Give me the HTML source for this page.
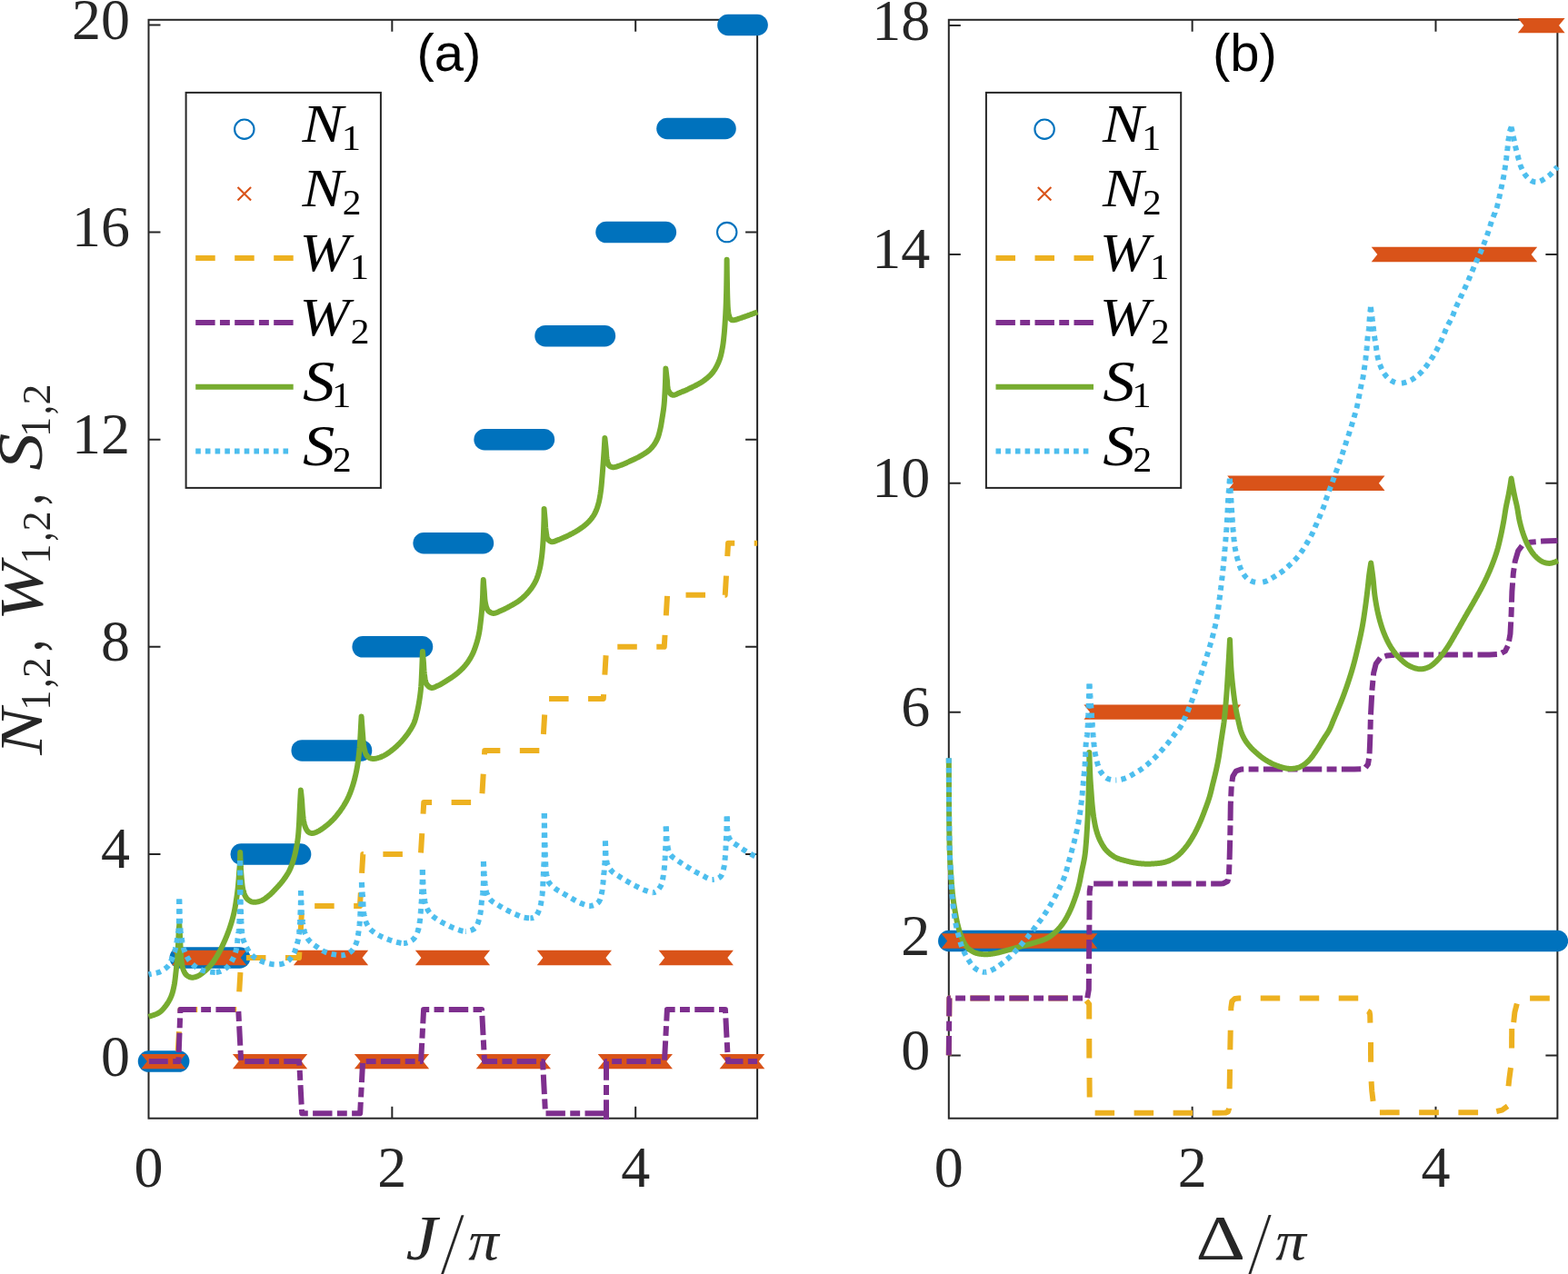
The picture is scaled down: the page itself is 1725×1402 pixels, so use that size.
<!DOCTYPE html>
<html><head><meta charset="utf-8"><title>figure</title>
<style>
html,body{margin:0;padding:0;background:#fff}
svg{display:block}
text{fill:#262626}
.rm{font-family:"Liberation Serif","DejaVu Serif",serif}
.it{font-family:"Liberation Serif","DejaVu Serif",serif;font-style:italic}
.dl{font-family:"DejaVu Sans Light","DejaVu Sans","Liberation Sans",sans-serif;font-weight:200}
.k{fill:#000}
.sf{font-family:"Liberation Sans","DejaVu Sans",sans-serif;fill:#000}
</style></head><body>
<svg width="1725" height="1402" viewBox="0 0 1725 1402">
<rect width="1725" height="1402" fill="#fff"/>
<rect x="163.5" y="21.8" width="669.6" height="1208.9" fill="none" stroke="#262626" stroke-width="2"/>
<path d="M431.34,1230.7 v-13 M431.34,21.8 v13 M699.18,1230.7 v-13 M699.18,21.8 v13 M163.5,1168.1 h13 M833.1,1168.1 h-13 M163.5,939.98 h13 M833.1,939.98 h-13 M163.5,711.86 h13 M833.1,711.86 h-13 M163.5,483.74 h13 M833.1,483.74 h-13 M163.5,255.62 h13 M833.1,255.62 h-13 M163.5,27.5 h13 M833.1,27.5 h-13" stroke="#262626" stroke-width="2" fill="none"/>
<path d="M163.5,1168.1 H196.68" stroke="#0072BD" stroke-width="23.5" stroke-linecap="round" fill="none"/>
<path d="M198.28,1054.04 H263.64" stroke="#0072BD" stroke-width="23.5" stroke-linecap="round" fill="none"/>
<path d="M265.24,939.98 H330.6" stroke="#0072BD" stroke-width="23.5" stroke-linecap="round" fill="none"/>
<path d="M332.2,825.92 H397.56" stroke="#0072BD" stroke-width="23.5" stroke-linecap="round" fill="none"/>
<path d="M399.16,711.86 H464.52" stroke="#0072BD" stroke-width="23.5" stroke-linecap="round" fill="none"/>
<path d="M466.12,597.8 H531.48" stroke="#0072BD" stroke-width="23.5" stroke-linecap="round" fill="none"/>
<path d="M533.08,483.74 H598.44" stroke="#0072BD" stroke-width="23.5" stroke-linecap="round" fill="none"/>
<path d="M600.04,369.68 H665.4" stroke="#0072BD" stroke-width="23.5" stroke-linecap="round" fill="none"/>
<path d="M667,255.62 H732.36" stroke="#0072BD" stroke-width="23.5" stroke-linecap="round" fill="none"/>
<path d="M733.96,141.56 H798.02" stroke="#0072BD" stroke-width="23.5" stroke-linecap="round" fill="none"/>
<path d="M800.92,27.5 H833.1" stroke="#0072BD" stroke-width="23.5" stroke-linecap="round" fill="none"/>
<circle cx="799.72" cy="255.62" r="10.7" fill="none" stroke="#0072BD" stroke-width="2.1"/>
<polygon points="155.3,1159.9 204.28,1159.9 197.68,1168.1 204.28,1176.3 155.3,1176.3 161.9,1168.1" fill="#D95319"/>
<polygon points="188.98,1045.84 271.24,1045.84 264.64,1054.04 271.24,1062.24 188.98,1062.24 195.58,1054.04" fill="#D95319"/>
<polygon points="255.94,1159.9 338.2,1159.9 331.6,1168.1 338.2,1176.3 255.94,1176.3 262.54,1168.1" fill="#D95319"/>
<polygon points="322.9,1045.84 405.16,1045.84 398.56,1054.04 405.16,1062.24 322.9,1062.24 329.5,1054.04" fill="#D95319"/>
<polygon points="389.86,1159.9 472.12,1159.9 465.52,1168.1 472.12,1176.3 389.86,1176.3 396.46,1168.1" fill="#D95319"/>
<polygon points="456.82,1045.84 539.08,1045.84 532.48,1054.04 539.08,1062.24 456.82,1062.24 463.42,1054.04" fill="#D95319"/>
<polygon points="523.78,1159.9 606.04,1159.9 599.44,1168.1 606.04,1176.3 523.78,1176.3 530.38,1168.1" fill="#D95319"/>
<polygon points="590.74,1045.84 673,1045.84 666.4,1054.04 673,1062.24 590.74,1062.24 597.34,1054.04" fill="#D95319"/>
<polygon points="657.7,1159.9 739.96,1159.9 733.36,1168.1 739.96,1176.3 657.7,1176.3 664.3,1168.1" fill="#D95319"/>
<polygon points="724.66,1045.84 806.92,1045.84 800.32,1054.04 806.92,1062.24 724.66,1062.24 731.26,1054.04" fill="#D95319"/>
<polygon points="791.62,1159.9 841.3,1159.9 834.7,1168.1 841.3,1176.3 791.62,1176.3 798.22,1168.1" fill="#D95319"/>
<path d="M163.5,1168.1 L195.08,1168.1 L198.43,1111.07 L262.04,1111.07 L265.39,1054.04 L329,1054.04 L332.35,997.01 L395.96,997.01 L399.31,939.98 L462.92,939.98 L466.27,882.95 L529.88,882.95 L533.23,825.92 L596.84,825.92 L600.19,768.89 L663.8,768.89 L667.15,711.86 L730.76,711.86 L734.11,654.83 L797.72,654.83 L801.07,597.8 L833.1,597.8" fill="none" stroke="#EDB120" stroke-width="6" stroke-linejoin="round" stroke-linecap="butt" stroke-dasharray="21.5 21.5" stroke-dashoffset="0"/>
<path d="M163.5,1168.1 L196.38,1168.1 L198.38,1111.07 L262.24,1111.07 L265.19,1168.1 L329.2,1168.1 L332.15,1225.13 L396.16,1225.13 L399.11,1168.1 L463.12,1168.1 L466.07,1111.07 L530.08,1111.07 L533.03,1168.1 L597.04,1168.1 L599.99,1225.13 L667,1225.13 L667,1231.7" fill="none" stroke="#7E2F8E" stroke-width="6" stroke-linejoin="round" stroke-linecap="butt" stroke-dasharray="21.4 5.35 10.9 5.35" stroke-dashoffset="0"/>
<path d="M667,1231.7 L667,1168.1 L730.96,1168.1 L733.91,1111.07 L797.92,1111.07 L800.87,1168.1 L833.1,1168.1" fill="none" stroke="#7E2F8E" stroke-width="6" stroke-linejoin="round" stroke-linecap="butt" stroke-dasharray="21.4 5.35 10.9 5.35" stroke-dashoffset="0"/>
<path d="M163.5,1118.9 L164.08,1118.68 L164.66,1118.47 L165.26,1118.27 L165.85,1118.07 L166.45,1117.87 L167.05,1117.68 L167.66,1117.49 L168.26,1117.3 L168.86,1117.11 L169.46,1116.91 L170.05,1116.71 L170.64,1116.5 L171.22,1116.29 L171.79,1116.06 L172.36,1115.82 L172.91,1115.57 L173.45,1115.3 L173.98,1115.02 L174.5,1114.72 L175,1114.4 L175.5,1114.05 L175.98,1113.69 L176.46,1113.31 L176.93,1112.92 L177.39,1112.52 L177.84,1112.1 L178.28,1111.67 L178.71,1111.23 L179.14,1110.78 L179.56,1110.32 L179.96,1109.86 L180.37,1109.39 L180.76,1108.91 L181.15,1108.43 L181.53,1107.95 L181.91,1107.46 L182.28,1106.98 L182.64,1106.49 L183,1106 L183.35,1105.51 L183.69,1105.02 L184.03,1104.52 L184.36,1104.02 L184.68,1103.51 L185,1103 L185.31,1102.48 L185.62,1101.96 L185.91,1101.43 L186.2,1100.9 L186.49,1100.37 L186.76,1099.83 L187.03,1099.29 L187.29,1098.75 L187.55,1098.2 L187.8,1097.65 L188.04,1097.1 L188.27,1096.55 L188.5,1096 L188.72,1095.45 L188.93,1094.89 L189.13,1094.34 L189.32,1093.78 L189.5,1093.22 L189.67,1092.66 L189.84,1092.1 L190,1091.54 L190.15,1090.97 L190.3,1090.39 L190.45,1089.82 L190.59,1089.23 L190.72,1088.65 L190.86,1088.05 L190.99,1087.46 L191.12,1086.85 L191.25,1086.24 L191.37,1085.62 L191.5,1085 L191.61,1084.45 L191.71,1083.88 L191.82,1083.32 L191.91,1082.74 L192.01,1082.16 L192.1,1081.57 L192.19,1080.98 L192.27,1080.39 L192.36,1079.78 L192.44,1079.18 L192.51,1078.57 L192.59,1077.96 L192.67,1077.35 L192.74,1076.74 L192.81,1076.12 L192.88,1075.51 L192.95,1074.89 L193.02,1074.27 L193.09,1073.66 L193.16,1073.04 L193.22,1072.43 L193.29,1071.82 L193.36,1071.21 L193.43,1070.6 L193.5,1070 L193.57,1069.4 L193.64,1068.8 L193.71,1068.2 L193.77,1067.6 L193.84,1067 L193.91,1066.4 L193.97,1065.8 L194.03,1065.2 L194.1,1064.6 L194.16,1064 L194.22,1063.4 L194.28,1062.8 L194.34,1062.2 L194.4,1061.6 L194.46,1061 L194.52,1060.4 L194.57,1059.8 L194.63,1059.2 L194.69,1058.6 L194.74,1058 L194.79,1057.4 L194.85,1056.8 L194.9,1056.2 L194.95,1055.6 L195,1055 L195.05,1054.4 L195.1,1053.8 L195.15,1053.2 L195.19,1052.6 L195.24,1052 L195.28,1051.4 L195.32,1050.8 L195.37,1050.2 L195.41,1049.6 L195.45,1049 L195.49,1048.4 L195.53,1047.8 L195.57,1047.2 L195.61,1046.6 L195.65,1046 L195.68,1045.4 L195.72,1044.8 L195.76,1044.2 L195.79,1043.6 L195.83,1043 L195.86,1042.4 L195.9,1041.8 L195.93,1041.2 L195.97,1040.6 L196,1040 L196.03,1039.4 L196.07,1038.79 L196.1,1038.17 L196.13,1037.55 L196.16,1036.93 L196.19,1036.3 L196.21,1035.67 L196.24,1035.04 L196.27,1034.41 L196.29,1033.78 L196.32,1033.15 L196.35,1032.52 L196.37,1031.9 L196.4,1031.28 L196.42,1030.66 L196.45,1030.05 L196.48,1029.45 L196.5,1028.86 L196.53,1028.28 L196.56,1027.7 L196.58,1027.14 L196.61,1026.58 L196.64,1026.04 L196.67,1025.51 L196.7,1025 L196.74,1024.3 L196.79,1023.63 L196.83,1022.98 L196.88,1022.35 L196.93,1021.74 L196.97,1021.14 L197.02,1020.55 L197.07,1019.96 L197.11,1019.38 L197.16,1018.79 L197.21,1018.21 L197.25,1017.61 L197.3,1017 L197.33,1017.62 L197.37,1018.23 L197.4,1018.83 L197.43,1019.44 L197.46,1020.04 L197.5,1020.63 L197.53,1021.23 L197.56,1021.83 L197.59,1022.43 L197.63,1023.03 L197.66,1023.63 L197.69,1024.24 L197.73,1024.85 L197.76,1025.46 L197.79,1026.08 L197.83,1026.71 L197.86,1027.35 L197.89,1028 L197.93,1028.65 L197.96,1029.32 L198,1030 L198.03,1030.55 L198.06,1031.1 L198.08,1031.68 L198.11,1032.26 L198.14,1032.85 L198.17,1033.45 L198.19,1034.06 L198.22,1034.68 L198.25,1035.31 L198.28,1035.94 L198.3,1036.57 L198.33,1037.21 L198.36,1037.85 L198.39,1038.5 L198.42,1039.14 L198.45,1039.79 L198.48,1040.43 L198.5,1041.08 L198.53,1041.72 L198.56,1042.35 L198.59,1042.99 L198.63,1043.61 L198.66,1044.24 L198.69,1044.85 L198.72,1045.46 L198.75,1046.05 L198.79,1046.64 L198.82,1047.21 L198.86,1047.78 L198.89,1048.33 L198.93,1048.87 L198.96,1049.39 L199,1049.9 L199.05,1050.62 L199.1,1051.32 L199.15,1052 L199.2,1052.67 L199.25,1053.32 L199.3,1053.96 L199.35,1054.58 L199.41,1055.19 L199.46,1055.79 L199.52,1056.39 L199.59,1056.98 L199.66,1057.57 L199.73,1058.15 L199.81,1058.73 L199.9,1059.31 L200,1059.9 L200.12,1060.55 L200.23,1061.21 L200.36,1061.86 L200.48,1062.51 L200.62,1063.15 L200.76,1063.79 L200.9,1064.41 L201.06,1065.03 L201.22,1065.64 L201.4,1066.23 L201.59,1066.8 L201.79,1067.36 L202,1067.9 L202.27,1068.54 L202.54,1069.16 L202.82,1069.77 L203.11,1070.36 L203.43,1070.92 L203.77,1071.46 L204.14,1071.97 L204.55,1072.45 L205,1072.9 L205.43,1073.27 L205.91,1073.63 L206.41,1073.97 L206.94,1074.3 L207.49,1074.6 L208.06,1074.87 L208.65,1075.12 L209.24,1075.33 L209.83,1075.5 L210.42,1075.62 L211,1075.7 L211.56,1075.73 L212.13,1075.71 L212.71,1075.65 L213.3,1075.56 L213.89,1075.43 L214.49,1075.27 L215.09,1075.08 L215.68,1074.88 L216.27,1074.65 L216.86,1074.41 L217.43,1074.16 L218,1073.9 L218.52,1073.64 L219.04,1073.36 L219.55,1073.06 L220.06,1072.75 L220.57,1072.41 L221.07,1072.06 L221.57,1071.69 L222.07,1071.31 L222.56,1070.92 L223.05,1070.53 L223.54,1070.13 L224.03,1069.72 L224.52,1069.31 L225,1068.9 L225.45,1068.51 L225.9,1068.12 L226.35,1067.73 L226.79,1067.33 L227.24,1066.93 L227.68,1066.52 L228.12,1066.1 L228.55,1065.67 L228.99,1065.24 L229.42,1064.79 L229.86,1064.34 L230.29,1063.88 L230.72,1063.4 L231.14,1062.91 L231.57,1062.41 L232,1061.9 L232.34,1061.47 L232.69,1061.04 L233.04,1060.59 L233.38,1060.13 L233.73,1059.66 L234.08,1059.18 L234.42,1058.7 L234.77,1058.2 L235.12,1057.7 L235.46,1057.2 L235.8,1056.69 L236.14,1056.17 L236.48,1055.65 L236.82,1055.13 L237.15,1054.6 L237.49,1054.08 L237.81,1053.55 L238.14,1053.02 L238.46,1052.5 L238.78,1051.97 L239.09,1051.45 L239.4,1050.93 L239.7,1050.41 L240,1049.9 L240.31,1049.36 L240.61,1048.83 L240.91,1048.29 L241.21,1047.75 L241.5,1047.2 L241.78,1046.66 L242.07,1046.12 L242.34,1045.58 L242.62,1045.03 L242.89,1044.48 L243.16,1043.94 L243.43,1043.39 L243.7,1042.84 L243.96,1042.3 L244.22,1041.75 L244.48,1041.2 L244.73,1040.65 L244.99,1040.1 L245.24,1039.55 L245.5,1039 L245.75,1038.45 L246,1037.9 L246.26,1037.33 L246.52,1036.77 L246.77,1036.2 L247.02,1035.63 L247.27,1035.06 L247.52,1034.49 L247.77,1033.92 L248.01,1033.35 L248.26,1032.78 L248.5,1032.21 L248.73,1031.64 L248.97,1031.06 L249.21,1030.49 L249.44,1029.92 L249.67,1029.35 L249.89,1028.77 L250.12,1028.2 L250.34,1027.62 L250.56,1027.05 L250.78,1026.48 L251,1025.9 L251.21,1025.33 L251.42,1024.76 L251.63,1024.2 L251.83,1023.63 L252.04,1023.06 L252.24,1022.49 L252.44,1021.92 L252.64,1021.35 L252.83,1020.78 L253.02,1020.2 L253.21,1019.63 L253.4,1019.06 L253.59,1018.49 L253.77,1017.92 L253.95,1017.34 L254.13,1016.77 L254.31,1016.2 L254.49,1015.62 L254.66,1015.05 L254.83,1014.47 L255,1013.9 L255.17,1013.3 L255.34,1012.71 L255.51,1012.11 L255.68,1011.51 L255.84,1010.91 L256,1010.31 L256.16,1009.71 L256.32,1009.11 L256.47,1008.51 L256.62,1007.91 L256.77,1007.31 L256.92,1006.71 L257.06,1006.11 L257.2,1005.51 L257.34,1004.91 L257.48,1004.31 L257.61,1003.7 L257.74,1003.1 L257.87,1002.5 L258,1001.9 L258.12,1001.3 L258.24,1000.71 L258.36,1000.11 L258.47,999.51 L258.58,998.9 L258.69,998.3 L258.79,997.7 L258.89,997.09 L258.99,996.49 L259.09,995.89 L259.19,995.29 L259.28,994.69 L259.37,994.09 L259.47,993.5 L259.56,992.9 L259.65,992.32 L259.74,991.73 L259.82,991.15 L259.91,990.57 L260,990 L260.1,989.35 L260.2,988.71 L260.29,988.07 L260.39,987.44 L260.48,986.81 L260.57,986.19 L260.66,985.57 L260.75,984.95 L260.84,984.33 L260.92,983.71 L261.01,983.1 L261.09,982.48 L261.17,981.86 L261.25,981.25 L261.32,980.62 L261.4,980 L261.47,979.38 L261.55,978.75 L261.62,978.13 L261.68,977.5 L261.75,976.88 L261.82,976.25 L261.88,975.63 L261.94,975 L262,974.38 L262.06,973.75 L262.12,973.13 L262.18,972.5 L262.24,971.88 L262.29,971.25 L262.35,970.63 L262.4,970 L262.45,969.38 L262.5,968.75 L262.55,968.13 L262.59,967.5 L262.64,966.88 L262.68,966.25 L262.72,965.63 L262.76,965 L262.8,964.38 L262.84,963.75 L262.88,963.13 L262.92,962.5 L262.97,961.87 L263.01,961.25 L263.05,960.62 L263.1,960 L263.15,959.38 L263.2,958.76 L263.25,958.14 L263.3,957.52 L263.36,956.91 L263.41,956.29 L263.47,955.67 L263.53,955.06 L263.58,954.44 L263.63,953.82 L263.68,953.19 L263.73,952.57 L263.78,951.93 L263.82,951.29 L263.86,950.65 L263.9,950 L263.93,949.43 L263.95,948.84 L263.98,948.26 L264,947.67 L264.02,947.08 L264.03,946.48 L264.05,945.88 L264.06,945.28 L264.08,944.68 L264.09,944.07 L264.1,943.46 L264.11,942.85 L264.12,942.24 L264.13,941.63 L264.14,941.03 L264.15,940.42 L264.16,939.81 L264.17,939.2 L264.19,938.6 L264.2,938 L264.22,938.61 L264.25,939.22 L264.27,939.83 L264.3,940.45 L264.32,941.07 L264.34,941.68 L264.36,942.3 L264.39,942.92 L264.41,943.54 L264.43,944.17 L264.45,944.79 L264.48,945.41 L264.5,946.03 L264.52,946.64 L264.54,947.26 L264.57,947.87 L264.59,948.49 L264.62,949.1 L264.64,949.71 L264.67,950.31 L264.69,950.91 L264.72,951.51 L264.75,952.1 L264.78,952.69 L264.8,953.28 L264.84,953.86 L264.87,954.43 L264.9,955 L264.94,955.66 L264.98,956.31 L265.02,956.96 L265.06,957.6 L265.1,958.24 L265.14,958.88 L265.18,959.51 L265.23,960.13 L265.27,960.75 L265.31,961.37 L265.36,961.99 L265.41,962.6 L265.46,963.21 L265.51,963.81 L265.56,964.42 L265.61,965.02 L265.66,965.62 L265.72,966.22 L265.78,966.81 L265.84,967.41 L265.9,968 L265.97,968.64 L266.03,969.27 L266.09,969.9 L266.15,970.54 L266.21,971.16 L266.27,971.79 L266.34,972.41 L266.4,973.03 L266.47,973.65 L266.54,974.26 L266.62,974.87 L266.71,975.47 L266.8,976.07 L266.9,976.67 L267.01,977.26 L267.13,977.84 L267.26,978.42 L267.4,979 L267.56,979.6 L267.72,980.21 L267.89,980.83 L268.06,981.44 L268.25,982.05 L268.44,982.66 L268.63,983.26 L268.84,983.86 L269.06,984.44 L269.29,985.01 L269.52,985.56 L269.77,986.1 L270.03,986.61 L270.31,987.1 L270.6,987.56 L270.9,988 L271.32,988.54 L271.78,989.04 L272.26,989.52 L272.76,989.98 L273.28,990.4 L273.81,990.78 L274.34,991.14 L274.87,991.46 L275.39,991.75 L275.9,992 L276.55,992.28 L277.18,992.49 L277.81,992.64 L278.47,992.74 L279.15,992.79 L279.9,992.8 L280.43,992.78 L280.98,992.75 L281.57,992.69 L282.17,992.61 L282.79,992.51 L283.43,992.39 L284.08,992.25 L284.73,992.09 L285.38,991.91 L286.02,991.71 L286.66,991.49 L287.29,991.26 L287.9,991 L288.42,990.76 L288.94,990.49 L289.46,990.21 L289.99,989.9 L290.51,989.58 L291.03,989.24 L291.55,988.89 L292.06,988.53 L292.57,988.15 L293.08,987.77 L293.59,987.38 L294.09,986.98 L294.58,986.58 L295.07,986.19 L295.56,985.79 L296.03,985.39 L296.5,985 L296.97,984.6 L297.44,984.19 L297.9,983.77 L298.35,983.35 L298.79,982.93 L299.23,982.5 L299.66,982.06 L300.09,981.62 L300.52,981.18 L300.94,980.74 L301.36,980.29 L301.79,979.84 L302.21,979.38 L302.64,978.92 L303.07,978.46 L303.5,978 L303.91,977.56 L304.32,977.13 L304.73,976.69 L305.14,976.25 L305.55,975.81 L305.96,975.37 L306.37,974.93 L306.78,974.48 L307.19,974.03 L307.6,973.57 L308.01,973.11 L308.41,972.64 L308.82,972.17 L309.22,971.69 L309.62,971.2 L310.02,970.71 L310.41,970.21 L310.8,969.7 L311.15,969.23 L311.51,968.75 L311.87,968.27 L312.23,967.78 L312.59,967.28 L312.95,966.77 L313.31,966.26 L313.66,965.75 L314.02,965.23 L314.37,964.71 L314.72,964.18 L315.07,963.65 L315.41,963.12 L315.75,962.59 L316.08,962.05 L316.4,961.51 L316.72,960.98 L317.04,960.44 L317.34,959.9 L317.64,959.37 L317.92,958.83 L318.2,958.3 L318.48,957.75 L318.75,957.19 L319.01,956.64 L319.26,956.08 L319.51,955.52 L319.75,954.96 L319.98,954.4 L320.21,953.83 L320.43,953.27 L320.65,952.7 L320.86,952.14 L321.07,951.57 L321.27,951 L321.47,950.43 L321.66,949.86 L321.85,949.29 L322.04,948.72 L322.23,948.15 L322.42,947.57 L322.6,947 L322.79,946.4 L322.97,945.81 L323.15,945.21 L323.32,944.61 L323.49,944.02 L323.65,943.42 L323.81,942.82 L323.96,942.22 L324.11,941.62 L324.26,941.01 L324.41,940.41 L324.55,939.8 L324.69,939.2 L324.83,938.59 L324.97,937.97 L325.1,937.36 L325.23,936.74 L325.37,936.12 L325.5,935.5 L325.62,934.91 L325.75,934.31 L325.87,933.72 L325.99,933.12 L326.11,932.52 L326.22,931.92 L326.33,931.32 L326.45,930.72 L326.56,930.11 L326.66,929.5 L326.77,928.89 L326.87,928.28 L326.98,927.67 L327.07,927.05 L327.17,926.44 L327.27,925.82 L327.36,925.2 L327.45,924.58 L327.53,923.95 L327.62,923.33 L327.7,922.7 L327.78,922.1 L327.85,921.49 L327.92,920.88 L327.98,920.26 L328.05,919.65 L328.11,919.03 L328.17,918.41 L328.22,917.79 L328.28,917.17 L328.33,916.54 L328.38,915.92 L328.43,915.29 L328.47,914.66 L328.52,914.04 L328.56,913.41 L328.61,912.78 L328.65,912.15 L328.69,911.53 L328.74,910.9 L328.78,910.27 L328.82,909.65 L328.86,909.02 L328.9,908.4 L328.94,907.78 L328.98,907.16 L329.02,906.54 L329.05,905.91 L329.09,905.29 L329.12,904.67 L329.15,904.05 L329.18,903.43 L329.21,902.8 L329.24,902.18 L329.27,901.56 L329.29,900.94 L329.32,900.31 L329.35,899.69 L329.38,899.07 L329.4,898.45 L329.43,897.83 L329.46,897.21 L329.48,896.58 L329.51,895.96 L329.54,895.34 L329.57,894.72 L329.6,894.1 L329.63,893.48 L329.66,892.86 L329.69,892.23 L329.72,891.6 L329.75,890.97 L329.78,890.34 L329.81,889.7 L329.84,889.07 L329.87,888.44 L329.9,887.8 L329.93,887.17 L329.97,886.54 L330,885.92 L330.03,885.29 L330.06,884.67 L330.09,884.06 L330.12,883.45 L330.15,882.84 L330.18,882.24 L330.21,881.64 L330.24,881.05 L330.27,880.47 L330.3,879.9 L330.34,879.25 L330.37,878.6 L330.41,877.97 L330.44,877.34 L330.48,876.72 L330.51,876.11 L330.55,875.5 L330.58,874.9 L330.62,874.3 L330.65,873.7 L330.69,873.11 L330.72,872.51 L330.76,871.91 L330.79,871.31 L330.83,870.71 L330.86,870.11 L330.9,869.5 L330.97,870.11 L331.03,870.71 L331.1,871.31 L331.16,871.91 L331.23,872.51 L331.3,873.1 L331.36,873.7 L331.43,874.3 L331.5,874.9 L331.56,875.5 L331.63,876.11 L331.69,876.72 L331.76,877.34 L331.82,877.97 L331.88,878.6 L331.94,879.25 L332,879.9 L332.05,880.48 L332.1,881.06 L332.14,881.66 L332.19,882.27 L332.23,882.89 L332.27,883.51 L332.31,884.14 L332.35,884.77 L332.39,885.41 L332.43,886.05 L332.47,886.7 L332.51,887.34 L332.55,887.98 L332.59,888.62 L332.63,889.26 L332.67,889.89 L332.71,890.52 L332.76,891.14 L332.8,891.75 L332.85,892.36 L332.9,892.95 L332.95,893.53 L333,894.1 L333.06,894.78 L333.13,895.45 L333.19,896.11 L333.25,896.77 L333.31,897.42 L333.37,898.06 L333.43,898.7 L333.5,899.33 L333.56,899.95 L333.64,900.56 L333.71,901.17 L333.8,901.77 L333.89,902.36 L333.98,902.95 L334.09,903.53 L334.2,904.1 L334.34,904.75 L334.48,905.39 L334.62,906.02 L334.77,906.65 L334.93,907.26 L335.1,907.87 L335.27,908.46 L335.45,909.04 L335.65,909.61 L335.85,910.16 L336.07,910.69 L336.3,911.2 L336.6,911.83 L336.91,912.45 L337.24,913.04 L337.58,913.62 L337.94,914.16 L338.33,914.66 L338.75,915.11 L339.2,915.5 L339.72,915.87 L340.27,916.19 L340.85,916.46 L341.46,916.69 L342.09,916.85 L342.74,916.96 L343.4,917 L343.94,916.98 L344.49,916.9 L345.06,916.78 L345.64,916.62 L346.23,916.43 L346.84,916.2 L347.45,915.95 L348.06,915.68 L348.67,915.4 L349.29,915.1 L349.9,914.8 L350.38,914.55 L350.87,914.29 L351.37,914.01 L351.87,913.72 L352.37,913.41 L352.87,913.1 L353.38,912.77 L353.88,912.43 L354.39,912.08 L354.9,911.72 L355.41,911.36 L355.91,910.99 L356.42,910.62 L356.92,910.24 L357.42,909.86 L357.91,909.48 L358.4,909.1 L358.86,908.73 L359.33,908.36 L359.79,907.99 L360.25,907.61 L360.72,907.23 L361.18,906.84 L361.63,906.44 L362.09,906.04 L362.55,905.64 L363,905.23 L363.45,904.82 L363.91,904.4 L364.35,903.97 L364.8,903.54 L365.25,903.1 L365.69,902.66 L366.13,902.21 L366.57,901.76 L367,901.3 L367.41,900.86 L367.81,900.42 L368.21,899.97 L368.62,899.51 L369.02,899.05 L369.42,898.58 L369.82,898.11 L370.21,897.63 L370.61,897.15 L371,896.67 L371.39,896.17 L371.78,895.68 L372.17,895.18 L372.55,894.68 L372.93,894.18 L373.31,893.67 L373.68,893.16 L374.05,892.65 L374.42,892.14 L374.78,891.63 L375.14,891.11 L375.5,890.6 L375.84,890.1 L376.19,889.59 L376.53,889.08 L376.87,888.57 L377.2,888.05 L377.54,887.53 L377.87,887.01 L378.2,886.49 L378.52,885.96 L378.85,885.43 L379.17,884.9 L379.48,884.37 L379.8,883.83 L380.11,883.29 L380.41,882.75 L380.71,882.21 L381.01,881.67 L381.3,881.13 L381.59,880.59 L381.88,880.04 L382.16,879.49 L382.43,878.95 L382.7,878.4 L382.97,877.83 L383.24,877.27 L383.5,876.7 L383.76,876.12 L384.01,875.55 L384.25,874.97 L384.49,874.39 L384.73,873.81 L384.97,873.23 L385.19,872.65 L385.42,872.06 L385.64,871.48 L385.86,870.89 L386.08,870.3 L386.29,869.72 L386.5,869.13 L386.7,868.54 L386.91,867.95 L387.11,867.36 L387.31,866.78 L387.5,866.19 L387.7,865.6 L387.89,865.02 L388.08,864.44 L388.26,863.86 L388.44,863.28 L388.61,862.69 L388.79,862.11 L388.96,861.52 L389.13,860.94 L389.29,860.35 L389.45,859.76 L389.61,859.18 L389.77,858.59 L389.92,858.01 L390.07,857.42 L390.22,856.84 L390.37,856.26 L390.51,855.67 L390.66,855.1 L390.79,854.52 L390.93,853.94 L391.07,853.37 L391.2,852.8 L391.34,852.18 L391.48,851.57 L391.61,850.97 L391.74,850.37 L391.87,849.77 L391.99,849.17 L392.11,848.58 L392.23,847.99 L392.34,847.39 L392.46,846.8 L392.57,846.21 L392.67,845.61 L392.78,845.01 L392.89,844.4 L392.99,843.8 L393.09,843.18 L393.2,842.56 L393.3,841.93 L393.4,841.3 L393.49,840.71 L393.58,840.12 L393.67,839.52 L393.76,838.91 L393.85,838.3 L393.94,837.69 L394.02,837.07 L394.11,836.45 L394.19,835.83 L394.27,835.2 L394.35,834.57 L394.43,833.94 L394.51,833.31 L394.58,832.68 L394.66,832.05 L394.73,831.42 L394.8,830.8 L394.87,830.17 L394.94,829.55 L395.01,828.93 L395.07,828.32 L395.14,827.71 L395.2,827.1 L395.26,826.47 L395.32,825.85 L395.38,825.23 L395.44,824.61 L395.49,823.99 L395.54,823.37 L395.6,822.76 L395.64,822.14 L395.69,821.53 L395.74,820.92 L395.78,820.31 L395.83,819.7 L395.87,819.09 L395.91,818.48 L395.96,817.87 L396,817.26 L396.04,816.65 L396.08,816.04 L396.12,815.42 L396.16,814.81 L396.2,814.2 L396.24,813.59 L396.28,812.98 L396.32,812.37 L396.35,811.76 L396.39,811.15 L396.42,810.54 L396.46,809.93 L396.49,809.33 L396.52,808.72 L396.55,808.11 L396.58,807.5 L396.62,806.89 L396.65,806.28 L396.68,805.67 L396.71,805.06 L396.74,804.45 L396.77,803.84 L396.8,803.23 L396.83,802.62 L396.87,802.01 L396.9,801.4 L396.93,800.78 L396.97,800.17 L397,799.55 L397.03,798.93 L397.07,798.31 L397.1,797.69 L397.13,797.07 L397.17,796.45 L397.2,795.84 L397.23,795.22 L397.27,794.6 L397.3,793.98 L397.33,793.36 L397.37,792.74 L397.4,792.12 L397.43,791.5 L397.47,790.88 L397.5,790.26 L397.53,789.64 L397.57,789.02 L397.6,788.4 L397.65,789.01 L397.69,789.62 L397.74,790.24 L397.78,790.86 L397.83,791.48 L397.87,792.1 L397.92,792.72 L397.96,793.35 L398,793.97 L398.05,794.6 L398.09,795.23 L398.14,795.85 L398.18,796.48 L398.23,797.1 L398.27,797.73 L398.32,798.35 L398.36,798.98 L398.41,799.6 L398.45,800.21 L398.5,800.83 L398.54,801.44 L398.59,802.05 L398.63,802.66 L398.68,803.27 L398.72,803.87 L398.77,804.46 L398.82,805.05 L398.86,805.64 L398.91,806.22 L398.96,806.8 L399,807.37 L399.05,807.94 L399.1,808.5 L399.16,809.17 L399.21,809.85 L399.26,810.51 L399.3,811.18 L399.35,811.84 L399.39,812.5 L399.44,813.16 L399.48,813.81 L399.52,814.45 L399.57,815.09 L399.61,815.73 L399.66,816.36 L399.71,816.98 L399.76,817.6 L399.82,818.21 L399.89,818.81 L399.95,819.41 L400.03,819.99 L400.11,820.57 L400.19,821.14 L400.29,821.71 L400.39,822.26 L400.5,822.8 L400.64,823.46 L400.79,824.11 L400.94,824.76 L401.1,825.41 L401.26,826.05 L401.43,826.68 L401.61,827.29 L401.79,827.89 L401.99,828.47 L402.19,829.03 L402.41,829.56 L402.64,830.07 L402.88,830.54 L403.13,830.99 L403.4,831.4 L403.83,831.96 L404.28,832.46 L404.75,832.9 L405.25,833.29 L405.78,833.63 L406.33,833.93 L406.9,834.2 L407.45,834.42 L408.02,834.59 L408.62,834.73 L409.23,834.84 L409.86,834.91 L410.52,834.94 L411.2,834.94 L411.9,834.9 L412.41,834.85 L412.93,834.78 L413.48,834.69 L414.04,834.58 L414.61,834.45 L415.2,834.3 L415.79,834.13 L416.39,833.96 L417,833.76 L417.61,833.56 L418.22,833.34 L418.83,833.11 L419.43,832.87 L420.03,832.62 L420.62,832.36 L421.2,832.1 L421.73,831.84 L422.27,831.58 L422.8,831.3 L423.34,831 L423.87,830.7 L424.4,830.38 L424.93,830.06 L425.46,829.72 L425.99,829.38 L426.52,829.02 L427.05,828.66 L427.57,828.3 L428.1,827.93 L428.62,827.55 L429.14,827.17 L429.66,826.78 L430.17,826.39 L430.69,826 L431.2,825.6 L431.67,825.23 L432.14,824.86 L432.61,824.48 L433.08,824.09 L433.55,823.7 L434.02,823.3 L434.49,822.9 L434.95,822.49 L435.42,822.08 L435.88,821.66 L436.34,821.24 L436.8,820.81 L437.25,820.38 L437.7,819.95 L438.15,819.52 L438.6,819.08 L439.04,818.64 L439.48,818.19 L439.92,817.75 L440.35,817.3 L440.78,816.85 L441.2,816.4 L441.62,815.94 L442.04,815.48 L442.46,815.02 L442.87,814.55 L443.28,814.07 L443.69,813.59 L444.1,813.11 L444.5,812.63 L444.9,812.14 L445.3,811.65 L445.69,811.16 L446.08,810.66 L446.47,810.16 L446.85,809.67 L447.22,809.17 L447.6,808.67 L447.96,808.18 L448.32,807.68 L448.67,807.18 L449.02,806.69 L449.36,806.19 L449.7,805.7 L450.05,805.18 L450.4,804.66 L450.74,804.14 L451.08,803.62 L451.41,803.1 L451.74,802.58 L452.06,802.06 L452.37,801.54 L452.68,801.01 L452.99,800.49 L453.28,799.97 L453.57,799.44 L453.86,798.91 L454.13,798.38 L454.4,797.85 L454.66,797.32 L454.92,796.78 L455.16,796.24 L455.4,795.7 L455.65,795.11 L455.88,794.53 L456.1,793.94 L456.31,793.36 L456.5,792.77 L456.69,792.18 L456.88,791.59 L457.05,791 L457.22,790.4 L457.39,789.8 L457.55,789.19 L457.71,788.58 L457.86,787.96 L458.02,787.33 L458.18,786.7 L458.34,786.05 L458.5,785.4 L458.63,784.85 L458.77,784.3 L458.9,783.74 L459.03,783.17 L459.16,782.6 L459.28,782.02 L459.41,781.44 L459.53,780.85 L459.66,780.26 L459.78,779.66 L459.9,779.06 L460.02,778.46 L460.13,777.85 L460.25,777.25 L460.36,776.64 L460.47,776.03 L460.58,775.42 L460.69,774.82 L460.8,774.21 L460.9,773.6 L461,773 L461.1,772.4 L461.2,771.8 L461.3,771.2 L461.39,770.61 L461.49,770.01 L461.58,769.42 L461.67,768.82 L461.76,768.23 L461.84,767.63 L461.93,767.04 L462.01,766.44 L462.09,765.85 L462.17,765.25 L462.25,764.65 L462.32,764.06 L462.4,763.46 L462.47,762.86 L462.54,762.27 L462.61,761.67 L462.68,761.07 L462.74,760.48 L462.81,759.88 L462.87,759.28 L462.93,758.69 L462.99,758.09 L463.04,757.5 L463.1,756.9 L463.15,756.28 L463.21,755.67 L463.25,755.05 L463.3,754.43 L463.34,753.81 L463.38,753.2 L463.42,752.58 L463.46,751.96 L463.49,751.35 L463.53,750.73 L463.56,750.11 L463.59,749.49 L463.62,748.88 L463.65,748.26 L463.68,747.64 L463.7,747.03 L463.73,746.41 L463.76,745.79 L463.79,745.17 L463.81,744.55 L463.84,743.94 L463.87,743.32 L463.9,742.7 L463.93,742.08 L463.96,741.45 L463.99,740.83 L464.02,740.2 L464.05,739.57 L464.08,738.93 L464.1,738.3 L464.13,737.67 L464.16,737.03 L464.18,736.4 L464.21,735.77 L464.24,735.14 L464.26,734.51 L464.29,733.88 L464.31,733.26 L464.34,732.63 L464.36,732.02 L464.38,731.4 L464.41,730.79 L464.43,730.19 L464.45,729.59 L464.48,728.99 L464.5,728.4 L464.52,727.77 L464.55,727.15 L464.57,726.53 L464.59,725.92 L464.61,725.31 L464.64,724.7 L464.66,724.11 L464.68,723.51 L464.7,722.92 L464.72,722.32 L464.74,721.73 L464.76,721.14 L464.78,720.56 L464.8,719.97 L464.82,719.38 L464.84,718.79 L464.86,718.19 L464.88,717.6 L464.9,717 L464.95,717.6 L465.01,718.19 L465.06,718.79 L465.11,719.38 L465.16,719.97 L465.22,720.56 L465.27,721.14 L465.32,721.73 L465.37,722.32 L465.43,722.91 L465.48,723.51 L465.53,724.1 L465.59,724.7 L465.64,725.31 L465.69,725.91 L465.74,726.53 L465.8,727.15 L465.85,727.77 L465.9,728.4 L465.95,728.99 L465.99,729.59 L466.03,730.21 L466.07,730.82 L466.11,731.45 L466.15,732.08 L466.18,732.72 L466.22,733.36 L466.26,734.01 L466.29,734.65 L466.33,735.3 L466.37,735.94 L466.41,736.59 L466.45,737.23 L466.5,737.87 L466.54,738.5 L466.6,739.12 L466.65,739.74 L466.71,740.36 L466.78,740.96 L466.84,741.55 L466.92,742.13 L467,742.7 L467.1,743.38 L467.19,744.06 L467.28,744.75 L467.36,745.43 L467.45,746.11 L467.55,746.78 L467.64,747.44 L467.75,748.09 L467.87,748.72 L468,749.34 L468.15,749.94 L468.31,750.53 L468.5,751.08 L468.71,751.62 L468.94,752.12 L469.2,752.6 L469.58,753.19 L469.99,753.77 L470.44,754.32 L470.91,754.85 L471.42,755.34 L471.94,755.78 L472.49,756.16 L473.05,756.48 L473.62,756.73 L474.2,756.9 L474.72,756.97 L475.27,756.97 L475.83,756.91 L476.4,756.79 L476.99,756.62 L477.58,756.42 L478.19,756.18 L478.8,755.92 L479.42,755.64 L480.05,755.36 L480.67,755.07 L481.3,754.8 L481.8,754.58 L482.3,754.35 L482.8,754.11 L483.32,753.85 L483.83,753.58 L484.35,753.3 L484.87,753.01 L485.4,752.71 L485.93,752.41 L486.46,752.1 L487,751.78 L487.53,751.45 L488.07,751.12 L488.61,750.79 L489.15,750.45 L489.69,750.12 L490.23,749.78 L490.76,749.44 L491.3,749.1 L491.79,748.79 L492.28,748.48 L492.78,748.17 L493.27,747.85 L493.78,747.53 L494.28,747.21 L494.78,746.89 L495.29,746.56 L495.8,746.23 L496.31,745.89 L496.81,745.55 L497.32,745.21 L497.82,744.87 L498.33,744.52 L498.83,744.16 L499.33,743.81 L499.82,743.45 L500.31,743.08 L500.8,742.71 L501.28,742.34 L501.76,741.97 L502.23,741.58 L502.7,741.2 L503.17,740.81 L503.63,740.41 L504.1,740.01 L504.56,739.6 L505.03,739.19 L505.49,738.78 L505.94,738.36 L506.4,737.94 L506.85,737.51 L507.3,737.09 L507.75,736.65 L508.19,736.22 L508.62,735.78 L509.06,735.33 L509.49,734.89 L509.91,734.44 L510.33,733.98 L510.74,733.53 L511.14,733.07 L511.54,732.6 L511.94,732.14 L512.32,731.67 L512.7,731.2 L513.08,730.72 L513.45,730.23 L513.82,729.73 L514.19,729.23 L514.54,728.73 L514.9,728.22 L515.24,727.71 L515.59,727.2 L515.92,726.68 L516.25,726.16 L516.58,725.64 L516.9,725.11 L517.21,724.59 L517.52,724.06 L517.83,723.53 L518.13,723 L518.42,722.46 L518.71,721.93 L518.99,721.4 L519.26,720.86 L519.53,720.33 L519.8,719.8 L520.07,719.24 L520.33,718.68 L520.59,718.12 L520.84,717.56 L521.08,716.99 L521.31,716.43 L521.54,715.86 L521.76,715.29 L521.97,714.72 L522.19,714.15 L522.39,713.57 L522.59,713 L522.79,712.43 L522.99,711.85 L523.18,711.28 L523.37,710.7 L523.55,710.13 L523.74,709.55 L523.92,708.98 L524.1,708.4 L524.29,707.81 L524.47,707.21 L524.64,706.62 L524.82,706.03 L524.99,705.43 L525.15,704.84 L525.31,704.25 L525.47,703.65 L525.63,703.06 L525.78,702.46 L525.93,701.87 L526.07,701.27 L526.21,700.67 L526.35,700.06 L526.49,699.46 L526.62,698.85 L526.75,698.23 L526.88,697.62 L527,697 L527.11,696.41 L527.22,695.82 L527.33,695.22 L527.43,694.62 L527.53,694.01 L527.62,693.41 L527.71,692.8 L527.8,692.19 L527.89,691.58 L527.97,690.97 L528.05,690.35 L528.13,689.74 L528.21,689.12 L528.28,688.5 L528.36,687.89 L528.43,687.27 L528.51,686.66 L528.58,686.04 L528.65,685.43 L528.73,684.81 L528.8,684.2 L528.87,683.59 L528.95,682.98 L529.02,682.37 L529.09,681.76 L529.15,681.15 L529.22,680.54 L529.29,679.93 L529.35,679.32 L529.41,678.71 L529.48,678.1 L529.54,677.49 L529.6,676.88 L529.66,676.26 L529.72,675.65 L529.77,675.03 L529.83,674.42 L529.89,673.8 L529.94,673.18 L530,672.55 L530.05,671.93 L530.1,671.3 L530.15,670.7 L530.2,670.09 L530.24,669.48 L530.29,668.87 L530.33,668.26 L530.38,667.65 L530.42,667.03 L530.46,666.42 L530.51,665.8 L530.55,665.18 L530.59,664.56 L530.62,663.94 L530.66,663.32 L530.7,662.69 L530.74,662.07 L530.77,661.45 L530.81,660.83 L530.84,660.2 L530.87,659.58 L530.91,658.96 L530.94,658.34 L530.97,657.72 L531,657.1 L531.03,656.47 L531.06,655.83 L531.08,655.18 L531.11,654.52 L531.14,653.85 L531.16,653.18 L531.18,652.51 L531.2,651.83 L531.22,651.15 L531.24,650.48 L531.26,649.81 L531.28,649.15 L531.3,648.49 L531.32,647.85 L531.34,647.21 L531.36,646.59 L531.38,645.99 L531.4,645.4 L531.42,644.84 L531.44,644.29 L531.46,643.77 L531.48,643.27 L531.5,642.8 L531.54,642.08 L531.57,641.42 L531.61,640.81 L531.65,640.24 L531.69,639.69 L531.72,639.14 L531.76,638.58 L531.8,638 L531.85,638.62 L531.89,639.25 L531.94,639.87 L531.98,640.49 L532.03,641.1 L532.07,641.72 L532.12,642.34 L532.16,642.96 L532.21,643.57 L532.25,644.19 L532.3,644.81 L532.34,645.44 L532.39,646.06 L532.44,646.69 L532.49,647.32 L532.54,647.96 L532.59,648.6 L532.64,649.25 L532.7,649.9 L532.75,650.5 L532.8,651.11 L532.84,651.74 L532.88,652.37 L532.92,653.01 L532.97,653.65 L533.01,654.3 L533.05,654.96 L533.09,655.62 L533.13,656.27 L533.18,656.93 L533.23,657.58 L533.28,658.23 L533.33,658.88 L533.39,659.52 L533.46,660.14 L533.53,660.76 L533.61,661.37 L533.69,661.97 L533.78,662.55 L533.88,663.12 L533.98,663.67 L534.1,664.2 L534.26,664.9 L534.42,665.59 L534.58,666.28 L534.75,666.95 L534.93,667.61 L535.11,668.25 L535.31,668.87 L535.53,669.47 L535.77,670.04 L536.04,670.58 L536.33,671.09 L536.65,671.56 L537,672 L537.44,672.46 L537.93,672.89 L538.45,673.29 L539,673.66 L539.58,673.99 L540.18,674.27 L540.8,674.51 L541.43,674.69 L542.06,674.82 L542.7,674.9 L543.25,674.91 L543.81,674.86 L544.39,674.76 L544.98,674.62 L545.58,674.43 L546.19,674.22 L546.8,673.97 L547.43,673.71 L548.05,673.43 L548.68,673.14 L549.32,672.84 L549.95,672.55 L550.57,672.27 L551.2,672 L551.74,671.77 L552.29,671.53 L552.83,671.29 L553.38,671.04 L553.93,670.79 L554.48,670.52 L555.03,670.26 L555.59,669.98 L556.14,669.7 L556.7,669.42 L557.26,669.13 L557.82,668.84 L558.38,668.54 L558.94,668.24 L559.5,667.94 L560.07,667.63 L560.63,667.32 L561.2,667 L561.71,666.71 L562.23,666.43 L562.74,666.14 L563.27,665.85 L563.79,665.55 L564.32,665.26 L564.85,664.96 L565.38,664.65 L565.91,664.35 L566.44,664.03 L566.97,663.72 L567.5,663.4 L568.03,663.07 L568.56,662.75 L569.08,662.41 L569.6,662.07 L570.11,661.72 L570.62,661.37 L571.12,661.01 L571.62,660.65 L572.12,660.28 L572.6,659.9 L573.07,659.52 L573.54,659.14 L574.01,658.74 L574.48,658.34 L574.94,657.94 L575.4,657.52 L575.86,657.11 L576.32,656.68 L576.77,656.25 L577.22,655.82 L577.66,655.38 L578.1,654.94 L578.54,654.5 L578.97,654.05 L579.4,653.59 L579.82,653.14 L580.24,652.68 L580.65,652.22 L581.05,651.76 L581.45,651.3 L581.84,650.83 L582.22,650.37 L582.6,649.9 L582.99,649.41 L583.37,648.92 L583.75,648.42 L584.12,647.92 L584.48,647.42 L584.84,646.92 L585.2,646.41 L585.55,645.9 L585.89,645.39 L586.23,644.87 L586.56,644.35 L586.88,643.83 L587.2,643.3 L587.51,642.77 L587.81,642.24 L588.11,641.71 L588.4,641.17 L588.69,640.63 L588.97,640.09 L589.24,639.55 L589.5,639 L589.75,638.46 L590,637.91 L590.23,637.35 L590.46,636.8 L590.68,636.24 L590.9,635.68 L591.11,635.12 L591.31,634.55 L591.5,633.98 L591.69,633.41 L591.88,632.83 L592.05,632.26 L592.23,631.68 L592.4,631.1 L592.57,630.52 L592.73,629.93 L592.89,629.35 L593.04,628.76 L593.2,628.18 L593.35,627.59 L593.5,627 L593.64,626.43 L593.78,625.85 L593.91,625.27 L594.04,624.69 L594.16,624.11 L594.28,623.52 L594.4,622.94 L594.51,622.35 L594.62,621.76 L594.72,621.17 L594.82,620.58 L594.92,619.99 L595.01,619.39 L595.11,618.8 L595.2,618.2 L595.29,617.61 L595.38,617.01 L595.46,616.41 L595.55,615.81 L595.63,615.21 L595.72,614.6 L595.8,614 L595.88,613.4 L595.96,612.81 L596.04,612.21 L596.11,611.61 L596.18,611.01 L596.25,610.4 L596.32,609.8 L596.38,609.19 L596.45,608.59 L596.51,607.98 L596.57,607.37 L596.63,606.76 L596.69,606.15 L596.74,605.54 L596.8,604.93 L596.85,604.32 L596.9,603.7 L596.95,603.09 L597.01,602.47 L597.06,601.86 L597.1,601.24 L597.15,600.62 L597.2,600 L597.24,599.41 L597.29,598.82 L597.33,598.23 L597.37,597.63 L597.41,597.03 L597.44,596.44 L597.48,595.84 L597.52,595.24 L597.55,594.64 L597.58,594.04 L597.61,593.44 L597.64,592.84 L597.67,592.23 L597.7,591.63 L597.73,591.03 L597.76,590.42 L597.79,589.82 L597.82,589.22 L597.84,588.61 L597.87,588.01 L597.9,587.41 L597.92,586.8 L597.95,586.2 L597.97,585.6 L598,585 L598.03,584.4 L598.05,583.79 L598.08,583.18 L598.1,582.57 L598.13,581.95 L598.15,581.33 L598.17,580.72 L598.2,580.1 L598.22,579.47 L598.24,578.86 L598.26,578.24 L598.28,577.62 L598.3,577 L598.32,576.39 L598.34,575.78 L598.36,575.18 L598.38,574.58 L598.4,573.98 L598.42,573.39 L598.43,572.81 L598.45,572.23 L598.46,571.66 L598.47,571.1 L598.49,570.54 L598.5,570 L598.51,569.32 L598.53,568.65 L598.54,568 L598.54,567.36 L598.55,566.73 L598.56,566.1 L598.56,565.49 L598.57,564.87 L598.57,564.27 L598.57,563.66 L598.58,563.06 L598.58,562.45 L598.59,561.85 L598.59,561.24 L598.59,560.62 L598.6,560 L598.66,560.62 L598.71,561.24 L598.77,561.86 L598.82,562.47 L598.88,563.09 L598.94,563.7 L598.99,564.32 L599.05,564.93 L599.1,565.55 L599.16,566.17 L599.22,566.79 L599.27,567.41 L599.33,568.03 L599.38,568.66 L599.44,569.29 L599.49,569.92 L599.55,570.56 L599.6,571.2 L599.65,571.8 L599.69,572.4 L599.73,573.01 L599.77,573.63 L599.81,574.26 L599.84,574.88 L599.88,575.51 L599.91,576.15 L599.95,576.78 L599.98,577.42 L600.02,578.05 L600.06,578.68 L600.1,579.31 L600.15,579.93 L600.19,580.55 L600.25,581.16 L600.31,581.77 L600.37,582.37 L600.44,582.95 L600.52,583.53 L600.6,584.1 L600.7,584.78 L600.8,585.47 L600.89,586.17 L600.99,586.86 L601.09,587.56 L601.19,588.24 L601.3,588.92 L601.43,589.57 L601.56,590.21 L601.71,590.83 L601.88,591.42 L602.07,591.97 L602.29,592.49 L602.53,592.97 L602.8,593.4 L603.21,593.94 L603.66,594.43 L604.15,594.87 L604.67,595.26 L605.22,595.6 L605.79,595.86 L606.39,596.07 L607,596.2 L607.52,596.24 L608.05,596.22 L608.61,596.14 L609.18,596.01 L609.76,595.83 L610.37,595.63 L610.98,595.39 L611.61,595.14 L612.25,594.88 L612.89,594.61 L613.54,594.35 L614.2,594.1 L614.72,593.91 L615.24,593.71 L615.78,593.5 L616.33,593.29 L616.89,593.06 L617.45,592.83 L618.02,592.59 L618.6,592.35 L619.18,592.09 L619.77,591.84 L620.36,591.58 L620.94,591.31 L621.53,591.04 L622.12,590.77 L622.71,590.5 L623.3,590.22 L623.88,589.94 L624.46,589.66 L625.03,589.38 L625.6,589.1 L626.15,588.82 L626.7,588.55 L627.25,588.27 L627.81,587.99 L628.36,587.7 L628.92,587.41 L629.47,587.12 L630.02,586.83 L630.57,586.53 L631.12,586.23 L631.67,585.93 L632.22,585.62 L632.76,585.31 L633.31,585 L633.84,584.68 L634.38,584.36 L634.91,584.04 L635.44,583.71 L635.97,583.38 L636.49,583.04 L637,582.7 L637.51,582.36 L638.01,582.02 L638.52,581.67 L639.02,581.32 L639.52,580.97 L640.03,580.61 L640.52,580.25 L641.02,579.89 L641.51,579.52 L642,579.15 L642.48,578.78 L642.96,578.4 L643.44,578.01 L643.91,577.63 L644.37,577.24 L644.83,576.84 L645.28,576.44 L645.72,576.04 L646.16,575.63 L646.58,575.22 L647,574.8 L647.43,574.35 L647.86,573.9 L648.29,573.45 L648.7,572.99 L649.11,572.52 L649.52,572.05 L649.92,571.58 L650.31,571.1 L650.69,570.62 L651.07,570.13 L651.44,569.63 L651.8,569.14 L652.15,568.63 L652.5,568.12 L652.84,567.61 L653.16,567.09 L653.49,566.57 L653.8,566.04 L654.1,565.5 L654.38,564.98 L654.66,564.45 L654.92,563.91 L655.18,563.37 L655.43,562.82 L655.67,562.27 L655.9,561.72 L656.12,561.15 L656.34,560.59 L656.55,560.02 L656.76,559.44 L656.95,558.87 L657.15,558.28 L657.34,557.7 L657.52,557.11 L657.7,556.51 L657.88,555.91 L658.06,555.31 L658.23,554.71 L658.4,554.1 L658.55,553.54 L658.7,552.98 L658.84,552.42 L658.97,551.84 L659.1,551.27 L659.23,550.68 L659.35,550.1 L659.47,549.51 L659.59,548.92 L659.7,548.32 L659.81,547.72 L659.91,547.13 L660.01,546.52 L660.11,545.92 L660.21,545.32 L660.3,544.71 L660.39,544.11 L660.49,543.5 L660.57,542.9 L660.66,542.3 L660.75,541.69 L660.83,541.09 L660.92,540.5 L661,539.9 L661.08,539.28 L661.17,538.66 L661.24,538.04 L661.32,537.42 L661.39,536.8 L661.46,536.18 L661.52,535.56 L661.59,534.94 L661.65,534.31 L661.71,533.69 L661.77,533.07 L661.82,532.45 L661.88,531.83 L661.93,531.2 L661.98,530.58 L662.03,529.96 L662.09,529.33 L662.14,528.71 L662.19,528.09 L662.24,527.47 L662.29,526.84 L662.35,526.22 L662.4,525.6 L662.45,524.98 L662.51,524.36 L662.56,523.74 L662.61,523.11 L662.66,522.49 L662.71,521.87 L662.76,521.25 L662.81,520.63 L662.86,520 L662.9,519.38 L662.95,518.76 L663,518.14 L663.04,517.51 L663.09,516.89 L663.14,516.27 L663.18,515.65 L663.23,515.03 L663.27,514.41 L663.32,513.78 L663.36,513.16 L663.41,512.54 L663.45,511.92 L663.5,511.3 L663.55,510.68 L663.59,510.07 L663.64,509.45 L663.68,508.83 L663.73,508.22 L663.77,507.6 L663.82,506.99 L663.86,506.37 L663.9,505.76 L663.95,505.15 L663.99,504.53 L664.04,503.92 L664.08,503.3 L664.12,502.69 L664.17,502.07 L664.21,501.45 L664.25,500.83 L664.29,500.22 L664.33,499.6 L664.38,498.97 L664.42,498.35 L664.46,497.73 L664.5,497.1 L664.54,496.5 L664.58,495.91 L664.61,495.31 L664.65,494.71 L664.69,494.11 L664.73,493.51 L664.76,492.91 L664.8,492.3 L664.83,491.7 L664.87,491.09 L664.91,490.49 L664.94,489.88 L664.98,489.28 L665.01,488.67 L665.05,488.06 L665.08,487.46 L665.12,486.85 L665.15,486.24 L665.19,485.63 L665.22,485.03 L665.26,484.42 L665.29,483.81 L665.33,483.21 L665.36,482.6 L665.4,482 L665.47,482.61 L665.53,483.22 L665.6,483.83 L665.66,484.45 L665.73,485.06 L665.8,485.67 L665.87,486.29 L665.93,486.9 L666,487.51 L666.07,488.13 L666.13,488.74 L666.2,489.35 L666.26,489.96 L666.33,490.57 L666.39,491.18 L666.46,491.79 L666.52,492.39 L666.58,493 L666.64,493.6 L666.7,494.2 L666.76,494.81 L666.81,495.43 L666.85,496.06 L666.89,496.69 L666.93,497.32 L666.97,497.95 L667,498.58 L667.04,499.2 L667.07,499.83 L667.11,500.45 L667.15,501.06 L667.2,501.67 L667.25,502.27 L667.3,502.86 L667.36,503.43 L667.43,504 L667.51,504.55 L667.6,505.08 L667.7,505.6 L667.84,506.27 L667.97,506.94 L668.1,507.6 L668.24,508.25 L668.39,508.88 L668.56,509.48 L668.75,510.06 L668.96,510.61 L669.21,511.11 L669.48,511.58 L669.8,512 L670.21,512.44 L670.67,512.83 L671.17,513.18 L671.7,513.49 L672.26,513.74 L672.85,513.95 L673.46,514.1 L674.1,514.2 L674.61,514.23 L675.15,514.21 L675.71,514.16 L676.3,514.06 L676.9,513.93 L677.51,513.77 L678.14,513.59 L678.78,513.39 L679.43,513.17 L680.08,512.94 L680.74,512.7 L681.39,512.46 L682.05,512.23 L682.7,512 L683.24,511.81 L683.79,511.61 L684.34,511.4 L684.9,511.18 L685.46,510.95 L686.03,510.71 L686.6,510.47 L687.17,510.22 L687.75,509.96 L688.33,509.7 L688.91,509.44 L689.49,509.17 L690.07,508.9 L690.65,508.63 L691.23,508.36 L691.81,508.08 L692.38,507.81 L692.96,507.54 L693.53,507.27 L694.1,507 L694.65,506.74 L695.2,506.49 L695.75,506.23 L696.3,505.98 L696.85,505.72 L697.4,505.46 L697.96,505.21 L698.51,504.95 L699.06,504.68 L699.61,504.42 L700.16,504.15 L700.71,503.89 L701.25,503.61 L701.8,503.34 L702.34,503.06 L702.87,502.78 L703.41,502.49 L703.94,502.2 L704.46,501.91 L704.98,501.61 L705.5,501.3 L706.03,500.98 L706.56,500.66 L707.09,500.34 L707.62,500.02 L708.15,499.7 L708.68,499.37 L709.2,499.04 L709.72,498.71 L710.24,498.37 L710.75,498.02 L711.26,497.68 L711.77,497.32 L712.26,496.96 L712.75,496.59 L713.23,496.21 L713.7,495.83 L714.17,495.44 L714.62,495.03 L715.07,494.62 L715.5,494.2 L715.92,493.77 L716.34,493.32 L716.76,492.87 L717.16,492.41 L717.56,491.94 L717.95,491.46 L718.34,490.98 L718.72,490.48 L719.09,489.98 L719.45,489.48 L719.8,488.97 L720.15,488.45 L720.49,487.93 L720.82,487.41 L721.14,486.88 L721.45,486.35 L721.75,485.81 L722.04,485.28 L722.33,484.74 L722.6,484.2 L722.87,483.64 L723.13,483.06 L723.37,482.49 L723.61,481.9 L723.83,481.31 L724.04,480.72 L724.24,480.12 L724.43,479.52 L724.61,478.91 L724.79,478.3 L724.96,477.69 L725.13,477.08 L725.29,476.46 L725.44,475.85 L725.6,475.24 L725.75,474.63 L725.9,474.02 L726.05,473.41 L726.2,472.8 L726.34,472.21 L726.48,471.61 L726.61,471.02 L726.74,470.43 L726.86,469.85 L726.98,469.26 L727.09,468.67 L727.2,468.08 L727.3,467.49 L727.4,466.9 L727.5,466.3 L727.6,465.71 L727.7,465.1 L727.8,464.5 L727.9,463.89 L728,463.28 L728.09,462.66 L728.2,462.03 L728.3,461.4 L728.39,460.83 L728.49,460.26 L728.58,459.68 L728.68,459.1 L728.77,458.51 L728.87,457.91 L728.97,457.32 L729.06,456.71 L729.16,456.11 L729.25,455.5 L729.35,454.89 L729.44,454.28 L729.53,453.67 L729.62,453.06 L729.71,452.45 L729.8,451.84 L729.88,451.24 L729.96,450.63 L730.04,450.03 L730.12,449.44 L730.2,448.84 L730.27,448.26 L730.34,447.68 L730.4,447.1 L730.47,446.47 L730.53,445.86 L730.59,445.25 L730.65,444.64 L730.7,444.04 L730.75,443.44 L730.8,442.85 L730.84,442.25 L730.89,441.66 L730.93,441.07 L730.97,440.48 L731.01,439.89 L731.04,439.29 L731.08,438.7 L731.12,438.09 L731.15,437.49 L731.19,436.88 L731.22,436.26 L731.26,435.63 L731.3,435 L731.33,434.43 L731.37,433.85 L731.4,433.27 L731.43,432.69 L731.47,432.1 L731.5,431.51 L731.53,430.91 L731.56,430.31 L731.59,429.71 L731.62,429.1 L731.65,428.5 L731.67,427.89 L731.7,427.28 L731.73,426.67 L731.76,426.06 L731.78,425.45 L731.81,424.84 L731.83,424.23 L731.86,423.62 L731.88,423.01 L731.91,422.4 L731.93,421.8 L731.95,421.2 L731.98,420.6 L732,420 L732.02,419.39 L732.04,418.78 L732.06,418.18 L732.08,417.57 L732.1,416.96 L732.12,416.36 L732.14,415.75 L732.15,415.15 L732.17,414.54 L732.19,413.94 L732.2,413.34 L732.22,412.73 L732.23,412.13 L732.25,411.53 L732.26,410.93 L732.28,410.32 L732.29,409.72 L732.31,409.12 L732.32,408.52 L732.34,407.91 L732.35,407.31 L732.37,406.71 L732.38,406.1 L732.4,405.5 L732.47,406.11 L732.54,406.72 L732.61,407.34 L732.69,407.95 L732.76,408.56 L732.83,409.18 L732.9,409.79 L732.97,410.41 L733.04,411.02 L733.12,411.64 L733.19,412.25 L733.26,412.87 L733.33,413.48 L733.4,414.09 L733.47,414.7 L733.54,415.3 L733.62,415.91 L733.69,416.51 L733.76,417.11 L733.83,417.71 L733.9,418.3 L733.97,418.92 L734.02,419.56 L734.07,420.2 L734.11,420.84 L734.14,421.49 L734.17,422.14 L734.19,422.79 L734.22,423.43 L734.26,424.07 L734.3,424.7 L734.35,425.32 L734.4,425.94 L734.48,426.53 L734.56,427.11 L734.67,427.67 L734.79,428.22 L734.93,428.74 L735.1,429.23 L735.3,429.7 L735.59,430.3 L735.91,430.9 L736.26,431.49 L736.64,432.05 L737.04,432.58 L737.46,433.08 L737.91,433.53 L738.37,433.92 L738.86,434.26 L739.37,434.52 L739.9,434.7 L740.4,434.78 L740.92,434.79 L741.47,434.73 L742.03,434.61 L742.62,434.44 L743.22,434.22 L743.84,433.97 L744.47,433.69 L745.11,433.39 L745.76,433.08 L746.41,432.77 L747.07,432.46 L747.74,432.17 L748.4,431.9 L748.91,431.7 L749.43,431.5 L749.96,431.29 L750.5,431.07 L751.05,430.85 L751.6,430.62 L752.15,430.39 L752.72,430.15 L753.28,429.91 L753.86,429.66 L754.43,429.41 L755.01,429.16 L755.58,428.9 L756.16,428.64 L756.74,428.38 L757.32,428.11 L757.9,427.84 L758.47,427.57 L759.05,427.3 L759.62,427.03 L760.18,426.75 L760.74,426.48 L761.3,426.2 L761.84,425.93 L762.39,425.66 L762.93,425.38 L763.48,425.11 L764.03,424.83 L764.58,424.55 L765.13,424.27 L765.68,423.99 L766.23,423.71 L766.78,423.42 L767.33,423.13 L767.88,422.84 L768.42,422.54 L768.96,422.24 L769.5,421.94 L770.03,421.63 L770.56,421.32 L771.08,421 L771.6,420.68 L772.11,420.36 L772.62,420.02 L773.12,419.69 L773.61,419.35 L774.1,419 L774.6,418.63 L775.11,418.26 L775.6,417.88 L776.1,417.51 L776.59,417.12 L777.08,416.74 L777.56,416.35 L778.03,415.95 L778.51,415.55 L778.97,415.15 L779.44,414.73 L779.89,414.32 L780.34,413.9 L780.79,413.47 L781.23,413.04 L781.66,412.6 L782.08,412.15 L782.5,411.69 L782.91,411.23 L783.32,410.76 L783.71,410.29 L784.1,409.8 L784.46,409.33 L784.82,408.85 L785.17,408.36 L785.52,407.86 L785.86,407.36 L786.19,406.84 L786.52,406.33 L786.85,405.8 L787.16,405.27 L787.47,404.73 L787.78,404.19 L788.08,403.65 L788.37,403.1 L788.66,402.54 L788.94,401.98 L789.22,401.42 L789.49,400.86 L789.75,400.3 L790.01,399.73 L790.26,399.17 L790.5,398.6 L790.74,398.03 L790.97,397.47 L791.2,396.9 L791.42,396.33 L791.63,395.76 L791.83,395.19 L792.02,394.61 L792.21,394.03 L792.39,393.45 L792.56,392.86 L792.72,392.27 L792.88,391.68 L793.04,391.09 L793.19,390.49 L793.33,389.9 L793.47,389.3 L793.6,388.7 L793.73,388.1 L793.86,387.5 L793.99,386.9 L794.11,386.3 L794.23,385.7 L794.34,385.09 L794.46,384.49 L794.57,383.9 L794.69,383.3 L794.8,382.7 L794.91,382.11 L795.01,381.52 L795.11,380.92 L795.21,380.33 L795.3,379.74 L795.39,379.14 L795.48,378.55 L795.56,377.95 L795.63,377.35 L795.71,376.76 L795.78,376.16 L795.85,375.57 L795.92,374.97 L795.99,374.37 L796.05,373.77 L796.12,373.18 L796.18,372.58 L796.24,371.98 L796.3,371.39 L796.36,370.79 L796.42,370.19 L796.48,369.59 L796.54,369 L796.6,368.4 L796.66,367.78 L796.72,367.16 L796.78,366.54 L796.84,365.91 L796.89,365.29 L796.94,364.67 L797,364.05 L797.05,363.43 L797.09,362.81 L797.14,362.18 L797.19,361.56 L797.23,360.94 L797.28,360.32 L797.32,359.69 L797.37,359.07 L797.41,358.45 L797.45,357.83 L797.49,357.21 L797.54,356.58 L797.58,355.96 L797.62,355.34 L797.66,354.72 L797.7,354.1 L797.74,353.48 L797.78,352.86 L797.82,352.25 L797.86,351.63 L797.9,351.01 L797.94,350.39 L797.97,349.78 L798.01,349.16 L798.05,348.54 L798.08,347.93 L798.12,347.31 L798.15,346.69 L798.19,346.08 L798.22,345.46 L798.26,344.84 L798.29,344.22 L798.32,343.61 L798.35,342.99 L798.38,342.37 L798.41,341.75 L798.44,341.14 L798.47,340.52 L798.5,339.9 L798.53,339.28 L798.56,338.66 L798.58,338.04 L798.61,337.42 L798.63,336.8 L798.66,336.17 L798.68,335.55 L798.7,334.93 L798.73,334.31 L798.75,333.69 L798.77,333.06 L798.79,332.44 L798.81,331.82 L798.83,331.2 L798.85,330.58 L798.87,329.95 L798.89,329.33 L798.91,328.71 L798.93,328.09 L798.95,327.47 L798.96,326.84 L798.98,326.22 L799,325.6 L799.02,324.98 L799.03,324.36 L799.05,323.73 L799.07,323.11 L799.08,322.49 L799.1,321.87 L799.11,321.25 L799.12,320.62 L799.14,320 L799.15,319.38 L799.16,318.76 L799.17,318.14 L799.19,317.51 L799.2,316.89 L799.21,316.27 L799.22,315.65 L799.23,315.03 L799.25,314.41 L799.26,313.78 L799.27,313.16 L799.28,312.54 L799.29,311.92 L799.3,311.3 L799.31,310.68 L799.32,310.06 L799.33,309.43 L799.34,308.81 L799.35,308.18 L799.36,307.55 L799.37,306.92 L799.38,306.29 L799.39,305.66 L799.4,305.04 L799.41,304.41 L799.42,303.78 L799.42,303.16 L799.43,302.54 L799.44,301.92 L799.45,301.3 L799.46,300.69 L799.46,300.08 L799.47,299.47 L799.48,298.87 L799.49,298.28 L799.49,297.69 L799.5,297.1 L799.51,296.44 L799.51,295.79 L799.52,295.14 L799.53,294.5 L799.53,293.87 L799.54,293.24 L799.54,292.61 L799.55,291.99 L799.55,291.37 L799.56,290.75 L799.56,290.13 L799.57,289.52 L799.57,288.9 L799.58,288.29 L799.58,287.67 L799.59,287.05 L799.59,286.43 L799.6,285.8 L799.61,286.41 L799.62,287.01 L799.63,287.62 L799.63,288.23 L799.64,288.84 L799.65,289.45 L799.66,290.06 L799.67,290.68 L799.68,291.29 L799.68,291.9 L799.69,292.52 L799.7,293.13 L799.71,293.75 L799.72,294.36 L799.72,294.98 L799.73,295.59 L799.74,296.2 L799.75,296.82 L799.76,297.43 L799.77,298.04 L799.77,298.66 L799.78,299.27 L799.79,299.88 L799.8,300.49 L799.81,301.09 L799.82,301.7 L799.83,302.31 L799.83,302.91 L799.84,303.51 L799.85,304.11 L799.86,304.71 L799.87,305.31 L799.88,305.9 L799.89,306.49 L799.9,307.09 L799.91,307.67 L799.92,308.26 L799.93,308.84 L799.94,309.42 L799.95,310 L799.96,310.64 L799.97,311.27 L799.98,311.91 L800,312.55 L800.01,313.18 L800.02,313.82 L800.03,314.46 L800.04,315.09 L800.05,315.73 L800.06,316.36 L800.07,317 L800.08,317.63 L800.09,318.26 L800.11,318.88 L800.12,319.51 L800.13,320.13 L800.14,320.75 L800.15,321.36 L800.17,321.97 L800.18,322.58 L800.19,323.18 L800.21,323.78 L800.22,324.38 L800.24,324.96 L800.25,325.55 L800.27,326.13 L800.29,326.7 L800.3,327.27 L800.32,327.83 L800.34,328.38 L800.36,328.93 L800.38,329.47 L800.4,330 L800.43,330.67 L800.45,331.34 L800.48,332 L800.5,332.65 L800.52,333.29 L800.55,333.93 L800.57,334.56 L800.6,335.18 L800.62,335.79 L800.65,336.4 L800.68,336.99 L800.71,337.58 L800.75,338.17 L800.79,338.74 L800.83,339.3 L800.87,339.86 L800.92,340.41 L800.98,340.95 L801.04,341.48 L801.1,342 L801.19,342.72 L801.29,343.44 L801.38,344.14 L801.49,344.84 L801.59,345.51 L801.71,346.16 L801.84,346.79 L801.98,347.39 L802.14,347.97 L802.31,348.5 L802.5,349 L802.81,349.7 L803.15,350.35 L803.53,350.93 L803.94,351.42 L804.4,351.8 L804.94,352.08 L805.51,352.24 L806.15,352.31 L806.9,352.3 L807.36,352.26 L807.86,352.18 L808.4,352.07 L808.97,351.93 L809.57,351.77 L810.2,351.58 L810.85,351.37 L811.51,351.16 L812.18,350.93 L812.86,350.7 L813.53,350.46 L814.2,350.23 L814.86,350.01 L815.5,349.8 L816.07,349.62 L816.64,349.42 L817.23,349.23 L817.81,349.03 L818.4,348.82 L818.99,348.61 L819.59,348.4 L820.19,348.19 L820.78,347.98 L821.37,347.76 L821.97,347.55 L822.55,347.33 L823.14,347.12 L823.71,346.91 L824.28,346.7 L824.85,346.5 L825.4,346.3 L825.99,346.09 L826.58,345.87 L827.15,345.66 L827.72,345.46 L828.29,345.25 L828.85,345.04 L829.41,344.84 L829.96,344.63 L830.52,344.43 L831.07,344.22 L831.62,344.02 L832.18,343.81 L832.74,343.61 L833.3,343.4" fill="none" stroke="#77AC30" stroke-width="6" stroke-linejoin="round" stroke-linecap="butt"/>
<path d="M197.2,989.5 L197.19,990.11 L197.19,990.71 L197.18,991.33 L197.18,991.95 L197.18,992.57 L197.17,993.19 L197.17,993.81 L197.16,994.44 L197.16,995.07 L197.16,995.7 L197.15,996.33 L197.15,996.96 L197.15,997.58 L197.14,998.21 L197.14,998.84 L197.14,999.47 L197.13,1000.09 L197.13,1000.71 L197.12,1001.33 L197.12,1001.95 L197.11,1002.56 L197.11,1003.17 L197.1,1003.77 L197.1,1004.37 L197.09,1004.96 L197.08,1005.55 L197.07,1006.13 L197.07,1006.71 L197.06,1007.28 L197.05,1007.84 L197.04,1008.39 L197.03,1008.94 L197.01,1009.47 L197,1010 L196.98,1010.67 L196.97,1011.33 L196.95,1011.98 L196.94,1012.61 L196.92,1013.24 L196.91,1013.85 L196.89,1014.46 L196.87,1015.06 L196.86,1015.65 L196.84,1016.24 L196.82,1016.82 L196.79,1017.4 L196.77,1017.97 L196.74,1018.55 L196.71,1019.12 L196.67,1019.69 L196.64,1020.26 L196.6,1020.84 L196.55,1021.42 L196.5,1022 L196.44,1022.62 L196.38,1023.24 L196.31,1023.85 L196.24,1024.46 L196.17,1025.07 L196.09,1025.68 L196.01,1026.28 L195.93,1026.88 L195.84,1027.49 L195.75,1028.09 L195.66,1028.69 L195.57,1029.29 L195.48,1029.89 L195.38,1030.49 L195.29,1031.09 L195.19,1031.69 L195.1,1032.29 L195,1032.9 L194.9,1033.51 L194.81,1034.13 L194.71,1034.75 L194.61,1035.37 L194.52,1035.99 L194.42,1036.61 L194.32,1037.24 L194.22,1037.86 L194.11,1038.48 L194.01,1039.1 L193.9,1039.71 L193.78,1040.33 L193.66,1040.94 L193.54,1041.54 L193.41,1042.14 L193.28,1042.73 L193.14,1043.32 L193,1043.9 L192.84,1044.53 L192.67,1045.15 L192.5,1045.77 L192.32,1046.37 L192.14,1046.97 L191.95,1047.57 L191.76,1048.16 L191.57,1048.75 L191.36,1049.34 L191.16,1049.93 L190.94,1050.51 L190.72,1051.1 L190.49,1051.7 L190.25,1052.3 L190,1052.9 L189.77,1053.45 L189.55,1054.02 L189.32,1054.59 L189.09,1055.17 L188.86,1055.76 L188.62,1056.34 L188.37,1056.93 L188.12,1057.52 L187.87,1058.1 L187.6,1058.68 L187.32,1059.25 L187.03,1059.82 L186.73,1060.37 L186.42,1060.91 L186.09,1061.43 L185.74,1061.94 L185.38,1062.43 L185,1062.9 L184.6,1063.35 L184.19,1063.79 L183.76,1064.22 L183.32,1064.65 L182.86,1065.06 L182.39,1065.46 L181.91,1065.84 L181.41,1066.22 L180.91,1066.59 L180.39,1066.95 L179.87,1067.29 L179.34,1067.63 L178.79,1067.95 L178.25,1068.26 L177.69,1068.56 L177.13,1068.85 L176.57,1069.13 L176,1069.4 L175.47,1069.63 L174.92,1069.85 L174.37,1070.05 L173.8,1070.23 L173.23,1070.4 L172.64,1070.56 L172.05,1070.71 L171.45,1070.85 L170.85,1070.98 L170.24,1071.1 L169.63,1071.22 L169.01,1071.33 L168.39,1071.44 L167.77,1071.55 L167.16,1071.66 L166.54,1071.78 L165.92,1071.89 L165.31,1072.01 L164.7,1072.13 L164.1,1072.26 L163.5,1072.4" fill="none" stroke="#4DBEEE" stroke-width="6" stroke-linejoin="bevel" stroke-linecap="butt" stroke-dasharray="5.5 5.2" stroke-dashoffset="0"/>
<path d="M197.2,989.5 L197.22,990.1 L197.25,990.72 L197.27,991.33 L197.29,991.95 L197.31,992.58 L197.34,993.21 L197.36,993.84 L197.38,994.48 L197.4,995.12 L197.42,995.76 L197.44,996.41 L197.46,997.05 L197.48,997.7 L197.5,998.36 L197.52,999.01 L197.54,999.66 L197.55,1000.32 L197.57,1000.97 L197.59,1001.63 L197.61,1002.28 L197.63,1002.94 L197.65,1003.59 L197.67,1004.24 L197.69,1004.89 L197.71,1005.54 L197.73,1006.19 L197.75,1006.83 L197.77,1007.47 L197.79,1008.11 L197.81,1008.74 L197.83,1009.37 L197.86,1009.99 L197.88,1010.61 L197.9,1011.23 L197.92,1011.84 L197.95,1012.45 L197.97,1013.04 L198,1013.64 L198.02,1014.22 L198.05,1014.8 L198.08,1015.37 L198.1,1015.94 L198.13,1016.49 L198.16,1017.04 L198.19,1017.58 L198.22,1018.11 L198.25,1018.63 L198.29,1019.15 L198.32,1019.65 L198.35,1020.14 L198.39,1020.62 L198.42,1021.09 L198.46,1021.55 L198.5,1022 L198.57,1022.76 L198.64,1023.49 L198.72,1024.19 L198.79,1024.86 L198.87,1025.51 L198.95,1026.14 L199.04,1026.76 L199.12,1027.35 L199.21,1027.94 L199.29,1028.51 L199.38,1029.08 L199.47,1029.63 L199.56,1030.19 L199.65,1030.74 L199.73,1031.3 L199.82,1031.86 L199.91,1032.43 L200,1033 L200.09,1033.63 L200.18,1034.24 L200.26,1034.85 L200.34,1035.46 L200.42,1036.05 L200.49,1036.65 L200.57,1037.24 L200.66,1037.83 L200.75,1038.42 L200.85,1039.01 L200.95,1039.6 L201.07,1040.19 L201.2,1040.79 L201.34,1041.39 L201.5,1042 L201.66,1042.57 L201.82,1043.14 L202,1043.72 L202.18,1044.31 L202.37,1044.9 L202.57,1045.49 L202.77,1046.09 L202.99,1046.68 L203.21,1047.27 L203.43,1047.86 L203.67,1048.45 L203.91,1049.04 L204.16,1049.62 L204.41,1050.19 L204.67,1050.76 L204.94,1051.31 L205.22,1051.86 L205.5,1052.4 L205.79,1052.94 L206.09,1053.49 L206.4,1054.02 L206.71,1054.56 L207.03,1055.09 L207.35,1055.62 L207.68,1056.14 L208.02,1056.65 L208.37,1057.16 L208.73,1057.66 L209.1,1058.15 L209.47,1058.64 L209.86,1059.11 L210.25,1059.57 L210.66,1060.03 L211.07,1060.47 L211.5,1060.9 L211.95,1061.33 L212.41,1061.75 L212.88,1062.16 L213.37,1062.57 L213.87,1062.97 L214.38,1063.35 L214.9,1063.73 L215.42,1064.1 L215.96,1064.46 L216.5,1064.81 L217.05,1065.15 L217.6,1065.47 L218.16,1065.78 L218.71,1066.08 L219.28,1066.37 L219.84,1066.64 L220.4,1066.9 L220.95,1067.14 L221.52,1067.36 L222.08,1067.57 L222.66,1067.77 L223.24,1067.96 L223.82,1068.13 L224.41,1068.29 L225,1068.44 L225.59,1068.58 L226.19,1068.71 L226.79,1068.84 L227.39,1068.95 L227.99,1069.05 L228.6,1069.15 L229.2,1069.24 L229.8,1069.32 L230.4,1069.4 L231.01,1069.47 L231.62,1069.55 L232.24,1069.62 L232.87,1069.69 L233.49,1069.75 L234.12,1069.8 L234.75,1069.85 L235.38,1069.88 L236.01,1069.9 L236.64,1069.91" fill="none" stroke="#4DBEEE" stroke-width="6" stroke-linejoin="bevel" stroke-linecap="butt" stroke-dasharray="5.5 5.2" stroke-dashoffset="0"/>
<path d="M264.1,947 L264.1,947.6 L264.1,948.21 L264.09,948.83 L264.09,949.45 L264.09,950.07 L264.09,950.7 L264.09,951.33 L264.09,951.96 L264.08,952.6 L264.08,953.24 L264.08,953.88 L264.08,954.53 L264.08,955.18 L264.08,955.83 L264.08,956.49 L264.08,957.15 L264.08,957.81 L264.08,958.47 L264.08,959.13 L264.08,959.8 L264.08,960.47 L264.08,961.14 L264.08,961.81 L264.08,962.48 L264.08,963.15 L264.08,963.82 L264.08,964.5 L264.08,965.17 L264.08,965.84 L264.08,966.52 L264.08,967.19 L264.08,967.87 L264.08,968.54 L264.08,969.21 L264.08,969.88 L264.08,970.55 L264.08,971.22 L264.08,971.89 L264.07,972.56 L264.07,973.22 L264.07,973.89 L264.07,974.55 L264.07,975.21 L264.07,975.87 L264.07,976.52 L264.07,977.17 L264.07,977.82 L264.07,978.47 L264.07,979.11 L264.07,979.75 L264.07,980.39 L264.06,981.02 L264.06,981.65 L264.06,982.28 L264.06,982.9 L264.06,983.51 L264.06,984.13 L264.05,984.73 L264.05,985.34 L264.05,985.94 L264.05,986.53 L264.04,987.12 L264.04,987.7 L264.04,988.28 L264.03,988.85 L264.03,989.41 L264.03,989.97 L264.02,990.52 L264.02,991.07 L264.02,991.61 L264.01,992.14 L264.01,992.67 L264,993.19 L264,993.7 L263.99,994.2 L263.99,994.7 L263.98,995.19 L263.97,995.67 L263.97,996.14 L263.96,996.6 L263.95,997.06 L263.95,997.51 L263.94,997.95 L263.93,998.37 L263.93,998.8 L263.92,999.21 L263.91,999.61 L263.9,1000 L263.88,1000.83 L263.86,1001.62 L263.84,1002.37 L263.81,1003.08 L263.79,1003.77 L263.76,1004.42 L263.74,1005.05 L263.71,1005.66 L263.68,1006.26 L263.66,1006.83 L263.63,1007.4 L263.6,1007.96 L263.57,1008.51 L263.54,1009.06 L263.51,1009.61 L263.48,1010.17 L263.46,1010.73 L263.43,1011.31 L263.4,1011.9 L263.37,1012.55 L263.35,1013.19 L263.32,1013.82 L263.3,1014.44 L263.27,1015.06 L263.25,1015.68 L263.23,1016.29 L263.2,1016.9 L263.18,1017.51 L263.15,1018.12 L263.12,1018.74 L263.08,1019.36 L263.05,1019.98 L263,1020.61 L262.95,1021.25 L262.9,1021.9 L262.85,1022.48 L262.79,1023.06 L262.73,1023.65 L262.66,1024.24 L262.6,1024.84 L262.53,1025.44 L262.45,1026.04 L262.37,1026.65 L262.3,1027.26 L262.22,1027.87 L262.13,1028.48 L262.05,1029.09 L261.97,1029.7 L261.89,1030.31 L261.8,1030.91 L261.72,1031.52 L261.64,1032.12 L261.56,1032.72 L261.48,1033.31 L261.4,1033.9 L261.32,1034.52 L261.25,1035.15 L261.18,1035.77 L261.11,1036.39 L261.05,1037.01 L260.98,1037.63 L260.92,1038.25 L260.85,1038.86 L260.79,1039.48 L260.71,1040.09 L260.64,1040.7 L260.56,1041.31 L260.47,1041.91 L260.38,1042.52 L260.27,1043.12 L260.16,1043.71 L260.04,1044.31 L259.9,1044.9 L259.75,1045.51 L259.6,1046.12 L259.43,1046.72 L259.27,1047.33 L259.09,1047.93 L258.91,1048.53 L258.72,1049.12 L258.53,1049.72 L258.32,1050.31 L258.11,1050.9 L257.9,1051.48 L257.67,1052.06 L257.43,1052.64 L257.19,1053.21 L256.94,1053.78 L256.67,1054.34 L256.4,1054.9 L256.13,1055.43 L255.86,1055.97 L255.58,1056.51 L255.3,1057.04 L255.01,1057.58 L254.71,1058.11 L254.4,1058.64 L254.09,1059.17 L253.77,1059.69 L253.44,1060.2 L253.1,1060.71 L252.74,1061.2 L252.38,1061.69 L252.01,1062.16 L251.63,1062.62 L251.23,1063.06 L250.82,1063.49 L250.4,1063.9 L249.96,1064.3 L249.5,1064.7 L249.03,1065.09 L248.55,1065.47 L248.05,1065.84 L247.54,1066.2 L247.02,1066.56 L246.48,1066.9 L245.94,1067.22 L245.4,1067.53 L244.85,1067.83 L244.29,1068.11 L243.73,1068.37 L243.16,1068.62 L242.6,1068.85 L242.03,1069.05 L241.46,1069.24 L240.9,1069.4 L240.31,1069.54 L239.72,1069.66 L239.11,1069.75 L238.5,1069.82 L237.89,1069.87 L237.27,1069.9 L236.64,1069.91" fill="none" stroke="#4DBEEE" stroke-width="6" stroke-linejoin="bevel" stroke-linecap="butt" stroke-dasharray="5.5 5.2" stroke-dashoffset="0"/>
<path d="M264.1,947 L264.11,947.6 L264.11,948.21 L264.12,948.81 L264.12,949.42 L264.13,950.03 L264.13,950.64 L264.14,951.26 L264.14,951.87 L264.14,952.49 L264.15,953.11 L264.15,953.73 L264.16,954.35 L264.16,954.98 L264.17,955.6 L264.17,956.22 L264.18,956.85 L264.18,957.47 L264.18,958.1 L264.19,958.72 L264.19,959.35 L264.2,959.97 L264.2,960.59 L264.21,961.22 L264.21,961.84 L264.21,962.46 L264.22,963.08 L264.22,963.7 L264.23,964.32 L264.23,964.94 L264.24,965.56 L264.24,966.17 L264.25,966.78 L264.25,967.39 L264.26,968 L264.26,968.61 L264.27,969.21 L264.27,969.81 L264.28,970.41 L264.28,971 L264.29,971.59 L264.3,972.18 L264.3,972.77 L264.31,973.35 L264.32,973.93 L264.32,974.5 L264.33,975.07 L264.34,975.64 L264.34,976.2 L264.35,976.76 L264.36,977.31 L264.37,977.86 L264.37,978.4 L264.38,978.94 L264.39,979.47 L264.4,980 L264.41,980.68 L264.42,981.34 L264.44,982 L264.45,982.65 L264.46,983.29 L264.47,983.93 L264.48,984.55 L264.5,985.18 L264.51,985.79 L264.52,986.4 L264.53,987 L264.55,987.6 L264.56,988.2 L264.57,988.79 L264.59,989.38 L264.6,989.96 L264.61,990.55 L264.63,991.13 L264.64,991.71 L264.66,992.29 L264.68,992.87 L264.69,993.45 L264.71,994.03 L264.73,994.62 L264.74,995.2 L264.76,995.79 L264.78,996.38 L264.8,996.97 L264.82,997.57 L264.84,998.17 L264.86,998.77 L264.88,999.38 L264.9,1000 L264.92,1000.6 L264.94,1001.2 L264.96,1001.81 L264.98,1002.43 L265,1003.05 L265.02,1003.68 L265.04,1004.31 L265.06,1004.94 L265.09,1005.58 L265.11,1006.22 L265.13,1006.86 L265.15,1007.51 L265.17,1008.15 L265.19,1008.79 L265.22,1009.44 L265.24,1010.08 L265.26,1010.72 L265.29,1011.36 L265.31,1012 L265.34,1012.63 L265.37,1013.26 L265.39,1013.88 L265.42,1014.51 L265.45,1015.12 L265.48,1015.73 L265.51,1016.33 L265.55,1016.93 L265.58,1017.52 L265.62,1018.1 L265.65,1018.67 L265.69,1019.24 L265.73,1019.79 L265.77,1020.34 L265.81,1020.87 L265.86,1021.39 L265.9,1021.9 L265.96,1022.61 L266.03,1023.3 L266.09,1023.97 L266.14,1024.63 L266.2,1025.27 L266.27,1025.9 L266.33,1026.52 L266.39,1027.13 L266.46,1027.73 L266.54,1028.32 L266.62,1028.9 L266.7,1029.48 L266.8,1030.05 L266.9,1030.62 L267.01,1031.19 L267.13,1031.76 L267.26,1032.33 L267.4,1032.9 L267.56,1033.5 L267.73,1034.09 L267.9,1034.67 L268.08,1035.25 L268.27,1035.82 L268.47,1036.39 L268.68,1036.95 L268.89,1037.51 L269.11,1038.06 L269.34,1038.61 L269.58,1039.16 L269.83,1039.71 L270.08,1040.26 L270.35,1040.81 L270.62,1041.35 L270.9,1041.9 L271.17,1042.42 L271.45,1042.94 L271.73,1043.47 L272.02,1043.99 L272.31,1044.52 L272.61,1045.05 L272.92,1045.58 L273.24,1046.1 L273.56,1046.62 L273.9,1047.14 L274.24,1047.64 L274.59,1048.14 L274.95,1048.63 L275.32,1049.11 L275.7,1049.58 L276.09,1050.03 L276.49,1050.48 L276.9,1050.9 L277.32,1051.31 L277.76,1051.71 L278.21,1052.1 L278.68,1052.48 L279.15,1052.85 L279.64,1053.21 L280.13,1053.57 L280.63,1053.91 L281.14,1054.24 L281.66,1054.57 L282.18,1054.89 L282.71,1055.19 L283.24,1055.5 L283.77,1055.79 L284.3,1056.08 L284.83,1056.36 L285.37,1056.63 L285.9,1056.9 L286.46,1057.17 L287.03,1057.44 L287.6,1057.69 L288.17,1057.94 L288.75,1058.18 L289.34,1058.42 L289.93,1058.64 L290.52,1058.85 L291.11,1059.06 L291.71,1059.26 L292.31,1059.45 L292.91,1059.63 L293.51,1059.8 L294.11,1059.96 L294.7,1060.12 L295.3,1060.26 L295.9,1060.4 L296.52,1060.53 L297.14,1060.67 L297.76,1060.79 L298.39,1060.91 L299.01,1061.02 L299.64,1061.12 L300.27,1061.21 L300.9,1061.29 L301.53,1061.36 L302.16,1061.42 L302.78,1061.46 L303.41,1061.48 L304.04,1061.49" fill="none" stroke="#4DBEEE" stroke-width="6" stroke-linejoin="bevel" stroke-linecap="butt" stroke-dasharray="5.5 5.2" stroke-dashoffset="0"/>
<path d="M331,980 L330.99,980.62 L330.99,981.24 L330.98,981.86 L330.97,982.48 L330.97,983.11 L330.96,983.74 L330.96,984.37 L330.95,985 L330.95,985.63 L330.94,986.26 L330.94,986.89 L330.93,987.52 L330.93,988.14 L330.92,988.77 L330.91,989.39 L330.91,990.01 L330.9,990.63 L330.89,991.25 L330.88,991.86 L330.87,992.46 L330.86,993.07 L330.85,993.67 L330.84,994.26 L330.83,994.84 L330.81,995.43 L330.8,996 L330.78,996.64 L330.76,997.27 L330.74,997.9 L330.72,998.52 L330.7,999.14 L330.67,999.75 L330.65,1000.35 L330.62,1000.95 L330.6,1001.55 L330.57,1002.14 L330.54,1002.74 L330.52,1003.32 L330.49,1003.91 L330.46,1004.5 L330.43,1005.08 L330.41,1005.66 L330.38,1006.25 L330.35,1006.83 L330.33,1007.42 L330.3,1008 L330.27,1008.62 L330.25,1009.24 L330.22,1009.85 L330.2,1010.47 L330.18,1011.08 L330.16,1011.69 L330.13,1012.3 L330.11,1012.91 L330.09,1013.51 L330.06,1014.12 L330.04,1014.72 L330.01,1015.32 L329.98,1015.92 L329.95,1016.52 L329.92,1017.12 L329.88,1017.71 L329.84,1018.31 L329.8,1018.9 L329.75,1019.54 L329.71,1020.17 L329.66,1020.8 L329.61,1021.43 L329.56,1022.06 L329.51,1022.69 L329.45,1023.31 L329.39,1023.93 L329.33,1024.55 L329.27,1025.18 L329.2,1025.8 L329.13,1026.42 L329.06,1027.04 L328.98,1027.66 L328.89,1028.28 L328.8,1028.9 L328.71,1029.53 L328.61,1030.15 L328.51,1030.78 L328.41,1031.4 L328.3,1032.02 L328.2,1032.64 L328.08,1033.27 L327.97,1033.89 L327.84,1034.51 L327.72,1035.13 L327.58,1035.76 L327.44,1036.38 L327.29,1037.01 L327.14,1037.64 L326.97,1038.27 L326.8,1038.9 L326.64,1039.47 L326.48,1040.06 L326.31,1040.64 L326.14,1041.24 L325.97,1041.83 L325.79,1042.43 L325.61,1043.03 L325.42,1043.63 L325.22,1044.23 L325.02,1044.82 L324.81,1045.41 L324.6,1046 L324.37,1046.58 L324.13,1047.16 L323.89,1047.73 L323.63,1048.29 L323.37,1048.84 L323.09,1049.37 L322.8,1049.9 L322.49,1050.43 L322.18,1050.97 L321.85,1051.5 L321.51,1052.04 L321.17,1052.57 L320.82,1053.09 L320.45,1053.61 L320.08,1054.13 L319.7,1054.63 L319.3,1055.12 L318.9,1055.59 L318.49,1056.05 L318.07,1056.5 L317.63,1056.92 L317.19,1057.33 L316.74,1057.71 L316.27,1058.07 L315.8,1058.4 L315.3,1058.72 L314.78,1059.01 L314.24,1059.29 L313.69,1059.55 L313.12,1059.78 L312.54,1060 L311.95,1060.2 L311.36,1060.39 L310.75,1060.56 L310.15,1060.71 L309.54,1060.85 L308.92,1060.97 L308.31,1061.08 L307.7,1061.18 L307.09,1061.26 L306.49,1061.34 L305.9,1061.4 L305.28,1061.45 L304.66,1061.48 L304.04,1061.49" fill="none" stroke="#4DBEEE" stroke-width="6" stroke-linejoin="bevel" stroke-linecap="butt" stroke-dasharray="5.5 5.2" stroke-dashoffset="0"/>
<path d="M331,980 L331.02,980.6 L331.04,981.21 L331.06,981.82 L331.08,982.43 L331.1,983.05 L331.12,983.67 L331.14,984.29 L331.16,984.91 L331.17,985.53 L331.19,986.15 L331.21,986.76 L331.23,987.38 L331.25,988 L331.27,988.61 L331.29,989.22 L331.31,989.82 L331.33,990.42 L331.35,991.02 L331.37,991.61 L331.39,992.19 L331.41,992.77 L331.43,993.34 L331.46,993.9 L331.48,994.46 L331.5,995 L331.53,995.68 L331.56,996.35 L331.58,997 L331.61,997.64 L331.63,998.28 L331.66,998.9 L331.69,999.52 L331.71,1000.13 L331.74,1000.74 L331.77,1001.34 L331.8,1001.94 L331.84,1002.55 L331.87,1003.16 L331.91,1003.76 L331.95,1004.38 L332,1005 L332.05,1005.63 L332.09,1006.25 L332.14,1006.87 L332.19,1007.5 L332.24,1008.12 L332.3,1008.75 L332.35,1009.37 L332.41,1009.99 L332.47,1010.62 L332.53,1011.24 L332.6,1011.87 L332.67,1012.49 L332.75,1013.12 L332.83,1013.74 L332.91,1014.37 L333,1015 L333.09,1015.61 L333.17,1016.22 L333.26,1016.84 L333.34,1017.46 L333.43,1018.08 L333.51,1018.7 L333.61,1019.32 L333.7,1019.94 L333.81,1020.56 L333.92,1021.18 L334.04,1021.79 L334.17,1022.41 L334.31,1023.02 L334.46,1023.62 L334.62,1024.22 L334.8,1024.81 L335,1025.4 L335.21,1025.99 L335.43,1026.58 L335.66,1027.17 L335.9,1027.76 L336.15,1028.34 L336.41,1028.93 L336.68,1029.51 L336.96,1030.09 L337.25,1030.66 L337.55,1031.22 L337.87,1031.78 L338.19,1032.32 L338.53,1032.86 L338.88,1033.39 L339.24,1033.91 L339.61,1034.41 L340,1034.9 L340.39,1035.36 L340.79,1035.8 L341.21,1036.24 L341.64,1036.66 L342.09,1037.07 L342.55,1037.48 L343.02,1037.88 L343.5,1038.27 L343.99,1038.65 L344.48,1039.03 L344.98,1039.4 L345.49,1039.77 L345.99,1040.13 L346.5,1040.49 L347,1040.84 L347.51,1041.2 L348.01,1041.55 L348.5,1041.9 L349.01,1042.26 L349.52,1042.62 L350.03,1042.98 L350.54,1043.34 L351.06,1043.69 L351.57,1044.04 L352.09,1044.39 L352.61,1044.72 L353.14,1045.06 L353.67,1045.38 L354.2,1045.7 L354.74,1046.01 L355.28,1046.31 L355.82,1046.6 L356.38,1046.88 L356.94,1047.14 L357.5,1047.4 L358.05,1047.64 L358.6,1047.86 L359.17,1048.08 L359.73,1048.29 L360.31,1048.49 L360.88,1048.69 L361.46,1048.87 L362.05,1049.05 L362.64,1049.22 L363.23,1049.38 L363.82,1049.54 L364.42,1049.68 L365.01,1049.82 L365.61,1049.95 L366.21,1050.07 L366.81,1050.19 L367.4,1050.3 L368,1050.4 L368.6,1050.5 L369.21,1050.6 L369.83,1050.7 L370.45,1050.8 L371.08,1050.89 L371.71,1050.97 L372.34,1051.05 L372.98,1051.12 L373.61,1051.18 L374.23,1051.23 L374.86,1051.26 L375.48,1051.27" fill="none" stroke="#4DBEEE" stroke-width="6" stroke-linejoin="bevel" stroke-linecap="butt" stroke-dasharray="5.5 5.2" stroke-dashoffset="0"/>
<path d="M397.9,971 L397.9,971.61 L397.9,972.23 L397.91,972.84 L397.91,973.45 L397.91,974.07 L397.92,974.69 L397.92,975.3 L397.93,975.92 L397.93,976.53 L397.94,977.15 L397.94,977.76 L397.94,978.37 L397.94,978.98 L397.94,979.59 L397.93,980.2 L397.92,980.8 L397.91,981.4 L397.9,982 L397.88,982.64 L397.86,983.27 L397.84,983.89 L397.82,984.51 L397.79,985.12 L397.76,985.74 L397.74,986.35 L397.7,986.96 L397.67,987.58 L397.64,988.19 L397.6,988.81 L397.56,989.44 L397.52,990.07 L397.48,990.7 L397.44,991.35 L397.4,992 L397.36,992.59 L397.32,993.19 L397.27,993.8 L397.23,994.41 L397.18,995.02 L397.13,995.65 L397.07,996.27 L397.02,996.9 L396.97,997.53 L396.91,998.16 L396.86,998.8 L396.8,999.43 L396.75,1000.06 L396.7,1000.69 L396.64,1001.32 L396.59,1001.95 L396.54,1002.57 L396.49,1003.18 L396.44,1003.8 L396.4,1004.4 L396.36,1005.03 L396.32,1005.65 L396.28,1006.27 L396.24,1006.89 L396.21,1007.51 L396.17,1008.13 L396.14,1008.74 L396.11,1009.35 L396.07,1009.96 L396.04,1010.57 L396.01,1011.17 L395.97,1011.78 L395.93,1012.38 L395.89,1012.99 L395.85,1013.59 L395.8,1014.19 L395.75,1014.8 L395.7,1015.4 L395.64,1016.02 L395.58,1016.65 L395.52,1017.27 L395.45,1017.89 L395.38,1018.51 L395.31,1019.13 L395.24,1019.75 L395.17,1020.36 L395.09,1020.98 L395.01,1021.59 L394.93,1022.21 L394.85,1022.82 L394.77,1023.44 L394.68,1024.05 L394.59,1024.67 L394.5,1025.28 L394.4,1025.9 L394.31,1026.52 L394.21,1027.14 L394.13,1027.77 L394.04,1028.4 L393.95,1029.02 L393.87,1029.65 L393.77,1030.28 L393.68,1030.9 L393.58,1031.53 L393.47,1032.15 L393.35,1032.77 L393.23,1033.39 L393.09,1034 L392.94,1034.61 L392.78,1035.21 L392.6,1035.81 L392.4,1036.4 L392.19,1036.99 L391.97,1037.59 L391.75,1038.19 L391.51,1038.8 L391.27,1039.4 L391.01,1040 L390.75,1040.6 L390.47,1041.19 L390.19,1041.78 L389.89,1042.35 L389.57,1042.91 L389.25,1043.46 L388.91,1043.99 L388.55,1044.5 L388.18,1044.99 L387.8,1045.46 L387.4,1045.9 L386.98,1046.33 L386.53,1046.75 L386.07,1047.16 L385.59,1047.55 L385.1,1047.93 L384.59,1048.3 L384.07,1048.65 L383.54,1048.98 L383,1049.29 L382.45,1049.59 L381.88,1049.86 L381.32,1050.12 L380.74,1050.35 L380.17,1050.56 L379.58,1050.74 L379,1050.9 L378.44,1051.02 L377.87,1051.12 L377.29,1051.19 L376.69,1051.24 L376.09,1051.26 L375.48,1051.27" fill="none" stroke="#4DBEEE" stroke-width="6" stroke-linejoin="bevel" stroke-linecap="butt" stroke-dasharray="5.5 5.2" stroke-dashoffset="0"/>
<path d="M397.9,971 L397.94,971.6 L397.99,972.21 L398.03,972.83 L398.08,973.44 L398.12,974.07 L398.17,974.69 L398.21,975.32 L398.26,975.96 L398.31,976.59 L398.36,977.22 L398.4,977.86 L398.45,978.5 L398.5,979.13 L398.54,979.77 L398.59,980.4 L398.64,981.04 L398.68,981.67 L398.73,982.29 L398.78,982.92 L398.82,983.54 L398.87,984.15 L398.91,984.76 L398.95,985.37 L399,985.97 L399.04,986.56 L399.08,987.15 L399.12,987.72 L399.16,988.29 L399.2,988.85 L399.23,989.4 L399.27,989.94 L399.3,990.48 L399.34,991 L399.37,991.5 L399.4,992 L399.44,992.73 L399.47,993.42 L399.5,994.1 L399.52,994.75 L399.54,995.39 L399.56,996.01 L399.57,996.62 L399.59,997.22 L399.61,997.81 L399.63,998.4 L399.65,998.99 L399.69,999.58 L399.72,1000.17 L399.77,1000.77 L399.83,1001.38 L399.9,1002 L399.97,1002.61 L400.05,1003.22 L400.12,1003.84 L400.2,1004.46 L400.29,1005.08 L400.38,1005.7 L400.47,1006.32 L400.57,1006.94 L400.68,1007.56 L400.79,1008.18 L400.91,1008.8 L401.05,1009.41 L401.19,1010.02 L401.35,1010.62 L401.52,1011.22 L401.7,1011.81 L401.9,1012.4 L402.11,1012.99 L402.33,1013.58 L402.56,1014.17 L402.8,1014.77 L403.04,1015.36 L403.3,1015.95 L403.57,1016.53 L403.85,1017.11 L404.14,1017.68 L404.44,1018.25 L404.75,1018.81 L405.08,1019.35 L405.42,1019.89 L405.77,1020.42 L406.13,1020.93 L406.51,1021.42 L406.9,1021.9 L407.31,1022.36 L407.73,1022.81 L408.18,1023.25 L408.64,1023.68 L409.11,1024.09 L409.6,1024.49 L410.1,1024.89 L410.6,1025.27 L411.12,1025.65 L411.65,1026.01 L412.18,1026.37 L412.71,1026.72 L413.25,1027.07 L413.79,1027.41 L414.33,1027.74 L414.87,1028.07 L415.4,1028.4 L415.93,1028.72 L416.47,1029.02 L417.01,1029.32 L417.55,1029.61 L418.1,1029.9 L418.66,1030.17 L419.21,1030.44 L419.77,1030.7 L420.34,1030.96 L420.9,1031.22 L421.47,1031.46 L422.04,1031.71 L422.61,1031.95 L423.18,1032.19 L423.75,1032.43 L424.33,1032.66 L424.9,1032.9 L425.47,1033.14 L426.05,1033.37 L426.63,1033.6 L427.21,1033.84 L427.78,1034.07 L428.37,1034.29 L428.95,1034.51 L429.53,1034.73 L430.12,1034.95 L430.71,1035.15 L431.3,1035.35 L431.89,1035.55 L432.49,1035.74 L433.09,1035.92 L433.69,1036.09 L434.29,1036.25 L434.9,1036.4 L435.49,1036.54 L436.1,1036.69 L436.71,1036.85 L437.32,1037 L437.94,1037.15 L438.57,1037.29 L439.19,1037.43 L439.82,1037.56 L440.45,1037.68 L441.08,1037.79 L441.7,1037.88 L442.32,1037.95 L442.94,1038 L443.55,1038.04 L444.15,1038.04" fill="none" stroke="#4DBEEE" stroke-width="6" stroke-linejoin="bevel" stroke-linecap="butt" stroke-dasharray="5.5 5.2" stroke-dashoffset="0"/>
<path d="M464.8,957.2 L464.79,957.81 L464.78,958.42 L464.77,959.04 L464.77,959.65 L464.76,960.27 L464.75,960.89 L464.75,961.5 L464.74,962.12 L464.73,962.74 L464.73,963.35 L464.72,963.97 L464.71,964.58 L464.7,965.19 L464.69,965.81 L464.68,966.41 L464.67,967.02 L464.66,967.62 L464.65,968.22 L464.63,968.82 L464.62,969.41 L464.6,970 L464.58,970.63 L464.56,971.26 L464.53,971.88 L464.51,972.5 L464.48,973.12 L464.45,973.73 L464.42,974.34 L464.39,974.95 L464.36,975.55 L464.33,976.16 L464.3,976.76 L464.27,977.36 L464.24,977.97 L464.21,978.57 L464.18,979.18 L464.15,979.78 L464.13,980.39 L464.1,981 L464.08,981.61 L464.05,982.22 L464.03,982.84 L464.01,983.45 L463.99,984.06 L463.98,984.68 L463.96,985.29 L463.94,985.91 L463.92,986.52 L463.9,987.13 L463.88,987.75 L463.86,988.36 L463.84,988.97 L463.82,989.58 L463.79,990.19 L463.76,990.79 L463.73,991.4 L463.7,992 L463.66,992.62 L463.63,993.24 L463.59,993.85 L463.54,994.46 L463.5,995.07 L463.45,995.68 L463.41,996.29 L463.36,996.9 L463.31,997.5 L463.26,998.11 L463.21,998.72 L463.16,999.33 L463.11,999.94 L463.06,1000.55 L463,1001.17 L462.95,1001.78 L462.9,1002.4 L462.85,1003 L462.8,1003.61 L462.76,1004.22 L462.71,1004.83 L462.66,1005.44 L462.62,1006.06 L462.57,1006.67 L462.53,1007.29 L462.48,1007.9 L462.43,1008.52 L462.37,1009.13 L462.32,1009.75 L462.26,1010.36 L462.2,1010.97 L462.13,1011.58 L462.06,1012.19 L461.98,1012.8 L461.9,1013.4 L461.81,1014.03 L461.73,1014.66 L461.65,1015.29 L461.56,1015.91 L461.48,1016.54 L461.39,1017.17 L461.3,1017.8 L461.2,1018.42 L461.1,1019.04 L460.99,1019.66 L460.87,1020.28 L460.74,1020.9 L460.6,1021.51 L460.44,1022.11 L460.28,1022.71 L460.1,1023.31 L459.9,1023.9 L459.69,1024.49 L459.48,1025.09 L459.25,1025.7 L459.02,1026.31 L458.78,1026.92 L458.53,1027.53 L458.27,1028.13 L458,1028.73 L457.72,1029.31 L457.42,1029.89 L457.11,1030.45 L456.78,1031 L456.44,1031.53 L456.08,1032.03 L455.71,1032.51 L455.31,1032.97 L454.9,1033.4 L454.45,1033.82 L453.98,1034.22 L453.49,1034.61 L452.97,1034.99 L452.44,1035.34 L451.89,1035.68 L451.32,1036 L450.75,1036.3 L450.16,1036.58 L449.56,1036.84 L448.96,1037.08 L448.35,1037.29 L447.73,1037.48 L447.12,1037.65 L446.51,1037.79 L445.9,1037.9 L445.33,1037.98 L444.74,1038.02 L444.15,1038.04" fill="none" stroke="#4DBEEE" stroke-width="6" stroke-linejoin="bevel" stroke-linecap="butt" stroke-dasharray="5.5 5.2" stroke-dashoffset="0"/>
<path d="M464.8,957.2 L464.83,957.8 L464.86,958.41 L464.89,959.03 L464.92,959.64 L464.95,960.27 L464.98,960.89 L465,961.52 L465.03,962.15 L465.06,962.78 L465.09,963.42 L465.12,964.05 L465.14,964.68 L465.17,965.32 L465.2,965.95 L465.23,966.58 L465.26,967.21 L465.28,967.83 L465.31,968.45 L465.34,969.07 L465.37,969.69 L465.4,970.3 L465.43,970.9 L465.46,971.49 L465.49,972.08 L465.52,972.67 L465.56,973.24 L465.59,973.81 L465.62,974.37 L465.66,974.91 L465.69,975.45 L465.73,975.98 L465.76,976.5 L465.8,977 L465.85,977.72 L465.91,978.41 L465.96,979.08 L466.01,979.74 L466.06,980.37 L466.12,980.99 L466.17,981.6 L466.23,982.2 L466.29,982.8 L466.35,983.39 L466.41,983.98 L466.48,984.57 L466.55,985.16 L466.63,985.76 L466.71,986.38 L466.8,987 L466.89,987.62 L466.97,988.24 L467.05,988.86 L467.13,989.49 L467.21,990.12 L467.29,990.75 L467.38,991.39 L467.47,992.02 L467.57,992.65 L467.67,993.27 L467.79,993.9 L467.92,994.52 L468.06,995.13 L468.22,995.74 L468.39,996.33 L468.59,996.92 L468.8,997.5 L469.03,998.07 L469.27,998.63 L469.52,999.19 L469.79,999.75 L470.07,1000.3 L470.37,1000.85 L470.67,1001.39 L470.99,1001.93 L471.32,1002.46 L471.65,1002.98 L472,1003.5 L472.36,1004.01 L472.73,1004.51 L473.11,1005 L473.5,1005.47 L473.9,1005.94 L474.3,1006.4 L474.72,1006.85 L475.16,1007.29 L475.61,1007.72 L476.08,1008.13 L476.56,1008.54 L477.05,1008.94 L477.55,1009.33 L478.06,1009.71 L478.57,1010.08 L479.1,1010.45 L479.62,1010.81 L480.15,1011.17 L480.68,1011.52 L481.21,1011.87 L481.75,1012.22 L482.27,1012.56 L482.8,1012.9 L483.32,1013.23 L483.84,1013.56 L484.37,1013.88 L484.9,1014.19 L485.43,1014.49 L485.97,1014.79 L486.5,1015.09 L487.04,1015.38 L487.59,1015.67 L488.13,1015.95 L488.68,1016.24 L489.23,1016.52 L489.78,1016.79 L490.33,1017.07 L490.89,1017.35 L491.44,1017.62 L492,1017.9 L492.54,1018.17 L493.08,1018.44 L493.63,1018.71 L494.17,1018.98 L494.72,1019.25 L495.27,1019.52 L495.82,1019.79 L496.37,1020.05 L496.93,1020.31 L497.48,1020.57 L498.04,1020.82 L498.6,1021.07 L499.16,1021.31 L499.73,1021.55 L500.29,1021.77 L500.86,1021.99 L501.43,1022.2 L502,1022.4 L502.6,1022.61 L503.21,1022.82 L503.82,1023.04 L504.44,1023.25 L505.06,1023.46 L505.68,1023.67 L506.3,1023.87 L506.93,1024.06 L507.55,1024.24 L508.18,1024.4 L508.8,1024.54 L509.42,1024.67 L510.05,1024.77 L510.66,1024.85 L511.28,1024.9 L511.89,1024.91" fill="none" stroke="#4DBEEE" stroke-width="6" stroke-linejoin="bevel" stroke-linecap="butt" stroke-dasharray="5.5 5.2" stroke-dashoffset="0"/>
<path d="M531.9,948 L531.9,948.61 L531.9,949.22 L531.9,949.84 L531.9,950.45 L531.9,951.06 L531.9,951.68 L531.9,952.29 L531.9,952.9 L531.9,953.52 L531.9,954.13 L531.9,954.74 L531.9,955.35 L531.9,955.96 L531.9,956.57 L531.9,957.18 L531.9,957.79 L531.9,958.4 L531.9,959 L531.9,959.62 L531.9,960.25 L531.91,960.87 L531.91,961.49 L531.92,962.11 L531.92,962.72 L531.92,963.34 L531.93,963.96 L531.93,964.57 L531.94,965.19 L531.94,965.8 L531.94,966.42 L531.93,967.03 L531.93,967.65 L531.92,968.27 L531.91,968.88 L531.9,969.5 L531.89,970.12 L531.87,970.73 L531.85,971.35 L531.83,971.97 L531.82,972.58 L531.8,973.2 L531.77,973.82 L531.75,974.43 L531.72,975.05 L531.69,975.67 L531.66,976.28 L531.63,976.9 L531.59,977.52 L531.55,978.14 L531.5,978.76 L531.45,979.38 L531.4,980 L531.34,980.6 L531.28,981.2 L531.21,981.81 L531.14,982.41 L531.07,983.02 L530.99,983.63 L530.9,984.24 L530.82,984.84 L530.73,985.45 L530.65,986.06 L530.56,986.67 L530.47,987.27 L530.39,987.88 L530.3,988.49 L530.22,989.09 L530.14,989.7 L530.07,990.3 L530,990.9 L529.93,991.52 L529.87,992.14 L529.81,992.76 L529.76,993.38 L529.71,994 L529.66,994.62 L529.61,995.24 L529.56,995.86 L529.51,996.47 L529.46,997.09 L529.41,997.71 L529.35,998.32 L529.3,998.94 L529.23,999.55 L529.16,1000.17 L529.08,1000.78 L529,1001.4 L528.91,1002.02 L528.83,1002.64 L528.74,1003.27 L528.65,1003.89 L528.56,1004.52 L528.47,1005.15 L528.37,1005.77 L528.27,1006.4 L528.17,1007.02 L528.05,1007.65 L527.93,1008.27 L527.81,1008.88 L527.67,1009.49 L527.52,1010.1 L527.36,1010.71 L527.19,1011.31 L527,1011.9 L526.81,1012.49 L526.62,1013.1 L526.43,1013.71 L526.23,1014.32 L526.03,1014.94 L525.82,1015.56 L525.6,1016.18 L525.37,1016.78 L525.12,1017.38 L524.87,1017.96 L524.59,1018.53 L524.3,1019.07 L523.99,1019.6 L523.65,1020.09 L523.29,1020.56 L522.91,1021 L522.5,1021.4 L522.06,1021.77 L521.58,1022.13 L521.07,1022.46 L520.53,1022.77 L519.97,1023.05 L519.39,1023.32 L518.79,1023.57 L518.18,1023.79 L517.55,1024 L516.92,1024.18 L516.28,1024.35 L515.64,1024.49 L515,1024.61 L514.36,1024.72 L513.73,1024.8 L513.11,1024.86 L512.5,1024.9 L511.89,1024.91" fill="none" stroke="#4DBEEE" stroke-width="6" stroke-linejoin="bevel" stroke-linecap="butt" stroke-dasharray="5.5 5.2" stroke-dashoffset="0"/>
<path d="M531.9,948 L531.94,948.61 L531.98,949.23 L532.02,949.86 L532.06,950.49 L532.1,951.12 L532.14,951.75 L532.18,952.39 L532.22,953.03 L532.26,953.68 L532.3,954.32 L532.34,954.97 L532.37,955.61 L532.41,956.26 L532.45,956.91 L532.49,957.55 L532.53,958.19 L532.57,958.84 L532.61,959.48 L532.64,960.11 L532.68,960.74 L532.72,961.37 L532.76,962 L532.81,962.62 L532.85,963.23 L532.89,963.84 L532.93,964.44 L532.97,965.03 L533.02,965.62 L533.06,966.2 L533.11,966.77 L533.15,967.34 L533.2,967.89 L533.25,968.43 L533.3,968.97 L533.35,969.49 L533.4,970 L533.47,970.71 L533.53,971.4 L533.59,972.07 L533.64,972.73 L533.7,973.38 L533.75,974.01 L533.8,974.63 L533.86,975.24 L533.92,975.84 L533.98,976.43 L534.06,977.02 L534.14,977.6 L534.23,978.17 L534.34,978.74 L534.45,979.31 L534.58,979.87 L534.73,980.44 L534.9,981 L535.09,981.6 L535.29,982.2 L535.5,982.8 L535.73,983.4 L535.96,983.99 L536.2,984.58 L536.46,985.16 L536.73,985.73 L537.01,986.29 L537.3,986.85 L537.61,987.39 L537.94,987.92 L538.28,988.44 L538.64,988.94 L539.01,989.43 L539.4,989.9 L539.8,990.34 L540.21,990.75 L540.65,991.15 L541.11,991.54 L541.59,991.91 L542.08,992.27 L542.58,992.62 L543.1,992.97 L543.62,993.3 L544.15,993.63 L544.69,993.96 L545.23,994.28 L545.77,994.6 L546.31,994.92 L546.84,995.24 L547.37,995.57 L547.9,995.9 L548.41,996.22 L548.92,996.55 L549.44,996.87 L549.95,997.18 L550.48,997.5 L551,997.82 L551.53,998.13 L552.06,998.44 L552.59,998.75 L553.12,999.05 L553.65,999.36 L554.19,999.66 L554.72,999.96 L555.26,1000.25 L555.8,1000.54 L556.33,1000.83 L556.87,1001.12 L557.4,1001.4 L557.95,1001.69 L558.51,1001.97 L559.06,1002.26 L559.61,1002.53 L560.17,1002.81 L560.72,1003.08 L561.27,1003.35 L561.83,1003.62 L562.39,1003.88 L562.95,1004.14 L563.5,1004.4 L564.07,1004.66 L564.63,1004.91 L565.19,1005.16 L565.76,1005.41 L566.33,1005.66 L566.9,1005.9 L567.48,1006.15 L568.06,1006.41 L568.64,1006.67 L569.23,1006.93 L569.81,1007.2 L570.4,1007.46 L570.99,1007.72 L571.58,1007.98 L572.17,1008.23 L572.76,1008.46 L573.36,1008.69 L573.96,1008.9 L574.56,1009.1 L575.16,1009.28 L575.77,1009.44 L576.38,1009.58 L577,1009.7 L577.6,1009.8 L578.22,1009.9 L578.85,1009.99 L579.49,1010.09 L580.15,1010.17 L580.81,1010.24 L581.47,1010.3 L582.13,1010.34 L582.79,1010.37 L583.44,1010.38" fill="none" stroke="#4DBEEE" stroke-width="6" stroke-linejoin="bevel" stroke-linecap="butt" stroke-dasharray="5.5 5.2" stroke-dashoffset="0"/>
<path d="M598.8,895 L598.8,895.62 L598.8,896.24 L598.8,896.86 L598.8,897.49 L598.8,898.12 L598.8,898.76 L598.8,899.39 L598.8,900.03 L598.8,900.67 L598.8,901.31 L598.8,901.95 L598.8,902.59 L598.8,903.23 L598.8,903.87 L598.8,904.51 L598.8,905.14 L598.8,905.77 L598.8,906.4 L598.8,907.02 L598.8,907.64 L598.8,908.25 L598.8,908.86 L598.8,909.46 L598.8,910.06 L598.8,910.65 L598.8,911.23 L598.8,911.8 L598.8,912.36 L598.8,912.92 L598.8,913.47 L598.8,914 L598.8,914.69 L598.8,915.35 L598.8,916.01 L598.8,916.65 L598.8,917.27 L598.8,917.89 L598.8,918.5 L598.8,919.1 L598.8,919.69 L598.8,920.28 L598.8,920.86 L598.8,921.45 L598.8,922.03 L598.8,922.62 L598.8,923.2 L598.8,923.8 L598.8,924.39 L598.8,925 L598.8,925.61 L598.8,926.21 L598.8,926.82 L598.81,927.42 L598.81,928.03 L598.81,928.64 L598.81,929.24 L598.82,929.85 L598.82,930.45 L598.82,931.06 L598.82,931.66 L598.82,932.26 L598.82,932.87 L598.82,933.48 L598.82,934.08 L598.81,934.69 L598.81,935.29 L598.8,935.9 L598.79,936.51 L598.78,937.12 L598.77,937.73 L598.76,938.34 L598.74,938.95 L598.73,939.56 L598.71,940.17 L598.7,940.79 L598.68,941.4 L598.66,942.01 L598.65,942.62 L598.63,943.23 L598.61,943.84 L598.59,944.45 L598.57,945.07 L598.54,945.68 L598.52,946.29 L598.5,946.9 L598.48,947.51 L598.45,948.12 L598.43,948.74 L598.4,949.35 L598.38,949.96 L598.35,950.58 L598.32,951.19 L598.29,951.8 L598.26,952.42 L598.23,953.03 L598.2,953.64 L598.17,954.25 L598.15,954.86 L598.12,955.47 L598.09,956.08 L598.06,956.69 L598.03,957.3 L598,957.9 L597.97,958.52 L597.94,959.15 L597.91,959.76 L597.88,960.38 L597.85,961 L597.82,961.61 L597.79,962.23 L597.76,962.84 L597.74,963.46 L597.71,964.07 L597.68,964.69 L597.65,965.3 L597.62,965.92 L597.59,966.54 L597.56,967.15 L597.53,967.78 L597.5,968.4 L597.47,969.01 L597.45,969.61 L597.42,970.22 L597.4,970.83 L597.38,971.44 L597.36,972.06 L597.34,972.67 L597.32,973.29 L597.3,973.9 L597.27,974.52 L597.25,975.13 L597.22,975.74 L597.19,976.36 L597.16,976.97 L597.13,977.58 L597.09,978.19 L597.05,978.8 L597,979.4 L596.95,980.02 L596.9,980.65 L596.84,981.27 L596.79,981.89 L596.73,982.51 L596.67,983.13 L596.61,983.75 L596.54,984.36 L596.48,984.98 L596.41,985.6 L596.33,986.21 L596.25,986.83 L596.17,987.44 L596.09,988.06 L595.99,988.67 L595.9,989.29 L595.8,989.9 L595.7,990.52 L595.6,991.15 L595.5,991.78 L595.4,992.41 L595.3,993.04 L595.2,993.67 L595.09,994.3 L594.98,994.93 L594.86,995.56 L594.73,996.18 L594.6,996.8 L594.45,997.42 L594.29,998.03 L594.12,998.63 L593.93,999.23 L593.72,999.82 L593.5,1000.4 L593.27,1000.98 L593.03,1001.58 L592.79,1002.18 L592.54,1002.8 L592.28,1003.41 L592.01,1004.03 L591.72,1004.63 L591.43,1005.23 L591.12,1005.81 L590.8,1006.38 L590.46,1006.92 L590.1,1007.43 L589.72,1007.9 L589.32,1008.35 L588.91,1008.74 L588.46,1009.1 L588,1009.4 L587.52,1009.65 L587.01,1009.85 L586.47,1010.02 L585.91,1010.15 L585.32,1010.25 L584.71,1010.32 L584.08,1010.36 L583.44,1010.38" fill="none" stroke="#4DBEEE" stroke-width="6" stroke-linejoin="bevel" stroke-linecap="butt" stroke-dasharray="5.5 5.2" stroke-dashoffset="0"/>
<path d="M598.8,895 L598.81,895.61 L598.82,896.22 L598.83,896.83 L598.84,897.44 L598.86,898.06 L598.87,898.67 L598.88,899.28 L598.89,899.89 L598.9,900.5 L598.91,901.11 L598.92,901.72 L598.93,902.33 L598.94,902.94 L598.96,903.56 L598.97,904.17 L598.98,904.78 L598.99,905.39 L599,906 L599.01,906.61 L599.02,907.22 L599.03,907.83 L599.04,908.44 L599.05,909.06 L599.06,909.67 L599.07,910.28 L599.08,910.89 L599.09,911.5 L599.1,912.11 L599.11,912.72 L599.13,913.33 L599.14,913.94 L599.15,914.56 L599.16,915.17 L599.17,915.78 L599.19,916.39 L599.2,917 L599.21,917.61 L599.23,918.22 L599.24,918.83 L599.26,919.44 L599.28,920.06 L599.29,920.67 L599.31,921.28 L599.33,921.89 L599.34,922.5 L599.36,923.11 L599.38,923.72 L599.4,924.33 L599.41,924.94 L599.43,925.56 L599.45,926.17 L599.47,926.78 L599.48,927.39 L599.5,928 L599.52,928.61 L599.53,929.23 L599.55,929.84 L599.56,930.45 L599.58,931.07 L599.6,931.69 L599.61,932.3 L599.63,932.92 L599.64,933.53 L599.66,934.15 L599.67,934.76 L599.69,935.37 L599.71,935.98 L599.73,936.59 L599.74,937.2 L599.76,937.8 L599.78,938.4 L599.8,939 L599.82,939.64 L599.84,940.27 L599.86,940.9 L599.88,941.52 L599.9,942.14 L599.93,942.76 L599.95,943.38 L599.97,944 L599.99,944.62 L600.02,945.24 L600.05,945.86 L600.07,946.48 L600.1,947.1 L600.13,947.73 L600.17,948.36 L600.2,949 L600.23,949.6 L600.26,950.2 L600.29,950.81 L600.32,951.42 L600.35,952.03 L600.37,952.64 L600.4,953.26 L600.43,953.88 L600.47,954.5 L600.5,955.11 L600.54,955.73 L600.59,956.35 L600.64,956.96 L600.7,957.58 L600.76,958.19 L600.83,958.79 L600.91,959.4 L601,960 L601.09,960.63 L601.19,961.26 L601.27,961.9 L601.36,962.54 L601.46,963.18 L601.55,963.82 L601.66,964.46 L601.77,965.09 L601.89,965.72 L602.03,966.34 L602.18,966.96 L602.34,967.56 L602.53,968.16 L602.74,968.74 L602.96,969.31 L603.22,969.86 L603.5,970.4 L603.81,970.92 L604.14,971.43 L604.5,971.92 L604.89,972.4 L605.29,972.88 L605.72,973.34 L606.16,973.79 L606.61,974.23 L607.08,974.67 L607.55,975.1 L608.04,975.51 L608.53,975.93 L609.02,976.33 L609.52,976.73 L610.02,977.13 L610.51,977.52 L611,977.9 L611.49,978.28 L611.99,978.64 L612.49,978.99 L613.01,979.33 L613.53,979.67 L614.05,979.99 L614.59,980.31 L615.12,980.62 L615.66,980.93 L616.2,981.24 L616.74,981.54 L617.29,981.85 L617.83,982.15 L618.38,982.46 L618.92,982.77 L619.46,983.08 L620,983.4 L620.52,983.71 L621.03,984.02 L621.55,984.33 L622.07,984.64 L622.59,984.95 L623.11,985.26 L623.63,985.57 L624.15,985.88 L624.67,986.18 L625.2,986.49 L625.72,986.8 L626.24,987.1 L626.77,987.41 L627.29,987.71 L627.82,988.01 L628.35,988.31 L628.87,988.61 L629.4,988.9 L629.95,989.21 L630.5,989.52 L631.05,989.84 L631.6,990.15 L632.15,990.47 L632.7,990.78 L633.25,991.09 L633.81,991.4 L634.36,991.71 L634.92,992.01 L635.47,992.3 L636.03,992.59 L636.6,992.87 L637.17,993.14 L637.74,993.41 L638.32,993.66 L638.9,993.9 L639.46,994.13 L640.03,994.36 L640.61,994.6 L641.19,994.85 L641.78,995.09 L642.37,995.33 L642.96,995.56 L643.56,995.78 L644.16,995.99 L644.75,996.19 L645.35,996.37 L645.94,996.52 L646.53,996.66 L647.12,996.77 L647.7,996.85 L648.27,996.9 L648.84,996.92" fill="none" stroke="#4DBEEE" stroke-width="6" stroke-linejoin="bevel" stroke-linecap="butt" stroke-dasharray="5.5 5.2" stroke-dashoffset="0"/>
<path d="M665.9,925.5 L665.9,926.11 L665.9,926.72 L665.9,927.34 L665.91,927.95 L665.91,928.57 L665.92,929.19 L665.92,929.81 L665.92,930.43 L665.93,931.05 L665.93,931.67 L665.94,932.28 L665.94,932.9 L665.94,933.51 L665.94,934.13 L665.94,934.73 L665.94,935.34 L665.94,935.94 L665.94,936.54 L665.93,937.14 L665.92,937.73 L665.91,938.32 L665.9,938.9 L665.88,939.54 L665.87,940.17 L665.85,940.79 L665.83,941.41 L665.81,942.03 L665.79,942.64 L665.76,943.25 L665.74,943.85 L665.71,944.45 L665.68,945.06 L665.65,945.66 L665.62,946.26 L665.59,946.86 L665.55,947.46 L665.52,948.07 L665.48,948.67 L665.44,949.28 L665.4,949.9 L665.36,950.5 L665.32,951.1 L665.27,951.71 L665.22,952.31 L665.17,952.92 L665.12,953.53 L665.07,954.14 L665.02,954.75 L664.96,955.36 L664.91,955.97 L664.85,956.58 L664.79,957.19 L664.74,957.8 L664.68,958.41 L664.62,959.01 L664.57,959.61 L664.51,960.21 L664.45,960.81 L664.4,961.4 L664.34,962.03 L664.29,962.66 L664.23,963.28 L664.18,963.9 L664.12,964.52 L664.07,965.13 L664.01,965.75 L663.96,966.36 L663.9,966.97 L663.85,967.58 L663.79,968.2 L663.73,968.81 L663.67,969.42 L663.6,970.04 L663.54,970.66 L663.47,971.28 L663.4,971.9 L663.33,972.51 L663.27,973.12 L663.2,973.73 L663.14,974.34 L663.08,974.96 L663.01,975.58 L662.95,976.2 L662.88,976.82 L662.81,977.43 L662.74,978.05 L662.66,978.67 L662.57,979.28 L662.48,979.89 L662.38,980.5 L662.28,981.11 L662.16,981.71 L662.04,982.31 L661.9,982.9 L661.76,983.52 L661.62,984.15 L661.48,984.79 L661.34,985.43 L661.2,986.08 L661.05,986.72 L660.9,987.37 L660.73,988 L660.56,988.63 L660.36,989.24 L660.16,989.84 L659.93,990.42 L659.67,990.97 L659.4,991.5 L659.1,992 L658.76,992.47 L658.4,992.9 L657.99,993.31 L657.55,993.71 L657.07,994.09 L656.56,994.45 L656.03,994.78 L655.47,995.1 L654.9,995.39 L654.3,995.66 L653.7,995.91 L653.09,996.13 L652.47,996.33 L651.85,996.5 L651.22,996.64 L650.61,996.76 L650,996.84 L649.4,996.9 L648.84,996.92" fill="none" stroke="#4DBEEE" stroke-width="6" stroke-linejoin="bevel" stroke-linecap="butt" stroke-dasharray="5.5 5.2" stroke-dashoffset="0"/>
<path d="M665.9,925.5 L665.95,926.11 L665.99,926.74 L666.03,927.37 L666.07,928 L666.1,928.64 L666.13,929.29 L666.16,929.94 L666.18,930.6 L666.21,931.25 L666.23,931.92 L666.25,932.58 L666.27,933.24 L666.29,933.91 L666.31,934.58 L666.33,935.24 L666.35,935.91 L666.38,936.57 L666.4,937.23 L666.42,937.89 L666.45,938.54 L666.48,939.19 L666.51,939.84 L666.54,940.48 L666.58,941.11 L666.62,941.74 L666.67,942.36 L666.72,942.97 L666.77,943.57 L666.83,944.16 L666.89,944.75 L666.96,945.32 L667.04,945.88 L667.12,946.43 L667.21,946.97 L667.31,947.49 L667.41,948.01 L667.52,948.5 L667.64,948.98 L667.76,949.45 L667.9,949.9 L668.13,950.58 L668.36,951.24 L668.61,951.86 L668.87,952.46 L669.14,953.03 L669.41,953.59 L669.71,954.12 L670.01,954.63 L670.32,955.13 L670.65,955.62 L670.99,956.1 L671.34,956.56 L671.71,957.03 L672.09,957.48 L672.49,957.94 L672.9,958.4 L673.31,958.83 L673.73,959.24 L674.18,959.64 L674.64,960.04 L675.12,960.42 L675.61,960.79 L676.11,961.16 L676.63,961.51 L677.15,961.87 L677.68,962.21 L678.21,962.56 L678.74,962.89 L679.28,963.23 L679.81,963.56 L680.34,963.9 L680.87,964.23 L681.39,964.56 L681.9,964.9 L682.42,965.25 L682.95,965.59 L683.47,965.93 L684,966.26 L684.52,966.59 L685.05,966.92 L685.58,967.25 L686.1,967.57 L686.63,967.89 L687.16,968.21 L687.69,968.53 L688.22,968.84 L688.76,969.16 L689.29,969.47 L689.83,969.78 L690.36,970.09 L690.9,970.4 L691.44,970.71 L691.98,971.01 L692.52,971.32 L693.06,971.62 L693.6,971.92 L694.14,972.22 L694.69,972.52 L695.23,972.82 L695.78,973.11 L696.33,973.41 L696.88,973.7 L697.43,973.98 L697.98,974.27 L698.53,974.56 L699.09,974.84 L699.64,975.12 L700.2,975.4 L700.76,975.68 L701.33,975.97 L701.9,976.26 L702.47,976.55 L703.03,976.84 L703.61,977.13 L704.18,977.42 L704.75,977.7 L705.33,977.98 L705.9,978.25 L706.48,978.52 L707.06,978.78 L707.64,979.02 L708.23,979.26 L708.82,979.49 L709.41,979.7 L710,979.9 L710.59,980.1 L711.19,980.3 L711.81,980.52 L712.43,980.74 L713.05,980.96 L713.69,981.17 L714.32,981.37 L714.95,981.56 L715.58,981.73 L716.2,981.88 L716.81,982 L717.41,982.09 L718.01,982.14 L718.58,982.15" fill="none" stroke="#4DBEEE" stroke-width="6" stroke-linejoin="bevel" stroke-linecap="butt" stroke-dasharray="5.5 5.2" stroke-dashoffset="0"/>
<path d="M732.7,909.5 L732.7,910.11 L732.7,910.71 L732.71,911.32 L732.71,911.93 L732.71,912.53 L732.72,913.14 L732.72,913.75 L732.73,914.36 L732.73,914.97 L732.73,915.57 L732.74,916.18 L732.74,916.79 L732.74,917.39 L732.74,918 L732.73,918.6 L732.73,919.2 L732.72,919.8 L732.71,920.4 L732.7,921 L732.68,921.61 L732.67,922.22 L732.65,922.83 L732.62,923.44 L732.6,924.05 L732.57,924.65 L732.54,925.26 L732.51,925.86 L732.48,926.47 L732.45,927.07 L732.42,927.67 L732.38,928.27 L732.35,928.88 L732.32,929.48 L732.29,930.08 L732.26,930.69 L732.23,931.29 L732.2,931.9 L732.17,932.51 L732.15,933.12 L732.12,933.73 L732.09,934.35 L732.07,934.96 L732.04,935.57 L732.02,936.19 L731.99,936.8 L731.96,937.41 L731.94,938.03 L731.91,938.64 L731.88,939.25 L731.85,939.86 L731.83,940.47 L731.8,941.08 L731.77,941.69 L731.73,942.3 L731.7,942.9 L731.67,943.52 L731.63,944.15 L731.6,944.77 L731.56,945.39 L731.53,946.01 L731.49,946.63 L731.46,947.24 L731.42,947.86 L731.38,948.48 L731.34,949.09 L731.3,949.71 L731.26,950.32 L731.21,950.94 L731.16,951.55 L731.11,952.17 L731.06,952.78 L731,953.4 L730.94,954.02 L730.88,954.64 L730.82,955.26 L730.76,955.87 L730.7,956.49 L730.63,957.11 L730.57,957.73 L730.5,958.35 L730.42,958.97 L730.35,959.59 L730.27,960.2 L730.19,960.82 L730.1,961.44 L730.01,962.05 L729.91,962.67 L729.81,963.29 L729.7,963.9 L729.59,964.53 L729.49,965.16 L729.39,965.8 L729.29,966.44 L729.2,967.08 L729.1,967.73 L728.99,968.37 L728.88,969.01 L728.76,969.65 L728.63,970.28 L728.48,970.91 L728.32,971.52 L728.14,972.13 L727.94,972.72 L727.72,973.3 L727.47,973.86 L727.2,974.4 L726.91,974.93 L726.6,975.46 L726.27,976.01 L725.93,976.55 L725.57,977.09 L725.19,977.63 L724.79,978.15 L724.39,978.66 L723.96,979.15 L723.53,979.62 L723.08,980.06 L722.63,980.47 L722.16,980.84 L721.68,981.18 L721.19,981.47 L720.7,981.71 L720.2,981.9 L719.68,982.04 L719.14,982.12 L718.58,982.15" fill="none" stroke="#4DBEEE" stroke-width="6" stroke-linejoin="bevel" stroke-linecap="butt" stroke-dasharray="5.5 5.2" stroke-dashoffset="0"/>
<path d="M732.7,909.5 L732.75,910.11 L732.8,910.72 L732.84,911.33 L732.88,911.96 L732.92,912.58 L732.96,913.21 L733,913.84 L733.04,914.47 L733.08,915.11 L733.11,915.75 L733.15,916.39 L733.19,917.02 L733.22,917.66 L733.26,918.3 L733.3,918.93 L733.33,919.57 L733.37,920.2 L733.41,920.82 L733.46,921.45 L733.5,922.07 L733.54,922.68 L733.59,923.29 L733.64,923.9 L733.69,924.49 L733.75,925.08 L733.81,925.67 L733.87,926.24 L733.93,926.81 L734,927.37 L734.07,927.92 L734.15,928.45 L734.23,928.98 L734.31,929.5 L734.4,930 L734.52,930.68 L734.64,931.34 L734.75,931.99 L734.87,932.64 L734.98,933.27 L735.1,933.89 L735.22,934.49 L735.34,935.09 L735.48,935.67 L735.62,936.24 L735.78,936.8 L735.96,937.35 L736.14,937.89 L736.35,938.42 L736.58,938.93 L736.83,939.43 L737.1,939.92 L737.4,940.4 L737.74,940.88 L738.11,941.33 L738.5,941.77 L738.92,942.19 L739.36,942.6 L739.82,942.99 L740.3,943.36 L740.79,943.73 L741.29,944.09 L741.8,944.45 L742.32,944.8 L742.84,945.14 L743.36,945.49 L743.88,945.84 L744.39,946.19 L744.9,946.54 L745.4,946.9 L745.88,947.25 L746.36,947.6 L746.85,947.94 L747.34,948.29 L747.84,948.63 L748.34,948.97 L748.84,949.3 L749.34,949.64 L749.84,949.97 L750.35,950.3 L750.85,950.63 L751.36,950.96 L751.87,951.28 L752.38,951.61 L752.88,951.93 L753.39,952.26 L753.9,952.58 L754.4,952.9 L754.93,953.24 L755.45,953.57 L755.98,953.9 L756.5,954.23 L757.03,954.57 L757.55,954.89 L758.08,955.22 L758.6,955.55 L759.13,955.87 L759.66,956.19 L760.19,956.52 L760.72,956.83 L761.25,957.15 L761.79,957.47 L762.32,957.78 L762.86,958.09 L763.4,958.4 L763.95,958.71 L764.5,959.02 L765.05,959.32 L765.6,959.63 L766.15,959.93 L766.71,960.23 L767.26,960.53 L767.82,960.82 L768.38,961.12 L768.94,961.41 L769.5,961.7 L770.06,961.99 L770.63,962.27 L771.19,962.56 L771.76,962.84 L772.33,963.12 L772.9,963.4 L773.45,963.68 L773.99,963.97 L774.54,964.27 L775.1,964.59 L775.65,964.91 L776.2,965.23 L776.76,965.55 L777.32,965.87 L777.88,966.17 L778.44,966.47 L779,966.74 L779.55,967 L780.11,967.23 L780.67,967.44 L781.23,967.61 L781.79,967.75 L782.34,967.84 L782.9,967.9 L783.5,967.92" fill="none" stroke="#4DBEEE" stroke-width="6" stroke-linejoin="bevel" stroke-linecap="butt" stroke-dasharray="5.5 5.2" stroke-dashoffset="0"/>
<path d="M799.7,898.5 L799.69,899.11 L799.67,899.72 L799.66,900.34 L799.65,900.95 L799.64,901.57 L799.63,902.19 L799.61,902.81 L799.6,903.43 L799.59,904.05 L799.58,904.67 L799.57,905.28 L799.55,905.9 L799.54,906.51 L799.53,907.12 L799.51,907.73 L799.5,908.34 L799.49,908.94 L799.47,909.54 L799.45,910.14 L799.44,910.73 L799.42,911.32 L799.4,911.9 L799.38,912.54 L799.35,913.17 L799.33,913.8 L799.3,914.42 L799.28,915.04 L799.25,915.66 L799.22,916.27 L799.19,916.88 L799.16,917.48 L799.13,918.09 L799.11,918.69 L799.08,919.29 L799.05,919.89 L799.02,920.49 L798.99,921.09 L798.96,921.7 L798.93,922.3 L798.9,922.9 L798.87,923.52 L798.84,924.15 L798.82,924.77 L798.79,925.39 L798.76,926.01 L798.73,926.62 L798.7,927.24 L798.68,927.86 L798.65,928.47 L798.62,929.09 L798.59,929.7 L798.56,930.32 L798.53,930.93 L798.5,931.55 L798.47,932.17 L798.43,932.78 L798.4,933.4 L798.36,934.02 L798.33,934.64 L798.3,935.25 L798.26,935.87 L798.23,936.49 L798.19,937.11 L798.16,937.73 L798.12,938.34 L798.08,938.96 L798.04,939.58 L798,940.2 L797.96,940.81 L797.91,941.43 L797.86,942.05 L797.81,942.67 L797.76,943.28 L797.7,943.9 L797.64,944.52 L797.59,945.14 L797.54,945.76 L797.49,946.38 L797.44,947 L797.39,947.62 L797.33,948.24 L797.28,948.86 L797.21,949.48 L797.15,950.1 L797.07,950.72 L796.99,951.34 L796.89,951.95 L796.79,952.57 L796.67,953.18 L796.54,953.79 L796.4,954.4 L796.25,955 L796.11,955.62 L795.96,956.26 L795.81,956.9 L795.66,957.55 L795.5,958.2 L795.33,958.86 L795.15,959.5 L794.96,960.14 L794.76,960.77 L794.54,961.38 L794.3,961.97 L794.04,962.54 L793.76,963.08 L793.46,963.59 L793.13,964.07 L792.78,964.5 L792.4,964.9 L791.96,965.28 L791.48,965.64 L790.96,965.98 L790.42,966.29 L789.84,966.57 L789.25,966.83 L788.63,967.06 L788,967.26 L787.36,967.44 L786.71,967.59 L786.06,967.71 L785.41,967.81 L784.76,967.87 L784.13,967.91 L783.5,967.92" fill="none" stroke="#4DBEEE" stroke-width="6" stroke-linejoin="bevel" stroke-linecap="butt" stroke-dasharray="5.5 5.2" stroke-dashoffset="0"/>
<path d="M799.7,898.5 L799.73,899.11 L799.75,899.71 L799.77,900.33 L799.78,900.94 L799.8,901.55 L799.81,902.17 L799.82,902.79 L799.83,903.41 L799.84,904.02 L799.85,904.64 L799.86,905.26 L799.88,905.87 L799.89,906.48 L799.91,907.1 L799.93,907.7 L799.96,908.31 L799.99,908.91 L800.03,909.51 L800.07,910.11 L800.12,910.7 L800.18,911.28 L800.24,911.86 L800.32,912.43 L800.4,913 L800.5,913.64 L800.59,914.29 L800.68,914.94 L800.78,915.59 L800.87,916.23 L800.97,916.88 L801.08,917.52 L801.19,918.15 L801.32,918.78 L801.45,919.4 L801.59,920.01 L801.75,920.61 L801.93,921.2 L802.12,921.78 L802.33,922.34 L802.56,922.88 L802.82,923.41 L803.1,923.91 L803.4,924.4 L803.76,924.89 L804.15,925.36 L804.56,925.81 L805.01,926.23 L805.48,926.64 L805.98,927.03 L806.49,927.41 L807.01,927.77 L807.55,928.13 L808.09,928.47 L808.64,928.82 L809.2,929.16 L809.75,929.5 L810.3,929.84 L810.85,930.19 L811.38,930.54 L811.9,930.9 L812.39,931.25 L812.88,931.59 L813.37,931.94 L813.86,932.28 L814.35,932.62 L814.84,932.96 L815.34,933.3 L815.83,933.64 L816.33,933.97 L816.83,934.31 L817.33,934.64 L817.83,934.97 L818.34,935.29 L818.85,935.62 L819.36,935.94 L819.87,936.26 L820.38,936.58 L820.9,936.9 L821.44,937.23 L822,937.56 L822.58,937.9 L823.18,938.24 L823.78,938.59 L824.39,938.93 L825,939.28 L825.61,939.61 L826.21,939.95 L826.81,940.27 L827.39,940.59 L827.95,940.9 L828.5,941.19 L829.02,941.47 L829.52,941.73 L829.98,941.97 L830.41,942.2 L830.8,942.4 L831.54,942.77 L832.15,943.06 L832.71,943.32 L833.3,943.6" fill="none" stroke="#4DBEEE" stroke-width="6" stroke-linejoin="bevel" stroke-linecap="butt" stroke-dasharray="5.5 5.2" stroke-dashoffset="0"/>
<rect x="1043.8" y="21.8" width="669.6" height="1208.9" fill="none" stroke="#262626" stroke-width="2"/>
<path d="M1311.64,1230.7 v-13 M1311.64,21.8 v13 M1579.48,1230.7 v-13 M1579.48,21.8 v13 M1043.8,1161.4 h13 M1713.4,1161.4 h-13 M1043.8,1035.48 h13 M1713.4,1035.48 h-13 M1043.8,783.64 h13 M1713.4,783.64 h-13 M1043.8,531.8 h13 M1713.4,531.8 h-13 M1043.8,279.96 h13 M1713.4,279.96 h-13 M1043.8,28.12 h13 M1713.4,28.12 h-13" stroke="#262626" stroke-width="2" fill="none"/>
<path d="M1043.8,1035.48 H1713.4" stroke="#0072BD" stroke-width="23.5" stroke-linecap="round" fill="none"/>
<polygon points="1035.6,1027.28 1207.3,1027.28 1200.7,1035.48 1207.3,1043.68 1035.6,1043.68 1042.2,1035.48" fill="#D95319"/>
<polygon points="1192.4,775.44 1365.1,775.44 1358.5,783.64 1365.1,791.84 1192.4,791.84 1199,783.64" fill="#D95319"/>
<polygon points="1350.2,523.6 1523.5,523.6 1516.9,531.8 1523.5,540 1350.2,540 1356.8,531.8" fill="#D95319"/>
<polygon points="1508.7,271.76 1691.2,271.76 1684.6,279.96 1691.2,288.16 1508.7,288.16 1515.3,279.96" fill="#D95319"/>
<polygon points="1669.8,19.92 1721.6,19.92 1715,28.12 1721.6,36.32 1669.8,36.32 1676.4,28.12" fill="#D95319"/>
<path d="M1043.8,1161.4 L1044.4,1098.4 L1190,1098.4 L1193,1098.4 L1198.2,1105 L1198.3,1160 L1198.8,1219 L1199.3,1223.3 L1201.5,1224.6 L1206,1224.7 L1340,1224.7 L1348,1224.6 L1351,1223.4 L1352.1,1220 L1352.4,1210 L1352.8,1190 L1353.2,1160 L1353.8,1130 L1354.3,1109 L1355.3,1102 L1358.5,1098.9 L1363,1098.5 L1370,1098.4 L1494.3,1098.5" fill="none" stroke="#EDB120" stroke-width="6" stroke-linejoin="round" stroke-linecap="butt" stroke-dasharray="21.5 21.5" stroke-dashoffset="0"/>
<path d="M1504.6,1112.6 L1506.6,1113.8 L1507.2,1117 L1507.4,1125.6" fill="none" stroke="#EDB120" stroke-width="6" stroke-linejoin="round" stroke-linecap="butt"/>
<path d="M1508,1147.1 L1508.05,1168.8" fill="none" stroke="#EDB120" stroke-width="6" stroke-linejoin="round" stroke-linecap="butt"/>
<path d="M1508.6,1190.1 L1509.3,1201 L1510.6,1211.8" fill="none" stroke="#EDB120" stroke-width="6" stroke-linejoin="round" stroke-linecap="butt"/>
<path d="M1646.3,1223 L1652.5,1221.6 L1658.6,1217.2" fill="none" stroke="#EDB120" stroke-width="6" stroke-linejoin="round" stroke-linecap="butt"/>
<path d="M1659.5,1195.3 L1660.4,1187 L1662,1175" fill="none" stroke="#EDB120" stroke-width="6" stroke-linejoin="round" stroke-linecap="butt"/>
<path d="M1663.1,1153.6 L1663.2,1132" fill="none" stroke="#EDB120" stroke-width="6" stroke-linejoin="round" stroke-linecap="butt"/>
<path d="M1665.2,1125.1 L1666.4,1114 L1668.8,1104.5" fill="none" stroke="#EDB120" stroke-width="6" stroke-linejoin="round" stroke-linecap="butt"/>
<path d="M1683.1,1098.6 L1704.8,1098.6" fill="none" stroke="#EDB120" stroke-width="6" stroke-linejoin="round" stroke-linecap="butt"/>
<path d="M1517.9,1224.3 L1626.3,1224.3" fill="none" stroke="#EDB120" stroke-width="6" stroke-linejoin="round" stroke-linecap="butt" stroke-dasharray="21.7 21.55" stroke-dashoffset="0"/>
<path d="M1043.8,1161.4 L1044.4,1098.4 L1052,1098.4 L1190,1098.4 L1196.2,1098.4 L1197.8,1089 L1198.7,981 L1200,972.6 L1208,972.6 L1342.7,972.6 L1345.6,972.3 L1350.6,969.8 L1352,962.6 L1352.7,942.7 L1353.4,914.1 L1353.8,885.6 L1354.8,864.2 L1356.3,854.2 L1359.8,848.5 L1365.5,846.6 L1372,846.4 L1490,846.4 L1498,846.2 L1502,845 L1505,841 L1506.5,832 L1507.3,812 L1507.9,788.4 L1509.5,758.6 L1511.2,740.4 L1513.7,730.5 L1518.6,723.9 L1526.1,721.4 L1539.3,720.5 L1638.6,720.5 L1650.2,719.7 L1656,716.4 L1659.3,709.8 L1661.5,697.4 L1662.6,675.9 L1663.4,651 L1664.8,631.2 L1666.7,617.9 L1670.1,606.3 L1675,599.7 L1683.3,596.7 L1696.5,595.6 L1713.4,595.1" fill="none" stroke="#7E2F8E" stroke-width="6" stroke-linejoin="round" stroke-linecap="butt" stroke-dasharray="21.4 5.35 10.9 5.35" stroke-dashoffset="0"/>
<path d="M1043.8,834.5 L1043.8,835.1 L1043.81,835.71 L1043.81,836.32 L1043.81,836.93 L1043.82,837.54 L1043.82,838.15 L1043.83,838.77 L1043.83,839.39 L1043.83,840.01 L1043.84,840.63 L1043.84,841.25 L1043.84,841.88 L1043.85,842.5 L1043.85,843.13 L1043.85,843.76 L1043.86,844.39 L1043.86,845.03 L1043.86,845.66 L1043.86,846.29 L1043.87,846.93 L1043.87,847.57 L1043.87,848.21 L1043.88,848.85 L1043.88,849.49 L1043.88,850.13 L1043.89,850.78 L1043.89,851.42 L1043.89,852.07 L1043.89,852.71 L1043.9,853.36 L1043.9,854.01 L1043.9,854.66 L1043.91,855.3 L1043.91,855.95 L1043.91,856.6 L1043.91,857.25 L1043.92,857.91 L1043.92,858.56 L1043.92,859.21 L1043.92,859.86 L1043.93,860.51 L1043.93,861.16 L1043.93,861.82 L1043.94,862.47 L1043.94,863.12 L1043.94,863.77 L1043.94,864.43 L1043.95,865.08 L1043.95,865.73 L1043.95,866.38 L1043.96,867.03 L1043.96,867.68 L1043.96,868.33 L1043.96,868.98 L1043.97,869.63 L1043.97,870.28 L1043.97,870.93 L1043.97,871.58 L1043.98,872.22 L1043.98,872.87 L1043.98,873.52 L1043.99,874.16 L1043.99,874.8 L1043.99,875.45 L1044,876.09 L1044,876.73 L1044,877.37 L1044,878.01 L1044.01,878.64 L1044.01,879.28 L1044.01,879.91 L1044.02,880.54 L1044.02,881.18 L1044.02,881.81 L1044.03,882.43 L1044.03,883.06 L1044.03,883.69 L1044.04,884.31 L1044.04,884.93 L1044.04,885.55 L1044.05,886.17 L1044.05,886.78 L1044.05,887.4 L1044.06,888.01 L1044.06,888.62 L1044.06,889.23 L1044.07,889.83 L1044.07,890.44 L1044.08,891.04 L1044.08,891.64 L1044.08,892.23 L1044.09,892.83 L1044.09,893.42 L1044.1,894.01 L1044.1,894.59 L1044.1,895.18 L1044.11,895.76 L1044.11,896.34 L1044.12,896.91 L1044.12,897.49 L1044.13,898.06 L1044.13,898.62 L1044.13,899.19 L1044.14,899.75 L1044.14,900.3 L1044.15,900.86 L1044.15,901.41 L1044.16,901.96 L1044.16,902.5 L1044.17,903.04 L1044.17,903.58 L1044.18,904.12 L1044.18,904.65 L1044.19,905.18 L1044.2,905.7 L1044.2,906.22 L1044.21,906.74 L1044.21,907.25 L1044.22,907.76 L1044.22,908.26 L1044.23,908.76 L1044.24,909.26 L1044.24,909.75 L1044.25,910.24 L1044.25,910.73 L1044.26,911.21 L1044.27,911.68 L1044.27,912.16 L1044.28,912.62 L1044.29,913.09 L1044.29,913.55 L1044.3,914 L1044.31,914.76 L1044.32,915.51 L1044.34,916.25 L1044.35,916.98 L1044.36,917.7 L1044.37,918.41 L1044.38,919.12 L1044.39,919.81 L1044.41,920.5 L1044.42,921.18 L1044.43,921.85 L1044.44,922.52 L1044.45,923.17 L1044.47,923.83 L1044.48,924.47 L1044.49,925.11 L1044.5,925.74 L1044.52,926.36 L1044.53,926.98 L1044.54,927.59 L1044.56,928.2 L1044.57,928.8 L1044.58,929.4 L1044.6,929.99 L1044.61,930.58 L1044.63,931.16 L1044.64,931.74 L1044.66,932.31 L1044.67,932.88 L1044.69,933.45 L1044.7,934.01 L1044.72,934.57 L1044.73,935.13 L1044.75,935.68 L1044.77,936.23 L1044.78,936.78 L1044.8,937.33 L1044.82,937.87 L1044.84,938.41 L1044.86,938.95 L1044.88,939.49 L1044.9,940.03 L1044.92,940.56 L1044.94,941.1 L1044.96,941.63 L1044.98,942.17 L1045,942.7 L1045.03,943.39 L1045.06,944.07 L1045.09,944.75 L1045.12,945.42 L1045.15,946.07 L1045.18,946.73 L1045.22,947.37 L1045.25,948.01 L1045.28,948.64 L1045.32,949.27 L1045.35,949.89 L1045.39,950.51 L1045.43,951.12 L1045.46,951.73 L1045.5,952.33 L1045.54,952.93 L1045.57,953.53 L1045.61,954.12 L1045.65,954.72 L1045.69,955.31 L1045.73,955.89 L1045.76,956.48 L1045.8,957.07 L1045.84,957.65 L1045.88,958.24 L1045.92,958.83 L1045.96,959.41 L1046,960 L1046.04,960.65 L1046.09,961.29 L1046.13,961.93 L1046.18,962.57 L1046.22,963.2 L1046.27,963.83 L1046.31,964.46 L1046.36,965.08 L1046.4,965.7 L1046.45,966.32 L1046.5,966.93 L1046.54,967.55 L1046.59,968.16 L1046.64,968.77 L1046.69,969.38 L1046.74,970 L1046.79,970.61 L1046.84,971.22 L1046.89,971.83 L1046.94,972.45 L1046.99,973.06 L1047.05,973.68 L1047.1,974.3 L1047.15,974.92 L1047.21,975.54 L1047.26,976.16 L1047.32,976.77 L1047.37,977.39 L1047.42,978.01 L1047.48,978.63 L1047.53,979.24 L1047.59,979.86 L1047.65,980.48 L1047.7,981.1 L1047.76,981.71 L1047.82,982.33 L1047.88,982.95 L1047.94,983.56 L1048.01,984.18 L1048.07,984.8 L1048.14,985.41 L1048.21,986.03 L1048.28,986.65 L1048.35,987.27 L1048.42,987.88 L1048.5,988.5 L1048.58,989.1 L1048.65,989.69 L1048.73,990.29 L1048.81,990.88 L1048.9,991.48 L1048.98,992.08 L1049.07,992.67 L1049.15,993.27 L1049.24,993.86 L1049.33,994.46 L1049.42,995.06 L1049.51,995.65 L1049.61,996.25 L1049.7,996.85 L1049.8,997.44 L1049.89,998.04 L1049.99,998.63 L1050.09,999.23 L1050.19,999.82 L1050.29,1000.42 L1050.39,1001.01 L1050.49,1001.61 L1050.6,1002.21 L1050.7,1002.8 L1050.8,1003.4 L1050.91,1003.99 L1051.01,1004.59 L1051.12,1005.19 L1051.22,1005.79 L1051.32,1006.38 L1051.43,1006.98 L1051.54,1007.58 L1051.64,1008.18 L1051.75,1008.77 L1051.86,1009.37 L1051.97,1009.97 L1052.09,1010.56 L1052.2,1011.16 L1052.32,1011.76 L1052.44,1012.35 L1052.56,1012.95 L1052.68,1013.54 L1052.81,1014.14 L1052.94,1014.73 L1053.08,1015.32 L1053.21,1015.92 L1053.36,1016.51 L1053.5,1017.1 L1053.65,1017.7 L1053.8,1018.3 L1053.95,1018.9 L1054.1,1019.5 L1054.25,1020.11 L1054.41,1020.72 L1054.57,1021.32 L1054.73,1021.93 L1054.89,1022.54 L1055.06,1023.14 L1055.22,1023.74 L1055.4,1024.35 L1055.57,1024.95 L1055.75,1025.55 L1055.93,1026.14 L1056.12,1026.73 L1056.31,1027.32 L1056.51,1027.9 L1056.71,1028.48 L1056.92,1029.06 L1057.13,1029.63 L1057.35,1030.19 L1057.57,1030.75 L1057.8,1031.3 L1058.05,1031.89 L1058.31,1032.48 L1058.56,1033.07 L1058.83,1033.67 L1059.09,1034.26 L1059.36,1034.85 L1059.64,1035.43 L1059.91,1036.02 L1060.2,1036.59 L1060.49,1037.16 L1060.79,1037.73 L1061.09,1038.28 L1061.41,1038.83 L1061.72,1039.36 L1062.05,1039.88 L1062.39,1040.39 L1062.73,1040.89 L1063.08,1041.36 L1063.45,1041.83 L1063.82,1042.27 L1064.2,1042.7 L1064.63,1043.15 L1065.08,1043.59 L1065.53,1044.01 L1066,1044.41 L1066.48,1044.8 L1066.97,1045.18 L1067.47,1045.54 L1067.98,1045.89 L1068.49,1046.22 L1069.02,1046.54 L1069.54,1046.84 L1070.08,1047.14 L1070.62,1047.42 L1071.16,1047.68 L1071.7,1047.93 L1072.25,1048.17 L1072.8,1048.4 L1073.38,1048.62 L1073.98,1048.83 L1074.57,1049.01 L1075.18,1049.18 L1075.79,1049.34 L1076.41,1049.47 L1077.04,1049.6 L1077.66,1049.71 L1078.3,1049.8 L1078.93,1049.89 L1079.57,1049.96 L1080.22,1050.03 L1080.86,1050.08 L1081.51,1050.13 L1082.15,1050.17 L1082.8,1050.2 L1083.38,1050.22 L1083.96,1050.23 L1084.54,1050.23 L1085.13,1050.22 L1085.71,1050.2 L1086.3,1050.18 L1086.89,1050.14 L1087.49,1050.09 L1088.08,1050.04 L1088.68,1049.98 L1089.28,1049.92 L1089.88,1049.85 L1090.49,1049.77 L1091.1,1049.68 L1091.71,1049.6 L1092.33,1049.5 L1092.95,1049.41 L1093.57,1049.3 L1094.2,1049.2 L1094.77,1049.1 L1095.34,1048.99 L1095.92,1048.88 L1096.5,1048.76 L1097.09,1048.63 L1097.68,1048.49 L1098.27,1048.35 L1098.86,1048.21 L1099.46,1048.06 L1100.06,1047.91 L1100.66,1047.75 L1101.27,1047.59 L1101.87,1047.43 L1102.48,1047.26 L1103.08,1047.09 L1103.69,1046.93 L1104.29,1046.76 L1104.9,1046.59 L1105.5,1046.42 L1106.11,1046.25 L1106.71,1046.09 L1107.31,1045.92 L1107.9,1045.76 L1108.5,1045.6 L1109.09,1045.44 L1109.69,1045.28 L1110.28,1045.12 L1110.87,1044.96 L1111.46,1044.79 L1112.06,1044.63 L1112.65,1044.46 L1113.24,1044.29 L1113.83,1044.12 L1114.42,1043.96 L1115.01,1043.79 L1115.6,1043.62 L1116.19,1043.45 L1116.78,1043.28 L1117.37,1043.11 L1117.97,1042.94 L1118.56,1042.77 L1119.15,1042.6 L1119.74,1042.43 L1120.33,1042.26 L1120.92,1042.1 L1121.51,1041.93 L1122.11,1041.76 L1122.7,1041.6 L1123.29,1041.44 L1123.89,1041.27 L1124.49,1041.11 L1125.08,1040.95 L1125.68,1040.8 L1126.27,1040.64 L1126.87,1040.48 L1127.47,1040.33 L1128.06,1040.17 L1128.66,1040.02 L1129.26,1039.86 L1129.85,1039.7 L1130.45,1039.54 L1131.05,1039.39 L1131.64,1039.23 L1132.24,1039.07 L1132.84,1038.9 L1133.43,1038.74 L1134.03,1038.57 L1134.62,1038.4 L1135.22,1038.23 L1135.81,1038.06 L1136.41,1037.88 L1137,1037.7 L1137.58,1037.52 L1138.16,1037.35 L1138.74,1037.18 L1139.33,1037.01 L1139.92,1036.83 L1140.52,1036.66 L1141.11,1036.49 L1141.71,1036.32 L1142.3,1036.14 L1142.9,1035.97 L1143.49,1035.79 L1144.08,1035.61 L1144.67,1035.42 L1145.26,1035.23 L1145.84,1035.04 L1146.41,1034.84 L1146.99,1034.64 L1147.55,1034.44 L1148.11,1034.22 L1148.66,1034 L1149.21,1033.78 L1149.75,1033.55 L1150.27,1033.31 L1150.79,1033.06 L1151.3,1032.8 L1151.86,1032.5 L1152.41,1032.2 L1152.95,1031.89 L1153.49,1031.57 L1154.01,1031.24 L1154.53,1030.91 L1155.04,1030.57 L1155.54,1030.22 L1156.03,1029.87 L1156.52,1029.51 L1157.01,1029.15 L1157.49,1028.78 L1157.96,1028.4 L1158.44,1028.02 L1158.9,1027.63 L1159.37,1027.24 L1159.83,1026.83 L1160.29,1026.43 L1160.74,1026.02 L1161.2,1025.6 L1161.65,1025.18 L1162.09,1024.76 L1162.53,1024.32 L1162.97,1023.89 L1163.4,1023.44 L1163.83,1022.99 L1164.26,1022.53 L1164.68,1022.07 L1165.1,1021.6 L1165.51,1021.13 L1165.92,1020.65 L1166.33,1020.17 L1166.73,1019.68 L1167.13,1019.18 L1167.52,1018.68 L1167.91,1018.18 L1168.3,1017.67 L1168.68,1017.16 L1169.06,1016.64 L1169.43,1016.12 L1169.8,1015.6 L1170.14,1015.11 L1170.47,1014.62 L1170.79,1014.12 L1171.12,1013.61 L1171.44,1013.1 L1171.75,1012.59 L1172.06,1012.07 L1172.37,1011.55 L1172.68,1011.02 L1172.98,1010.49 L1173.28,1009.95 L1173.57,1009.42 L1173.86,1008.87 L1174.15,1008.33 L1174.44,1007.78 L1174.72,1007.24 L1175,1006.69 L1175.28,1006.13 L1175.55,1005.58 L1175.83,1005.03 L1176.1,1004.47 L1176.37,1003.91 L1176.63,1003.36 L1176.9,1002.8 L1177.16,1002.25 L1177.41,1001.7 L1177.67,1001.14 L1177.92,1000.58 L1178.16,1000.02 L1178.41,999.45 L1178.65,998.89 L1178.89,998.32 L1179.13,997.75 L1179.36,997.17 L1179.59,996.6 L1179.82,996.02 L1180.05,995.45 L1180.27,994.87 L1180.49,994.29 L1180.71,993.71 L1180.93,993.13 L1181.15,992.55 L1181.36,991.97 L1181.57,991.39 L1181.78,990.81 L1181.99,990.23 L1182.19,989.65 L1182.4,989.08 L1182.6,988.5 L1182.8,987.91 L1183.01,987.32 L1183.21,986.73 L1183.41,986.15 L1183.6,985.56 L1183.8,984.97 L1183.99,984.38 L1184.18,983.79 L1184.37,983.2 L1184.55,982.61 L1184.74,982.01 L1184.92,981.42 L1185.1,980.83 L1185.27,980.24 L1185.45,979.65 L1185.62,979.06 L1185.79,978.46 L1185.95,977.87 L1186.12,977.28 L1186.28,976.68 L1186.44,976.09 L1186.59,975.49 L1186.75,974.9 L1186.9,974.3 L1187.05,973.71 L1187.19,973.12 L1187.33,972.53 L1187.46,971.94 L1187.59,971.36 L1187.71,970.77 L1187.84,970.19 L1187.96,969.6 L1188.08,969.01 L1188.19,968.43 L1188.31,967.84 L1188.42,967.25 L1188.53,966.66 L1188.64,966.07 L1188.75,965.47 L1188.86,964.88 L1188.98,964.28 L1189.09,963.68 L1189.2,963.07 L1189.32,962.46 L1189.43,961.85 L1189.55,961.24 L1189.68,960.62 L1189.8,960 L1189.92,959.43 L1190.04,958.85 L1190.16,958.27 L1190.28,957.69 L1190.41,957.1 L1190.54,956.5 L1190.66,955.9 L1190.8,955.3 L1190.93,954.7 L1191.06,954.1 L1191.19,953.49 L1191.32,952.88 L1191.45,952.27 L1191.59,951.66 L1191.72,951.05 L1191.84,950.44 L1191.97,949.83 L1192.1,949.22 L1192.22,948.62 L1192.35,948.01 L1192.47,947.41 L1192.58,946.81 L1192.7,946.21 L1192.81,945.61 L1192.91,945.02 L1193.02,944.43 L1193.12,943.85 L1193.21,943.27 L1193.3,942.7 L1193.4,942.05 L1193.49,941.41 L1193.58,940.77 L1193.66,940.14 L1193.74,939.51 L1193.82,938.88 L1193.89,938.26 L1193.96,937.63 L1194.02,937.01 L1194.09,936.4 L1194.15,935.78 L1194.21,935.17 L1194.27,934.55 L1194.32,933.94 L1194.38,933.33 L1194.43,932.71 L1194.48,932.1 L1194.54,931.49 L1194.59,930.87 L1194.64,930.26 L1194.69,929.64 L1194.75,929.02 L1194.8,928.4 L1194.85,927.78 L1194.91,927.16 L1194.96,926.54 L1195.01,925.91 L1195.05,925.29 L1195.1,924.67 L1195.15,924.05 L1195.19,923.43 L1195.24,922.8 L1195.28,922.18 L1195.32,921.56 L1195.36,920.94 L1195.41,920.32 L1195.45,919.69 L1195.49,919.07 L1195.53,918.45 L1195.57,917.83 L1195.6,917.21 L1195.64,916.58 L1195.68,915.96 L1195.72,915.34 L1195.76,914.72 L1195.8,914.1 L1195.84,913.48 L1195.88,912.86 L1195.92,912.25 L1195.95,911.63 L1195.99,911.01 L1196.03,910.39 L1196.06,909.78 L1196.1,909.16 L1196.14,908.54 L1196.17,907.93 L1196.21,907.31 L1196.24,906.69 L1196.28,906.08 L1196.31,905.46 L1196.34,904.84 L1196.38,904.22 L1196.41,903.61 L1196.44,902.99 L1196.48,902.37 L1196.51,901.75 L1196.54,901.14 L1196.57,900.52 L1196.6,899.9 L1196.63,899.28 L1196.66,898.66 L1196.69,898.04 L1196.72,897.42 L1196.75,896.8 L1196.78,896.17 L1196.8,895.55 L1196.83,894.93 L1196.86,894.31 L1196.89,893.69 L1196.91,893.06 L1196.94,892.44 L1196.96,891.82 L1196.99,891.2 L1197.01,890.58 L1197.04,889.95 L1197.06,889.33 L1197.09,888.71 L1197.11,888.09 L1197.13,887.47 L1197.16,886.84 L1197.18,886.22 L1197.2,885.6 L1197.22,884.98 L1197.24,884.36 L1197.26,883.73 L1197.28,883.11 L1197.3,882.49 L1197.32,881.87 L1197.34,881.25 L1197.35,880.62 L1197.37,880 L1197.39,879.38 L1197.4,878.76 L1197.42,878.14 L1197.44,877.51 L1197.45,876.89 L1197.47,876.27 L1197.48,875.65 L1197.5,875.03 L1197.52,874.41 L1197.53,873.78 L1197.55,873.16 L1197.57,872.54 L1197.58,871.92 L1197.6,871.3 L1197.62,870.68 L1197.64,870.06 L1197.65,869.45 L1197.67,868.83 L1197.69,868.21 L1197.71,867.59 L1197.72,866.98 L1197.74,866.36 L1197.76,865.74 L1197.78,865.13 L1197.8,864.51 L1197.82,863.89 L1197.83,863.27 L1197.85,862.66 L1197.87,862.04 L1197.89,861.42 L1197.9,860.81 L1197.92,860.19 L1197.94,859.57 L1197.95,858.95 L1197.97,858.34 L1197.98,857.72 L1198,857.1 L1198.02,856.48 L1198.03,855.86 L1198.05,855.24 L1198.06,854.62 L1198.08,854 L1198.09,853.38 L1198.11,852.76 L1198.12,852.14 L1198.14,851.52 L1198.15,850.9 L1198.17,850.28 L1198.18,849.66 L1198.2,849.04 L1198.21,848.42 L1198.22,847.79 L1198.23,847.17 L1198.25,846.55 L1198.26,845.93 L1198.27,845.3 L1198.28,844.68 L1198.29,844.05 L1198.29,843.43 L1198.3,842.8 L1198.31,842.19 L1198.31,841.58 L1198.31,840.96 L1198.32,840.35 L1198.32,839.73 L1198.32,839.12 L1198.32,838.5 L1198.32,837.89 L1198.32,837.27 L1198.32,836.65 L1198.32,836.03 L1198.32,835.42 L1198.32,834.8 L1198.32,834.18 L1198.31,833.56 L1198.31,832.94 L1198.31,832.32 L1198.31,831.71 L1198.31,831.09 L1198.3,830.47 L1198.3,829.85 L1198.3,829.23 L1198.3,828.62 L1198.3,828 L1198.32,828.61 L1198.35,829.22 L1198.37,829.84 L1198.4,830.46 L1198.42,831.08 L1198.45,831.71 L1198.47,832.34 L1198.5,832.97 L1198.52,833.6 L1198.55,834.24 L1198.57,834.88 L1198.59,835.52 L1198.62,836.16 L1198.64,836.8 L1198.67,837.44 L1198.69,838.08 L1198.71,838.73 L1198.74,839.37 L1198.76,840.01 L1198.79,840.65 L1198.81,841.29 L1198.83,841.93 L1198.86,842.56 L1198.88,843.2 L1198.91,843.83 L1198.93,844.46 L1198.96,845.08 L1198.98,845.71 L1199.01,846.33 L1199.03,846.95 L1199.05,847.56 L1199.08,848.17 L1199.1,848.77 L1199.13,849.37 L1199.16,849.96 L1199.18,850.55 L1199.21,851.14 L1199.23,851.71 L1199.26,852.28 L1199.28,852.85 L1199.31,853.41 L1199.34,853.96 L1199.36,854.5 L1199.39,855.04 L1199.42,855.57 L1199.44,856.09 L1199.47,856.6 L1199.5,857.1 L1199.54,857.82 L1199.58,858.52 L1199.62,859.2 L1199.66,859.87 L1199.71,860.52 L1199.75,861.16 L1199.79,861.79 L1199.83,862.41 L1199.88,863.02 L1199.92,863.62 L1199.96,864.22 L1200.01,864.81 L1200.05,865.39 L1200.1,865.98 L1200.14,866.56 L1200.18,867.14 L1200.23,867.72 L1200.27,868.3 L1200.32,868.89 L1200.36,869.48 L1200.41,870.08 L1200.45,870.69 L1200.5,871.3 L1200.55,871.92 L1200.59,872.54 L1200.63,873.16 L1200.68,873.78 L1200.72,874.41 L1200.77,875.03 L1200.81,875.65 L1200.85,876.27 L1200.9,876.89 L1200.94,877.52 L1200.98,878.14 L1201.03,878.76 L1201.08,879.38 L1201.12,880 L1201.17,880.63 L1201.22,881.25 L1201.27,881.87 L1201.32,882.49 L1201.37,883.11 L1201.43,883.74 L1201.48,884.36 L1201.54,884.98 L1201.6,885.6 L1201.66,886.2 L1201.72,886.79 L1201.78,887.39 L1201.83,887.99 L1201.89,888.58 L1201.96,889.18 L1202.02,889.78 L1202.08,890.37 L1202.14,890.97 L1202.21,891.57 L1202.27,892.16 L1202.34,892.76 L1202.41,893.36 L1202.48,893.95 L1202.55,894.55 L1202.62,895.15 L1202.7,895.74 L1202.78,896.34 L1202.86,896.93 L1202.94,897.53 L1203.03,898.12 L1203.11,898.71 L1203.21,899.31 L1203.3,899.9 L1203.4,900.5 L1203.49,901.09 L1203.59,901.69 L1203.69,902.3 L1203.79,902.9 L1203.9,903.5 L1204,904.11 L1204.11,904.71 L1204.22,905.32 L1204.33,905.92 L1204.44,906.52 L1204.56,907.12 L1204.68,907.72 L1204.8,908.32 L1204.92,908.92 L1205.05,909.51 L1205.18,910.1 L1205.32,910.68 L1205.45,911.26 L1205.59,911.84 L1205.74,912.41 L1205.89,912.98 L1206.04,913.54 L1206.2,914.1 L1206.38,914.71 L1206.56,915.31 L1206.74,915.91 L1206.92,916.5 L1207.11,917.09 L1207.31,917.67 L1207.5,918.26 L1207.7,918.83 L1207.91,919.41 L1208.11,919.98 L1208.33,920.54 L1208.55,921.11 L1208.77,921.67 L1209,922.22 L1209.23,922.78 L1209.47,923.33 L1209.72,923.87 L1209.97,924.42 L1210.23,924.96 L1210.5,925.5 L1210.78,926.06 L1211.07,926.62 L1211.36,927.17 L1211.65,927.73 L1211.95,928.28 L1212.25,928.83 L1212.56,929.38 L1212.88,929.92 L1213.2,930.46 L1213.53,930.99 L1213.87,931.52 L1214.22,932.04 L1214.57,932.56 L1214.93,933.07 L1215.31,933.57 L1215.69,934.06 L1216.08,934.55 L1216.48,935.03 L1216.9,935.5 L1217.3,935.93 L1217.71,936.37 L1218.13,936.79 L1218.56,937.22 L1218.99,937.64 L1219.44,938.05 L1219.89,938.46 L1220.35,938.86 L1220.82,939.26 L1221.29,939.65 L1221.78,940.03 L1222.27,940.41 L1222.76,940.78 L1223.26,941.14 L1223.77,941.49 L1224.28,941.83 L1224.79,942.17 L1225.31,942.49 L1225.84,942.8 L1226.37,943.11 L1226.9,943.4 L1227.43,943.67 L1227.96,943.94 L1228.51,944.19 L1229.06,944.43 L1229.61,944.66 L1230.18,944.88 L1230.75,945.09 L1231.32,945.29 L1231.9,945.48 L1232.48,945.67 L1233.07,945.85 L1233.66,946.02 L1234.26,946.19 L1234.86,946.36 L1235.46,946.52 L1236.06,946.68 L1236.67,946.83 L1237.27,946.99 L1237.88,947.14 L1238.49,947.29 L1239.09,947.45 L1239.7,947.6 L1240.29,947.75 L1240.88,947.89 L1241.47,948.04 L1242.07,948.18 L1242.67,948.32 L1243.27,948.46 L1243.87,948.59 L1244.48,948.72 L1245.09,948.85 L1245.7,948.98 L1246.32,949.1 L1246.93,949.22 L1247.55,949.33 L1248.16,949.44 L1248.78,949.55 L1249.4,949.65 L1250.01,949.75 L1250.63,949.84 L1251.24,949.93 L1251.86,950.02 L1252.47,950.1 L1253.08,950.17 L1253.69,950.24 L1254.3,950.3 L1254.92,950.36 L1255.54,950.41 L1256.16,950.46 L1256.77,950.51 L1257.39,950.55 L1258.01,950.58 L1258.63,950.61 L1259.25,950.64 L1259.86,950.66 L1260.48,950.68 L1261.1,950.69 L1261.71,950.7 L1262.33,950.7 L1262.95,950.7 L1263.57,950.69 L1264.18,950.68 L1264.8,950.67 L1265.42,950.65 L1266.03,950.63 L1266.65,950.6 L1267.27,950.57 L1267.88,950.54 L1268.5,950.5 L1269.1,950.46 L1269.7,950.42 L1270.3,950.38 L1270.91,950.33 L1271.52,950.28 L1272.13,950.23 L1272.74,950.18 L1273.35,950.12 L1273.96,950.06 L1274.57,950 L1275.18,949.93 L1275.79,949.85 L1276.4,949.77 L1277,949.68 L1277.6,949.59 L1278.2,949.49 L1278.79,949.38 L1279.38,949.27 L1279.97,949.14 L1280.55,949.01 L1281.12,948.87 L1281.69,948.73 L1282.25,948.57 L1282.8,948.4 L1283.39,948.21 L1283.97,948.01 L1284.55,947.81 L1285.12,947.59 L1285.69,947.37 L1286.25,947.14 L1286.81,946.9 L1287.37,946.66 L1287.92,946.4 L1288.47,946.14 L1289.01,945.87 L1289.55,945.59 L1290.08,945.3 L1290.61,945.01 L1291.14,944.7 L1291.66,944.39 L1292.17,944.07 L1292.69,943.74 L1293.19,943.4 L1293.7,943.06 L1294.2,942.7 L1294.68,942.35 L1295.15,941.99 L1295.62,941.61 L1296.08,941.23 L1296.54,940.84 L1297,940.44 L1297.45,940.03 L1297.9,939.61 L1298.34,939.19 L1298.78,938.76 L1299.22,938.32 L1299.65,937.87 L1300.08,937.42 L1300.51,936.97 L1300.93,936.51 L1301.35,936.04 L1301.77,935.57 L1302.18,935.1 L1302.59,934.62 L1303,934.15 L1303.4,933.67 L1303.8,933.18 L1304.2,932.7 L1304.58,932.23 L1304.96,931.76 L1305.33,931.27 L1305.7,930.79 L1306.07,930.3 L1306.43,929.8 L1306.79,929.3 L1307.15,928.8 L1307.5,928.29 L1307.85,927.77 L1308.2,927.26 L1308.55,926.74 L1308.89,926.21 L1309.23,925.69 L1309.57,925.16 L1309.9,924.63 L1310.23,924.1 L1310.56,923.56 L1310.89,923.03 L1311.21,922.49 L1311.53,921.95 L1311.85,921.42 L1312.17,920.88 L1312.49,920.34 L1312.8,919.8 L1313.1,919.27 L1313.4,918.75 L1313.7,918.22 L1313.99,917.68 L1314.29,917.15 L1314.58,916.61 L1314.86,916.07 L1315.15,915.53 L1315.43,914.98 L1315.71,914.44 L1315.99,913.89 L1316.26,913.34 L1316.53,912.79 L1316.8,912.24 L1317.07,911.69 L1317.34,911.14 L1317.6,910.58 L1317.87,910.03 L1318.13,909.48 L1318.38,908.92 L1318.64,908.37 L1318.9,907.81 L1319.15,907.26 L1319.4,906.71 L1319.65,906.15 L1319.9,905.6 L1320.15,905.03 L1320.4,904.47 L1320.65,903.9 L1320.89,903.33 L1321.13,902.76 L1321.37,902.19 L1321.61,901.62 L1321.84,901.05 L1322.07,900.48 L1322.3,899.91 L1322.53,899.34 L1322.76,898.76 L1322.98,898.19 L1323.21,897.62 L1323.43,897.04 L1323.65,896.47 L1323.87,895.9 L1324.09,895.32 L1324.31,894.75 L1324.52,894.17 L1324.74,893.6 L1324.95,893.02 L1325.17,892.45 L1325.39,891.87 L1325.6,891.3 L1325.81,890.73 L1326.03,890.16 L1326.24,889.59 L1326.45,889.02 L1326.66,888.45 L1326.87,887.88 L1327.09,887.31 L1327.3,886.74 L1327.5,886.17 L1327.71,885.59 L1327.92,885.02 L1328.12,884.45 L1328.33,883.88 L1328.53,883.31 L1328.73,882.74 L1328.93,882.16 L1329.12,881.59 L1329.32,881.02 L1329.51,880.44 L1329.7,879.87 L1329.88,879.3 L1330.07,878.72 L1330.25,878.15 L1330.43,877.57 L1330.6,877 L1330.78,876.41 L1330.95,875.82 L1331.11,875.23 L1331.28,874.64 L1331.44,874.05 L1331.59,873.46 L1331.75,872.87 L1331.9,872.28 L1332.05,871.69 L1332.2,871.1 L1332.34,870.5 L1332.49,869.91 L1332.63,869.32 L1332.77,868.73 L1332.92,868.14 L1333.06,867.54 L1333.2,866.95 L1333.34,866.36 L1333.48,865.76 L1333.62,865.17 L1333.76,864.58 L1333.91,863.99 L1334.05,863.39 L1334.2,862.8 L1334.35,862.21 L1334.5,861.61 L1334.65,861.02 L1334.8,860.42 L1334.95,859.83 L1335.1,859.23 L1335.25,858.64 L1335.4,858.04 L1335.55,857.45 L1335.7,856.85 L1335.84,856.25 L1335.99,855.66 L1336.14,855.06 L1336.29,854.47 L1336.44,853.87 L1336.58,853.27 L1336.73,852.68 L1336.87,852.08 L1337.01,851.48 L1337.15,850.89 L1337.29,850.29 L1337.43,849.69 L1337.57,849.1 L1337.7,848.5 L1337.83,847.91 L1337.96,847.31 L1338.1,846.72 L1338.23,846.12 L1338.36,845.53 L1338.48,844.93 L1338.61,844.33 L1338.74,843.74 L1338.86,843.14 L1338.99,842.55 L1339.11,841.95 L1339.24,841.36 L1339.36,840.76 L1339.48,840.16 L1339.6,839.57 L1339.71,838.97 L1339.83,838.37 L1339.94,837.78 L1340.06,837.18 L1340.17,836.59 L1340.28,835.99 L1340.39,835.39 L1340.49,834.8 L1340.6,834.2 L1340.71,833.58 L1340.81,832.97 L1340.91,832.35 L1341.01,831.73 L1341.11,831.11 L1341.2,830.5 L1341.29,829.88 L1341.38,829.26 L1341.47,828.65 L1341.56,828.03 L1341.65,827.41 L1341.74,826.8 L1341.82,826.18 L1341.91,825.56 L1341.99,824.94 L1342.08,824.33 L1342.17,823.71 L1342.25,823.09 L1342.34,822.47 L1342.43,821.85 L1342.52,821.24 L1342.61,820.62 L1342.7,820 L1342.79,819.4 L1342.88,818.8 L1342.97,818.2 L1343.07,817.6 L1343.16,816.99 L1343.25,816.38 L1343.35,815.77 L1343.44,815.16 L1343.53,814.55 L1343.63,813.94 L1343.72,813.33 L1343.82,812.72 L1343.91,812.12 L1344.01,811.51 L1344.1,810.91 L1344.19,810.32 L1344.28,809.72 L1344.37,809.13 L1344.46,808.55 L1344.55,807.96 L1344.64,807.39 L1344.73,806.82 L1344.82,806.26 L1344.9,805.7 L1345,805.07 L1345.09,804.47 L1345.18,803.89 L1345.27,803.31 L1345.36,802.75 L1345.45,802.2 L1345.54,801.66 L1345.63,801.11 L1345.72,800.57 L1345.8,800.01 L1345.89,799.45 L1345.98,798.88 L1346.06,798.29 L1346.15,797.68 L1346.24,797.05 L1346.32,796.4 L1346.41,795.72 L1346.5,795 L1346.56,794.53 L1346.61,794.04 L1346.67,793.55 L1346.73,793.04 L1346.79,792.53 L1346.85,792 L1346.91,791.47 L1346.97,790.92 L1347.03,790.37 L1347.09,789.81 L1347.15,789.24 L1347.21,788.66 L1347.27,788.08 L1347.33,787.49 L1347.39,786.89 L1347.45,786.29 L1347.51,785.68 L1347.57,785.06 L1347.63,784.44 L1347.69,783.82 L1347.75,783.19 L1347.81,782.55 L1347.87,781.91 L1347.93,781.27 L1347.98,780.63 L1348.04,779.98 L1348.1,779.33 L1348.16,778.68 L1348.22,778.03 L1348.28,777.37 L1348.34,776.71 L1348.39,776.06 L1348.45,775.4 L1348.51,774.74 L1348.56,774.08 L1348.62,773.43 L1348.68,772.77 L1348.73,772.12 L1348.78,771.46 L1348.84,770.81 L1348.89,770.16 L1348.94,769.52 L1349,768.88 L1349.05,768.24 L1349.1,767.6 L1349.15,767.02 L1349.19,766.43 L1349.24,765.84 L1349.28,765.25 L1349.33,764.66 L1349.37,764.07 L1349.42,763.48 L1349.46,762.88 L1349.5,762.28 L1349.55,761.68 L1349.59,761.08 L1349.63,760.48 L1349.67,759.88 L1349.72,759.27 L1349.76,758.67 L1349.8,758.06 L1349.84,757.45 L1349.88,756.84 L1349.92,756.23 L1349.96,755.62 L1350,755.01 L1350.04,754.4 L1350.08,753.79 L1350.12,753.18 L1350.16,752.56 L1350.19,751.95 L1350.23,751.33 L1350.27,750.72 L1350.31,750.1 L1350.35,749.49 L1350.39,748.87 L1350.42,748.25 L1350.46,747.64 L1350.5,747.02 L1350.54,746.41 L1350.57,745.79 L1350.61,745.18 L1350.65,744.56 L1350.68,743.94 L1350.72,743.33 L1350.76,742.72 L1350.79,742.1 L1350.83,741.49 L1350.87,740.88 L1350.91,740.26 L1350.94,739.65 L1350.98,739.04 L1351.02,738.43 L1351.05,737.82 L1351.09,737.22 L1351.13,736.61 L1351.16,736 L1351.2,735.4 L1351.24,734.79 L1351.27,734.19 L1351.31,733.58 L1351.35,732.97 L1351.38,732.37 L1351.42,731.76 L1351.46,731.15 L1351.49,730.55 L1351.53,729.94 L1351.56,729.34 L1351.6,728.73 L1351.63,728.13 L1351.67,727.52 L1351.7,726.92 L1351.74,726.31 L1351.77,725.71 L1351.81,725.11 L1351.84,724.5 L1351.88,723.9 L1351.91,723.29 L1351.95,722.69 L1351.98,722.09 L1352.01,721.48 L1352.05,720.88 L1352.08,720.28 L1352.12,719.68 L1352.15,719.07 L1352.18,718.47 L1352.22,717.87 L1352.25,717.26 L1352.29,716.66 L1352.32,716.06 L1352.35,715.46 L1352.39,714.85 L1352.42,714.25 L1352.46,713.65 L1352.49,713.05 L1352.52,712.44 L1352.56,711.84 L1352.59,711.24 L1352.62,710.64 L1352.66,710.03 L1352.69,709.43 L1352.73,708.83 L1352.76,708.22 L1352.79,707.62 L1352.83,707.02 L1352.86,706.41 L1352.9,705.81 L1352.93,705.21 L1352.97,704.6 L1353,704 L1353.03,704.6 L1353.05,705.21 L1353.08,705.82 L1353.1,706.43 L1353.13,707.04 L1353.15,707.66 L1353.18,708.27 L1353.2,708.89 L1353.23,709.51 L1353.25,710.13 L1353.28,710.75 L1353.3,711.37 L1353.32,711.99 L1353.35,712.61 L1353.37,713.24 L1353.39,713.86 L1353.42,714.48 L1353.44,715.11 L1353.46,715.73 L1353.49,716.35 L1353.51,716.97 L1353.53,717.6 L1353.56,718.22 L1353.58,718.84 L1353.61,719.46 L1353.63,720.08 L1353.65,720.7 L1353.68,721.31 L1353.7,721.93 L1353.73,722.54 L1353.75,723.15 L1353.78,723.76 L1353.81,724.37 L1353.83,724.98 L1353.86,725.58 L1353.89,726.18 L1353.91,726.78 L1353.94,727.38 L1353.97,727.97 L1354,728.57 L1354.03,729.16 L1354.06,729.74 L1354.09,730.32 L1354.12,730.9 L1354.16,731.48 L1354.19,732.05 L1354.22,732.62 L1354.26,733.18 L1354.29,733.74 L1354.33,734.3 L1354.36,734.85 L1354.4,735.4 L1354.45,736.07 L1354.49,736.73 L1354.54,737.38 L1354.59,738.03 L1354.64,738.67 L1354.69,739.31 L1354.74,739.94 L1354.79,740.57 L1354.84,741.2 L1354.89,741.82 L1354.94,742.43 L1355,743.04 L1355.05,743.65 L1355.1,744.26 L1355.16,744.86 L1355.21,745.46 L1355.27,746.06 L1355.33,746.66 L1355.38,747.25 L1355.44,747.85 L1355.5,748.44 L1355.56,749.03 L1355.62,749.62 L1355.68,750.21 L1355.74,750.81 L1355.8,751.4 L1355.87,751.99 L1355.93,752.59 L1356,753.18 L1356.06,753.78 L1356.13,754.38 L1356.19,754.98 L1356.26,755.58 L1356.33,756.19 L1356.4,756.8 L1356.47,757.4 L1356.54,758 L1356.61,758.6 L1356.68,759.21 L1356.75,759.82 L1356.82,760.43 L1356.9,761.04 L1356.97,761.66 L1357.04,762.27 L1357.12,762.89 L1357.2,763.5 L1357.27,764.12 L1357.35,764.74 L1357.43,765.35 L1357.51,765.97 L1357.59,766.58 L1357.67,767.2 L1357.75,767.81 L1357.83,768.42 L1357.91,769.03 L1357.99,769.64 L1358.07,770.24 L1358.16,770.84 L1358.24,771.44 L1358.33,772.04 L1358.41,772.63 L1358.5,773.22 L1358.59,773.8 L1358.67,774.38 L1358.76,774.96 L1358.85,775.53 L1358.94,776.09 L1359.03,776.65 L1359.12,777.21 L1359.21,777.76 L1359.3,778.3 L1359.41,778.94 L1359.52,779.58 L1359.63,780.21 L1359.74,780.83 L1359.86,781.45 L1359.97,782.06 L1360.09,782.66 L1360.2,783.26 L1360.32,783.86 L1360.44,784.45 L1360.56,785.04 L1360.68,785.62 L1360.8,786.2 L1360.92,786.78 L1361.04,787.35 L1361.16,787.92 L1361.29,788.49 L1361.41,789.06 L1361.54,789.62 L1361.66,790.19 L1361.79,790.75 L1361.91,791.31 L1362.04,791.88 L1362.17,792.44 L1362.3,793 L1362.44,793.62 L1362.58,794.24 L1362.72,794.86 L1362.86,795.48 L1363,796.1 L1363.13,796.72 L1363.27,797.34 L1363.41,797.95 L1363.55,798.56 L1363.69,799.17 L1363.83,799.77 L1363.98,800.37 L1364.13,800.96 L1364.29,801.55 L1364.44,802.14 L1364.61,802.71 L1364.77,803.29 L1364.94,803.85 L1365.12,804.41 L1365.31,804.96 L1365.5,805.5 L1365.73,806.12 L1365.96,806.72 L1366.2,807.32 L1366.44,807.91 L1366.69,808.5 L1366.95,809.07 L1367.21,809.64 L1367.47,810.2 L1367.74,810.76 L1368.02,811.31 L1368.3,811.85 L1368.59,812.39 L1368.88,812.93 L1369.18,813.45 L1369.49,813.98 L1369.8,814.5 L1370.13,815.03 L1370.46,815.54 L1370.8,816.06 L1371.14,816.56 L1371.49,817.06 L1371.85,817.55 L1372.21,818.04 L1372.58,818.53 L1372.95,819 L1373.33,819.48 L1373.72,819.95 L1374.11,820.42 L1374.5,820.88 L1374.9,821.34 L1375.3,821.8 L1375.71,822.26 L1376.12,822.71 L1376.54,823.16 L1376.97,823.6 L1377.4,824.03 L1377.83,824.46 L1378.27,824.89 L1378.71,825.32 L1379.16,825.74 L1379.62,826.17 L1380.08,826.59 L1380.55,827.01 L1381.03,827.44 L1381.51,827.87 L1382,828.3 L1382.44,828.69 L1382.88,829.07 L1383.33,829.46 L1383.78,829.86 L1384.24,830.25 L1384.7,830.65 L1385.16,831.04 L1385.63,831.44 L1386.11,831.83 L1386.59,832.22 L1387.07,832.61 L1387.57,833 L1388.07,833.38 L1388.57,833.77 L1389.08,834.14 L1389.6,834.51 L1390.13,834.88 L1390.66,835.24 L1391.2,835.6 L1391.68,835.91 L1392.17,836.22 L1392.67,836.53 L1393.17,836.84 L1393.68,837.15 L1394.2,837.45 L1394.72,837.76 L1395.25,838.06 L1395.78,838.36 L1396.31,838.66 L1396.85,838.95 L1397.4,839.24 L1397.94,839.52 L1398.49,839.8 L1399.05,840.08 L1399.6,840.35 L1400.16,840.62 L1400.72,840.88 L1401.28,841.13 L1401.85,841.38 L1402.41,841.62 L1402.97,841.86 L1403.54,842.08 L1404.1,842.3 L1404.67,842.51 L1405.24,842.73 L1405.82,842.94 L1406.41,843.15 L1407,843.35 L1407.6,843.56 L1408.19,843.76 L1408.79,843.95 L1409.4,844.14 L1410,844.32 L1410.61,844.49 L1411.21,844.66 L1411.82,844.82 L1412.42,844.97 L1413.02,845.12 L1413.63,845.25 L1414.23,845.37 L1414.82,845.48 L1415.41,845.59 L1416,845.67 L1416.58,845.75 L1417.16,845.81 L1417.73,845.86 L1418.3,845.9 L1418.93,845.93 L1419.56,845.94 L1420.18,845.94 L1420.8,845.93 L1421.42,845.91 L1422.04,845.88 L1422.65,845.83 L1423.27,845.77 L1423.87,845.7 L1424.48,845.61 L1425.08,845.51 L1425.67,845.4 L1426.26,845.27 L1426.85,845.13 L1427.43,844.97 L1428.01,844.8 L1428.58,844.62 L1429.14,844.42 L1429.7,844.2 L1430.24,843.97 L1430.78,843.72 L1431.32,843.46 L1431.85,843.18 L1432.37,842.88 L1432.89,842.57 L1433.41,842.25 L1433.92,841.91 L1434.43,841.56 L1434.93,841.2 L1435.43,840.82 L1435.93,840.44 L1436.42,840.05 L1436.9,839.65 L1437.38,839.24 L1437.85,838.82 L1438.32,838.4 L1438.79,837.97 L1439.25,837.54 L1439.7,837.1 L1440.12,836.68 L1440.53,836.25 L1440.94,835.81 L1441.35,835.35 L1441.74,834.89 L1442.14,834.41 L1442.53,833.93 L1442.91,833.44 L1443.29,832.94 L1443.67,832.43 L1444.04,831.92 L1444.41,831.41 L1444.77,830.89 L1445.13,830.37 L1445.49,829.84 L1445.85,829.32 L1446.21,828.8 L1446.56,828.27 L1446.91,827.75 L1447.26,827.23 L1447.61,826.72 L1447.95,826.21 L1448.3,825.7 L1448.65,825.19 L1448.99,824.68 L1449.33,824.16 L1449.67,823.65 L1450,823.13 L1450.32,822.62 L1450.65,822.1 L1450.97,821.58 L1451.29,821.06 L1451.61,820.54 L1451.93,820.02 L1452.24,819.5 L1452.56,818.98 L1452.87,818.46 L1453.18,817.94 L1453.5,817.42 L1453.81,816.9 L1454.13,816.38 L1454.44,815.86 L1454.76,815.34 L1455.08,814.82 L1455.4,814.3 L1455.72,813.78 L1456.05,813.27 L1456.39,812.75 L1456.72,812.23 L1457.06,811.72 L1457.39,811.2 L1457.73,810.69 L1458.07,810.17 L1458.41,809.65 L1458.75,809.14 L1459.08,808.62 L1459.42,808.11 L1459.75,807.59 L1460.07,807.07 L1460.4,806.55 L1460.72,806.04 L1461.03,805.52 L1461.34,805 L1461.64,804.47 L1461.93,803.95 L1462.22,803.43 L1462.5,802.9 L1462.78,802.35 L1463.05,801.82 L1463.31,801.28 L1463.55,800.76 L1463.79,800.24 L1464.02,799.72 L1464.25,799.2 L1464.47,798.67 L1464.69,798.15 L1464.91,797.62 L1465.13,797.09 L1465.34,796.54 L1465.57,795.99 L1465.79,795.42 L1466.02,794.85 L1466.26,794.25 L1466.5,793.64 L1466.76,793.02 L1467.02,792.37 L1467.3,791.7 L1467.49,791.25 L1467.68,790.79 L1467.88,790.33 L1468.08,789.85 L1468.28,789.37 L1468.49,788.88 L1468.7,788.38 L1468.91,787.87 L1469.13,787.36 L1469.35,786.84 L1469.57,786.31 L1469.79,785.78 L1470.02,785.24 L1470.25,784.7 L1470.48,784.14 L1470.72,783.59 L1470.95,783.03 L1471.19,782.46 L1471.43,781.89 L1471.67,781.32 L1471.91,780.74 L1472.16,780.15 L1472.4,779.57 L1472.64,778.98 L1472.89,778.39 L1473.13,777.79 L1473.38,777.2 L1473.63,776.6 L1473.87,776 L1474.12,775.4 L1474.36,774.79 L1474.61,774.19 L1474.85,773.59 L1475.09,772.98 L1475.33,772.37 L1475.58,771.77 L1475.81,771.17 L1476.05,770.56 L1476.29,769.96 L1476.52,769.36 L1476.76,768.76 L1476.99,768.16 L1477.21,767.56 L1477.44,766.97 L1477.66,766.37 L1477.88,765.79 L1478.1,765.2 L1478.3,764.65 L1478.51,764.09 L1478.71,763.53 L1478.92,762.97 L1479.12,762.41 L1479.32,761.85 L1479.53,761.28 L1479.73,760.72 L1479.94,760.15 L1480.14,759.58 L1480.34,759.01 L1480.54,758.44 L1480.74,757.86 L1480.95,757.29 L1481.15,756.71 L1481.35,756.14 L1481.55,755.56 L1481.75,754.98 L1481.95,754.4 L1482.15,753.82 L1482.34,753.24 L1482.54,752.66 L1482.74,752.08 L1482.93,751.5 L1483.13,750.92 L1483.32,750.34 L1483.52,749.76 L1483.71,749.17 L1483.9,748.59 L1484.09,748.01 L1484.28,747.43 L1484.47,746.85 L1484.66,746.27 L1484.85,745.69 L1485.03,745.11 L1485.22,744.53 L1485.4,743.95 L1485.58,743.37 L1485.76,742.79 L1485.94,742.22 L1486.12,741.64 L1486.3,741.07 L1486.48,740.5 L1486.65,739.92 L1486.83,739.35 L1487,738.78 L1487.17,738.22 L1487.34,737.65 L1487.51,737.08 L1487.67,736.52 L1487.84,735.96 L1488,735.4 L1488.17,734.8 L1488.35,734.2 L1488.52,733.59 L1488.69,732.99 L1488.85,732.39 L1489.02,731.79 L1489.19,731.18 L1489.35,730.58 L1489.51,729.98 L1489.67,729.38 L1489.83,728.77 L1489.99,728.17 L1490.15,727.57 L1490.3,726.97 L1490.46,726.37 L1490.61,725.77 L1490.76,725.17 L1490.91,724.57 L1491.06,723.98 L1491.21,723.38 L1491.36,722.78 L1491.5,722.19 L1491.65,721.6 L1491.79,721 L1491.93,720.41 L1492.07,719.82 L1492.22,719.24 L1492.36,718.65 L1492.49,718.07 L1492.63,717.48 L1492.77,716.9 L1492.9,716.32 L1493.04,715.75 L1493.17,715.17 L1493.31,714.6 L1493.44,714.03 L1493.57,713.46 L1493.7,712.89 L1493.83,712.33 L1493.96,711.77 L1494.09,711.21 L1494.22,710.65 L1494.35,710.1 L1494.47,709.55 L1494.6,709 L1494.75,708.36 L1494.89,707.72 L1495.04,707.09 L1495.18,706.47 L1495.32,705.85 L1495.46,705.23 L1495.6,704.62 L1495.74,704.01 L1495.87,703.4 L1496.01,702.8 L1496.14,702.2 L1496.27,701.6 L1496.4,701.01 L1496.53,700.41 L1496.66,699.82 L1496.79,699.23 L1496.91,698.64 L1497.04,698.05 L1497.16,697.46 L1497.28,696.88 L1497.4,696.29 L1497.53,695.7 L1497.64,695.11 L1497.76,694.52 L1497.88,693.92 L1498,693.33 L1498.12,692.73 L1498.23,692.14 L1498.35,691.54 L1498.46,690.93 L1498.57,690.32 L1498.69,689.71 L1498.8,689.1 L1498.91,688.51 L1499.01,687.93 L1499.11,687.34 L1499.22,686.75 L1499.32,686.16 L1499.42,685.56 L1499.52,684.97 L1499.62,684.37 L1499.72,683.77 L1499.81,683.17 L1499.91,682.57 L1500,681.97 L1500.1,681.37 L1500.19,680.77 L1500.29,680.17 L1500.38,679.57 L1500.47,678.96 L1500.56,678.36 L1500.65,677.76 L1500.74,677.15 L1500.83,676.55 L1500.92,675.95 L1501,675.34 L1501.09,674.74 L1501.18,674.14 L1501.26,673.54 L1501.35,672.94 L1501.43,672.34 L1501.52,671.74 L1501.6,671.15 L1501.69,670.55 L1501.77,669.96 L1501.85,669.37 L1501.94,668.78 L1502.02,668.19 L1502.1,667.6 L1502.19,666.99 L1502.27,666.37 L1502.35,665.75 L1502.44,665.14 L1502.52,664.52 L1502.6,663.9 L1502.69,663.28 L1502.77,662.66 L1502.85,662.04 L1502.93,661.42 L1503.01,660.81 L1503.09,660.19 L1503.16,659.57 L1503.24,658.96 L1503.32,658.34 L1503.4,657.73 L1503.47,657.12 L1503.55,656.51 L1503.62,655.9 L1503.7,655.3 L1503.77,654.7 L1503.84,654.09 L1503.91,653.5 L1503.99,652.9 L1504.06,652.31 L1504.13,651.72 L1504.2,651.13 L1504.27,650.55 L1504.33,649.97 L1504.4,649.4 L1504.47,648.83 L1504.53,648.26 L1504.6,647.7 L1504.68,647.04 L1504.75,646.38 L1504.82,645.73 L1504.89,645.08 L1504.96,644.44 L1505.02,643.8 L1505.09,643.17 L1505.15,642.54 L1505.22,641.92 L1505.28,641.3 L1505.34,640.68 L1505.4,640.06 L1505.46,639.45 L1505.52,638.84 L1505.58,638.23 L1505.65,637.62 L1505.71,637.02 L1505.78,636.41 L1505.84,635.81 L1505.91,635.21 L1505.98,634.61 L1506.05,634 L1506.12,633.4 L1506.2,632.8 L1506.28,632.18 L1506.36,631.56 L1506.45,630.95 L1506.53,630.33 L1506.62,629.72 L1506.71,629.12 L1506.8,628.51 L1506.89,627.91 L1506.98,627.3 L1507.08,626.7 L1507.17,626.1 L1507.26,625.5 L1507.36,624.9 L1507.45,624.3 L1507.55,623.7 L1507.64,623.11 L1507.74,622.51 L1507.83,621.91 L1507.92,621.31 L1508.02,620.71 L1508.11,620.1 L1508.2,619.5 L1508.28,620.1 L1508.37,620.69 L1508.45,621.28 L1508.54,621.86 L1508.62,622.45 L1508.71,623.03 L1508.79,623.61 L1508.87,624.19 L1508.96,624.76 L1509.04,625.34 L1509.13,625.92 L1509.21,626.5 L1509.3,627.09 L1509.38,627.67 L1509.47,628.26 L1509.55,628.86 L1509.63,629.46 L1509.72,630.06 L1509.8,630.67 L1509.88,631.29 L1509.97,631.91 L1510.05,632.55 L1510.13,633.19 L1510.22,633.84 L1510.3,634.5 L1510.37,635.05 L1510.43,635.6 L1510.5,636.16 L1510.56,636.73 L1510.62,637.31 L1510.68,637.89 L1510.74,638.48 L1510.8,639.07 L1510.86,639.67 L1510.92,640.27 L1510.98,640.88 L1511.03,641.49 L1511.09,642.1 L1511.15,642.72 L1511.21,643.34 L1511.27,643.96 L1511.32,644.59 L1511.38,645.22 L1511.44,645.85 L1511.5,646.48 L1511.56,647.11 L1511.62,647.74 L1511.68,648.38 L1511.75,649.01 L1511.81,649.64 L1511.88,650.28 L1511.94,650.91 L1512.01,651.54 L1512.08,652.17 L1512.15,652.79 L1512.23,653.42 L1512.3,654.04 L1512.38,654.66 L1512.46,655.28 L1512.54,655.89 L1512.62,656.5 L1512.71,657.1 L1512.8,657.7 L1512.89,658.31 L1512.99,658.92 L1513.08,659.53 L1513.18,660.14 L1513.28,660.75 L1513.37,661.36 L1513.47,661.97 L1513.58,662.58 L1513.68,663.19 L1513.78,663.8 L1513.89,664.41 L1513.99,665.02 L1514.1,665.62 L1514.21,666.23 L1514.32,666.83 L1514.43,667.44 L1514.55,668.04 L1514.66,668.64 L1514.78,669.24 L1514.89,669.84 L1515.01,670.44 L1515.13,671.03 L1515.26,671.63 L1515.38,672.22 L1515.51,672.81 L1515.63,673.41 L1515.76,673.99 L1515.89,674.58 L1516.03,675.17 L1516.16,675.75 L1516.3,676.33 L1516.43,676.91 L1516.57,677.48 L1516.71,678.06 L1516.86,678.63 L1517,679.2 L1517.16,679.82 L1517.32,680.43 L1517.48,681.04 L1517.64,681.65 L1517.81,682.26 L1517.98,682.87 L1518.14,683.48 L1518.31,684.08 L1518.49,684.69 L1518.66,685.29 L1518.83,685.89 L1519.01,686.48 L1519.19,687.08 L1519.37,687.67 L1519.56,688.26 L1519.74,688.85 L1519.93,689.44 L1520.12,690.02 L1520.31,690.61 L1520.51,691.19 L1520.7,691.76 L1520.9,692.34 L1521.1,692.91 L1521.31,693.48 L1521.51,694.05 L1521.72,694.62 L1521.93,695.18 L1522.14,695.74 L1522.36,696.29 L1522.58,696.85 L1522.8,697.4 L1523.04,697.99 L1523.28,698.57 L1523.53,699.16 L1523.77,699.74 L1524.02,700.32 L1524.27,700.9 L1524.52,701.47 L1524.78,702.04 L1525.04,702.61 L1525.3,703.18 L1525.56,703.74 L1525.83,704.31 L1526.1,704.86 L1526.37,705.42 L1526.65,705.97 L1526.92,706.52 L1527.2,707.06 L1527.49,707.6 L1527.78,708.14 L1528.07,708.68 L1528.36,709.21 L1528.66,709.73 L1528.96,710.25 L1529.26,710.77 L1529.57,711.29 L1529.88,711.8 L1530.2,712.3 L1530.54,712.83 L1530.88,713.36 L1531.22,713.88 L1531.57,714.4 L1531.92,714.91 L1532.27,715.42 L1532.63,715.93 L1532.99,716.43 L1533.35,716.93 L1533.72,717.43 L1534.09,717.92 L1534.46,718.4 L1534.84,718.89 L1535.23,719.36 L1535.61,719.84 L1536,720.31 L1536.4,720.77 L1536.8,721.23 L1537.21,721.69 L1537.61,722.14 L1538.03,722.59 L1538.45,723.03 L1538.87,723.47 L1539.3,723.9 L1539.73,724.33 L1540.18,724.76 L1540.62,725.2 L1541.07,725.63 L1541.53,726.06 L1541.99,726.48 L1542.46,726.91 L1542.93,727.33 L1543.41,727.75 L1543.89,728.16 L1544.38,728.56 L1544.86,728.96 L1545.35,729.36 L1545.85,729.74 L1546.35,730.12 L1546.85,730.48 L1547.35,730.84 L1547.85,731.19 L1548.36,731.52 L1548.86,731.84 L1549.37,732.15 L1549.88,732.45 L1550.39,732.73 L1550.9,733 L1551.46,733.28 L1552.02,733.55 L1552.59,733.81 L1553.17,734.06 L1553.75,734.3 L1554.33,734.53 L1554.92,734.75 L1555.51,734.96 L1556.1,735.15 L1556.69,735.33 L1557.28,735.5 L1557.87,735.66 L1558.46,735.79 L1559.05,735.92 L1559.64,736.03 L1560.22,736.12 L1560.8,736.19 L1561.37,736.24 L1561.94,736.28 L1562.5,736.3 L1563.1,736.3 L1563.7,736.28 L1564.3,736.24 L1564.9,736.17 L1565.5,736.09 L1566.09,735.99 L1566.68,735.88 L1567.27,735.74 L1567.85,735.59 L1568.43,735.42 L1569.01,735.24 L1569.59,735.03 L1570.16,734.82 L1570.72,734.58 L1571.29,734.34 L1571.85,734.08 L1572.4,733.8 L1572.9,733.53 L1573.4,733.25 L1573.89,732.95 L1574.38,732.63 L1574.87,732.29 L1575.35,731.94 L1575.83,731.58 L1576.31,731.2 L1576.79,730.81 L1577.26,730.41 L1577.73,730 L1578.2,729.58 L1578.66,729.15 L1579.12,728.72 L1579.58,728.27 L1580.04,727.82 L1580.5,727.36 L1580.95,726.9 L1581.4,726.44 L1581.85,725.97 L1582.3,725.5 L1582.69,725.08 L1583.08,724.66 L1583.47,724.22 L1583.86,723.78 L1584.24,723.33 L1584.62,722.88 L1585,722.42 L1585.38,721.95 L1585.76,721.48 L1586.13,721 L1586.51,720.51 L1586.88,720.02 L1587.25,719.53 L1587.61,719.03 L1587.98,718.53 L1588.35,718.03 L1588.71,717.52 L1589.07,717 L1589.44,716.49 L1589.8,715.97 L1590.16,715.45 L1590.52,714.93 L1590.87,714.41 L1591.23,713.88 L1591.59,713.35 L1591.94,712.83 L1592.3,712.3 L1592.62,711.82 L1592.94,711.33 L1593.26,710.84 L1593.58,710.34 L1593.9,709.85 L1594.22,709.34 L1594.53,708.84 L1594.84,708.33 L1595.16,707.82 L1595.47,707.31 L1595.78,706.79 L1596.09,706.27 L1596.4,705.75 L1596.71,705.23 L1597.01,704.71 L1597.32,704.18 L1597.63,703.66 L1597.93,703.13 L1598.24,702.6 L1598.54,702.07 L1598.85,701.54 L1599.15,701.01 L1599.45,700.47 L1599.76,699.94 L1600.06,699.41 L1600.37,698.88 L1600.67,698.35 L1600.98,697.82 L1601.28,697.28 L1601.59,696.76 L1601.89,696.23 L1602.2,695.7 L1602.5,695.18 L1602.8,694.66 L1603.11,694.14 L1603.41,693.61 L1603.71,693.09 L1604.01,692.57 L1604.31,692.04 L1604.61,691.52 L1604.91,690.99 L1605.21,690.46 L1605.51,689.93 L1605.81,689.41 L1606.11,688.88 L1606.41,688.35 L1606.71,687.82 L1607,687.29 L1607.3,686.76 L1607.6,686.23 L1607.9,685.7 L1608.2,685.17 L1608.5,684.64 L1608.8,684.11 L1609.1,683.58 L1609.4,683.05 L1609.7,682.52 L1610,681.99 L1610.3,681.47 L1610.6,680.94 L1610.9,680.41 L1611.2,679.88 L1611.5,679.35 L1611.8,678.83 L1612.1,678.3 L1612.4,677.77 L1612.7,677.25 L1613.01,676.73 L1613.31,676.2 L1613.61,675.68 L1613.92,675.16 L1614.22,674.63 L1614.52,674.11 L1614.83,673.59 L1615.13,673.07 L1615.44,672.55 L1615.74,672.03 L1616.04,671.51 L1616.35,670.98 L1616.65,670.46 L1616.96,669.94 L1617.26,669.42 L1617.57,668.9 L1617.87,668.38 L1618.18,667.85 L1618.48,667.33 L1618.78,666.81 L1619.09,666.28 L1619.39,665.76 L1619.69,665.23 L1619.99,664.71 L1620.3,664.18 L1620.6,663.65 L1620.9,663.12 L1621.2,662.59 L1621.5,662.06 L1621.8,661.53 L1622.1,661 L1622.4,660.47 L1622.69,659.95 L1622.99,659.42 L1623.29,658.89 L1623.58,658.36 L1623.88,657.83 L1624.18,657.3 L1624.48,656.77 L1624.78,656.23 L1625.08,655.7 L1625.38,655.17 L1625.67,654.63 L1625.97,654.1 L1626.27,653.56 L1626.57,653.03 L1626.86,652.49 L1627.16,651.96 L1627.45,651.42 L1627.75,650.88 L1628.04,650.35 L1628.33,649.81 L1628.63,649.27 L1628.92,648.73 L1629.2,648.19 L1629.49,647.66 L1629.78,647.12 L1630.06,646.58 L1630.34,646.04 L1630.63,645.5 L1630.9,644.96 L1631.18,644.42 L1631.46,643.88 L1631.73,643.34 L1632,642.8 L1632.27,642.25 L1632.54,641.71 L1632.81,641.16 L1633.08,640.61 L1633.35,640.06 L1633.62,639.51 L1633.88,638.97 L1634.15,638.42 L1634.41,637.87 L1634.67,637.32 L1634.93,636.77 L1635.19,636.22 L1635.45,635.67 L1635.7,635.12 L1635.96,634.57 L1636.21,634.02 L1636.47,633.47 L1636.72,632.91 L1636.97,632.36 L1637.21,631.81 L1637.46,631.26 L1637.71,630.7 L1637.95,630.15 L1638.19,629.6 L1638.43,629.04 L1638.67,628.49 L1638.91,627.94 L1639.14,627.38 L1639.38,626.82 L1639.61,626.27 L1639.84,625.71 L1640.07,625.16 L1640.3,624.6 L1640.53,624.03 L1640.76,623.46 L1640.99,622.9 L1641.22,622.32 L1641.44,621.75 L1641.67,621.18 L1641.89,620.61 L1642.11,620.03 L1642.34,619.46 L1642.56,618.88 L1642.77,618.31 L1642.99,617.73 L1643.21,617.16 L1643.42,616.58 L1643.63,616.01 L1643.84,615.43 L1644.05,614.85 L1644.26,614.28 L1644.46,613.7 L1644.66,613.13 L1644.86,612.55 L1645.06,611.98 L1645.25,611.41 L1645.45,610.84 L1645.64,610.26 L1645.83,609.69 L1646.01,609.13 L1646.2,608.56 L1646.38,607.99 L1646.55,607.43 L1646.73,606.86 L1646.9,606.3 L1647.08,605.7 L1647.26,605.1 L1647.43,604.51 L1647.6,603.91 L1647.76,603.32 L1647.93,602.73 L1648.08,602.14 L1648.24,601.55 L1648.39,600.96 L1648.54,600.37 L1648.69,599.78 L1648.84,599.19 L1648.98,598.61 L1649.12,598.02 L1649.26,597.44 L1649.4,596.85 L1649.54,596.26 L1649.68,595.68 L1649.81,595.09 L1649.94,594.51 L1650.08,593.92 L1650.21,593.33 L1650.34,592.75 L1650.47,592.16 L1650.6,591.57 L1650.74,590.98 L1650.87,590.39 L1651,589.8 L1651.13,589.21 L1651.26,588.62 L1651.39,588.02 L1651.52,587.43 L1651.65,586.84 L1651.77,586.24 L1651.9,585.64 L1652.02,585.05 L1652.14,584.45 L1652.27,583.85 L1652.39,583.26 L1652.51,582.66 L1652.62,582.06 L1652.74,581.47 L1652.86,580.87 L1652.98,580.27 L1653.09,579.68 L1653.21,579.08 L1653.32,578.49 L1653.43,577.9 L1653.54,577.31 L1653.65,576.71 L1653.76,576.12 L1653.87,575.54 L1653.98,574.95 L1654.09,574.37 L1654.19,573.78 L1654.3,573.2 L1654.41,572.58 L1654.52,571.96 L1654.63,571.34 L1654.73,570.72 L1654.83,570.1 L1654.93,569.48 L1655.03,568.86 L1655.13,568.25 L1655.23,567.63 L1655.33,567.02 L1655.42,566.4 L1655.52,565.79 L1655.61,565.18 L1655.71,564.57 L1655.8,563.96 L1655.9,563.35 L1655.99,562.75 L1656.09,562.15 L1656.18,561.55 L1656.28,560.95 L1656.38,560.36 L1656.48,559.76 L1656.59,559.17 L1656.69,558.58 L1656.8,558 L1656.92,557.39 L1657.03,556.77 L1657.16,556.16 L1657.28,555.55 L1657.4,554.94 L1657.53,554.33 L1657.66,553.73 L1657.78,553.12 L1657.91,552.52 L1658.04,551.92 L1658.17,551.33 L1658.3,550.74 L1658.43,550.15 L1658.55,549.56 L1658.68,548.98 L1658.8,548.4 L1658.93,547.82 L1659.05,547.25 L1659.16,546.68 L1659.28,546.11 L1659.39,545.56 L1659.5,545 L1659.63,544.34 L1659.75,543.68 L1659.88,543.03 L1660,542.39 L1660.11,541.75 L1660.23,541.12 L1660.35,540.49 L1660.46,539.87 L1660.57,539.25 L1660.68,538.64 L1660.78,538.02 L1660.89,537.41 L1660.99,536.81 L1661.1,536.2 L1661.2,535.6 L1661.3,535 L1661.4,534.37 L1661.5,533.75 L1661.6,533.13 L1661.7,532.52 L1661.79,531.91 L1661.88,531.31 L1661.97,530.71 L1662.06,530.11 L1662.15,529.51 L1662.24,528.91 L1662.33,528.31 L1662.42,527.71 L1662.51,527.11 L1662.6,526.5 L1662.71,527.12 L1662.82,527.74 L1662.93,528.36 L1663.04,528.98 L1663.15,529.6 L1663.26,530.22 L1663.37,530.84 L1663.49,531.46 L1663.6,532.08 L1663.71,532.7 L1663.82,533.31 L1663.93,533.93 L1664.04,534.55 L1664.16,535.16 L1664.27,535.78 L1664.38,536.39 L1664.5,537 L1664.62,537.63 L1664.74,538.26 L1664.86,538.88 L1664.98,539.51 L1665.1,540.13 L1665.22,540.75 L1665.35,541.37 L1665.47,541.99 L1665.59,542.61 L1665.72,543.23 L1665.84,543.85 L1665.97,544.47 L1666.1,545.1 L1666.23,545.73 L1666.36,546.36 L1666.5,547 L1666.63,547.6 L1666.76,548.19 L1666.9,548.78 L1667.03,549.38 L1667.17,549.97 L1667.31,550.56 L1667.45,551.16 L1667.59,551.75 L1667.74,552.35 L1667.88,552.96 L1668.02,553.57 L1668.16,554.18 L1668.31,554.8 L1668.45,555.42 L1668.59,556.05 L1668.73,556.69 L1668.86,557.34 L1669,558 L1669.11,558.56 L1669.22,559.13 L1669.33,559.71 L1669.43,560.29 L1669.53,560.88 L1669.63,561.48 L1669.73,562.08 L1669.83,562.69 L1669.93,563.3 L1670.03,563.91 L1670.12,564.53 L1670.22,565.15 L1670.32,565.77 L1670.42,566.4 L1670.52,567.02 L1670.63,567.65 L1670.73,568.27 L1670.84,568.9 L1670.95,569.52 L1671.07,570.14 L1671.19,570.76 L1671.31,571.37 L1671.43,571.99 L1671.56,572.6 L1671.7,573.2 L1671.84,573.8 L1671.98,574.41 L1672.12,575.01 L1672.27,575.61 L1672.42,576.22 L1672.57,576.82 L1672.72,577.43 L1672.87,578.03 L1673.03,578.64 L1673.19,579.24 L1673.35,579.84 L1673.52,580.44 L1673.68,581.04 L1673.85,581.64 L1674.02,582.24 L1674.2,582.84 L1674.38,583.43 L1674.56,584.02 L1674.74,584.61 L1674.93,585.2 L1675.11,585.79 L1675.31,586.37 L1675.5,586.95 L1675.7,587.53 L1675.9,588.1 L1676.11,588.68 L1676.31,589.25 L1676.52,589.83 L1676.74,590.41 L1676.95,590.99 L1677.17,591.56 L1677.39,592.13 L1677.62,592.71 L1677.84,593.28 L1678.07,593.85 L1678.3,594.41 L1678.54,594.98 L1678.78,595.54 L1679.02,596.09 L1679.26,596.65 L1679.51,597.19 L1679.76,597.74 L1680.01,598.28 L1680.27,598.81 L1680.53,599.34 L1680.79,599.87 L1681.06,600.38 L1681.33,600.9 L1681.6,601.4 L1681.92,601.97 L1682.23,602.54 L1682.55,603.11 L1682.88,603.67 L1683.21,604.23 L1683.54,604.78 L1683.87,605.33 L1684.21,605.87 L1684.55,606.4 L1684.9,606.93 L1685.26,607.45 L1685.62,607.96 L1685.98,608.46 L1686.35,608.96 L1686.73,609.45 L1687.11,609.92 L1687.5,610.39 L1687.9,610.85 L1688.3,611.3 L1688.73,611.76 L1689.18,612.22 L1689.63,612.68 L1690.09,613.13 L1690.56,613.57 L1691.03,614.01 L1691.52,614.43 L1692,614.85 L1692.49,615.25 L1692.99,615.64 L1693.49,616.02 L1693.99,616.38 L1694.49,616.72 L1694.99,617.04 L1695.5,617.35 L1696,617.64 L1696.5,617.9 L1697.11,618.2 L1697.74,618.47 L1698.37,618.72 L1699,618.95 L1699.64,619.15 L1700.28,619.33 L1700.92,619.49 L1701.55,619.62 L1702.18,619.72 L1702.8,619.81 L1703.41,619.87 L1704,619.9 L1704.68,619.9 L1705.36,619.85 L1706.03,619.76 L1706.69,619.64 L1707.34,619.5 L1707.98,619.33 L1708.6,619.16 L1709.21,618.98 L1709.8,618.8 L1710.43,618.59 L1711.03,618.36 L1711.62,618.12 L1712.19,617.86 L1712.75,617.61 L1713.32,617.35 L1713.9,617.1" fill="none" stroke="#77AC30" stroke-width="6" stroke-linejoin="round" stroke-linecap="butt"/>
<path d="M1043.8,834.2 L1043.8,834.8 L1043.81,835.4 L1043.81,836.01 L1043.81,836.62 L1043.82,837.23 L1043.82,837.84 L1043.83,838.45 L1043.83,839.07 L1043.83,839.69 L1043.84,840.3 L1043.84,840.93 L1043.84,841.55 L1043.85,842.17 L1043.85,842.8 L1043.85,843.43 L1043.85,844.05 L1043.86,844.68 L1043.86,845.32 L1043.86,845.95 L1043.87,846.58 L1043.87,847.22 L1043.87,847.86 L1043.88,848.49 L1043.88,849.13 L1043.88,849.77 L1043.88,850.41 L1043.89,851.06 L1043.89,851.7 L1043.89,852.34 L1043.9,852.99 L1043.9,853.63 L1043.9,854.28 L1043.9,854.92 L1043.91,855.57 L1043.91,856.22 L1043.91,856.87 L1043.92,857.52 L1043.92,858.16 L1043.92,858.81 L1043.92,859.46 L1043.93,860.11 L1043.93,860.76 L1043.93,861.41 L1043.93,862.06 L1043.94,862.71 L1043.94,863.36 L1043.94,864.01 L1043.95,864.66 L1043.95,865.31 L1043.95,865.96 L1043.95,866.61 L1043.96,867.26 L1043.96,867.91 L1043.96,868.56 L1043.96,869.2 L1043.97,869.85 L1043.97,870.5 L1043.97,871.14 L1043.98,871.79 L1043.98,872.43 L1043.98,873.07 L1043.98,873.72 L1043.99,874.36 L1043.99,875 L1043.99,875.64 L1044,876.28 L1044,876.92 L1044,877.55 L1044.01,878.19 L1044.01,878.82 L1044.01,879.45 L1044.01,880.08 L1044.02,880.71 L1044.02,881.34 L1044.02,881.97 L1044.03,882.59 L1044.03,883.22 L1044.03,883.84 L1044.04,884.46 L1044.04,885.08 L1044.04,885.7 L1044.05,886.31 L1044.05,886.92 L1044.05,887.53 L1044.06,888.14 L1044.06,888.75 L1044.07,889.36 L1044.07,889.96 L1044.07,890.56 L1044.08,891.16 L1044.08,891.75 L1044.08,892.35 L1044.09,892.94 L1044.09,893.53 L1044.1,894.11 L1044.1,894.69 L1044.1,895.28 L1044.11,895.85 L1044.11,896.43 L1044.12,897 L1044.12,897.57 L1044.13,898.14 L1044.13,898.7 L1044.14,899.26 L1044.14,899.82 L1044.14,900.38 L1044.15,900.93 L1044.15,901.48 L1044.16,902.02 L1044.16,902.56 L1044.17,903.1 L1044.17,903.64 L1044.18,904.17 L1044.18,904.7 L1044.19,905.22 L1044.2,905.74 L1044.2,906.26 L1044.21,906.77 L1044.21,907.28 L1044.22,907.79 L1044.22,908.29 L1044.23,908.79 L1044.24,909.28 L1044.24,909.77 L1044.25,910.26 L1044.25,910.74 L1044.26,911.22 L1044.27,911.7 L1044.27,912.17 L1044.28,912.63 L1044.29,913.09 L1044.29,913.55 L1044.3,914 L1044.31,914.76 L1044.32,915.51 L1044.34,916.25 L1044.35,916.98 L1044.36,917.7 L1044.37,918.41 L1044.38,919.12 L1044.39,919.81 L1044.41,920.5 L1044.42,921.18 L1044.43,921.86 L1044.44,922.52 L1044.45,923.18 L1044.47,923.83 L1044.48,924.47 L1044.49,925.11 L1044.5,925.74 L1044.52,926.37 L1044.53,926.99 L1044.54,927.6 L1044.56,928.21 L1044.57,928.81 L1044.58,929.4 L1044.6,930 L1044.61,930.58 L1044.63,931.17 L1044.64,931.74 L1044.66,932.32 L1044.67,932.89 L1044.69,933.45 L1044.7,934.02 L1044.72,934.57 L1044.73,935.13 L1044.75,935.68 L1044.77,936.23 L1044.78,936.78 L1044.8,937.33 L1044.82,937.87 L1044.84,938.41 L1044.86,938.95 L1044.88,939.49 L1044.9,940.03 L1044.92,940.56 L1044.94,941.1 L1044.96,941.63 L1044.98,942.17 L1045,942.7 L1045.03,943.39 L1045.06,944.07 L1045.09,944.73 L1045.12,945.38 L1045.15,946.03 L1045.19,946.66 L1045.22,947.29 L1045.26,947.91 L1045.29,948.52 L1045.33,949.13 L1045.36,949.73 L1045.4,950.32 L1045.44,950.92 L1045.48,951.51 L1045.51,952.1 L1045.55,952.69 L1045.59,953.28 L1045.63,953.86 L1045.67,954.46 L1045.7,955.05 L1045.74,955.65 L1045.78,956.25 L1045.82,956.86 L1045.85,957.47 L1045.89,958.09 L1045.93,958.72 L1045.96,959.35 L1046,960 L1046.03,960.58 L1046.06,961.17 L1046.09,961.75 L1046.12,962.34 L1046.15,962.94 L1046.18,963.54 L1046.2,964.13 L1046.23,964.74 L1046.26,965.34 L1046.28,965.95 L1046.31,966.56 L1046.34,967.17 L1046.36,967.78 L1046.39,968.4 L1046.41,969.01 L1046.44,969.63 L1046.47,970.25 L1046.5,970.87 L1046.52,971.49 L1046.55,972.11 L1046.58,972.73 L1046.61,973.36 L1046.64,973.98 L1046.67,974.6 L1046.71,975.22 L1046.74,975.84 L1046.77,976.47 L1046.81,977.09 L1046.85,977.71 L1046.89,978.33 L1046.93,978.94 L1046.97,979.56 L1047.01,980.17 L1047.05,980.79 L1047.1,981.4 L1047.15,982.01 L1047.2,982.63 L1047.25,983.24 L1047.3,983.86 L1047.35,984.48 L1047.4,985.1 L1047.45,985.72 L1047.51,986.34 L1047.56,986.97 L1047.62,987.59 L1047.68,988.21 L1047.74,988.84 L1047.79,989.46 L1047.85,990.08 L1047.92,990.7 L1047.98,991.33 L1048.04,991.95 L1048.1,992.57 L1048.17,993.19 L1048.23,993.8 L1048.3,994.42 L1048.36,995.03 L1048.43,995.65 L1048.5,996.26 L1048.57,996.87 L1048.64,997.47 L1048.71,998.08 L1048.78,998.68 L1048.85,999.28 L1048.93,999.87 L1049,1000.47 L1049.07,1001.05 L1049.15,1001.64 L1049.22,1002.22 L1049.3,1002.8 L1049.39,1003.45 L1049.47,1004.09 L1049.56,1004.74 L1049.65,1005.38 L1049.74,1006.02 L1049.83,1006.66 L1049.93,1007.3 L1050.02,1007.94 L1050.11,1008.57 L1050.21,1009.2 L1050.31,1009.83 L1050.4,1010.46 L1050.5,1011.08 L1050.6,1011.7 L1050.7,1012.31 L1050.8,1012.93 L1050.91,1013.53 L1051.01,1014.14 L1051.11,1014.74 L1051.22,1015.33 L1051.33,1015.92 L1051.43,1016.51 L1051.54,1017.09 L1051.65,1017.66 L1051.76,1018.23 L1051.87,1018.79 L1051.99,1019.35 L1052.1,1019.9 L1052.24,1020.56 L1052.38,1021.2 L1052.52,1021.84 L1052.67,1022.46 L1052.81,1023.08 L1052.96,1023.68 L1053.1,1024.28 L1053.25,1024.88 L1053.4,1025.46 L1053.56,1026.05 L1053.71,1026.63 L1053.87,1027.21 L1054.02,1027.79 L1054.18,1028.37 L1054.34,1028.95 L1054.5,1029.53 L1054.67,1030.12 L1054.83,1030.71 L1055,1031.3 L1055.17,1031.9 L1055.33,1032.5 L1055.5,1033.11 L1055.66,1033.71 L1055.83,1034.31 L1056,1034.92 L1056.16,1035.52 L1056.33,1036.12 L1056.5,1036.72 L1056.68,1037.32 L1056.86,1037.93 L1057.04,1038.53 L1057.23,1039.13 L1057.42,1039.72 L1057.62,1040.32 L1057.83,1040.92 L1058.05,1041.51 L1058.27,1042.11 L1058.5,1042.7 L1058.72,1043.26 L1058.95,1043.81 L1059.18,1044.37 L1059.42,1044.92 L1059.66,1045.48 L1059.91,1046.03 L1060.16,1046.58 L1060.41,1047.14 L1060.67,1047.69 L1060.93,1048.24 L1061.2,1048.79 L1061.48,1049.34 L1061.76,1049.88 L1062.05,1050.43 L1062.34,1050.97 L1062.63,1051.52 L1062.93,1052.06 L1063.24,1052.6 L1063.56,1053.13 L1063.87,1053.67 L1064.2,1054.2 L1064.52,1054.72 L1064.84,1055.24 L1065.16,1055.78 L1065.49,1056.32 L1065.83,1056.86 L1066.17,1057.41 L1066.51,1057.95 L1066.86,1058.5 L1067.21,1059.05 L1067.57,1059.59 L1067.93,1060.12 L1068.3,1060.65 L1068.68,1061.18 L1069.06,1061.69 L1069.44,1062.19 L1069.84,1062.68 L1070.24,1063.15 L1070.65,1063.61 L1071.06,1064.05 L1071.49,1064.47 L1071.92,1064.87 L1072.35,1065.25 L1072.8,1065.6 L1073.3,1065.97 L1073.81,1066.32 L1074.33,1066.67 L1074.87,1067 L1075.42,1067.32 L1075.98,1067.62 L1076.55,1067.91 L1077.12,1068.18 L1077.7,1068.44 L1078.28,1068.67 L1078.87,1068.89 L1079.46,1069.09 L1080.05,1069.26 L1080.63,1069.41 L1081.22,1069.54 L1081.8,1069.64 L1082.37,1069.72 L1082.94,1069.78 L1083.5,1069.8" fill="none" stroke="#4DBEEE" stroke-width="6" stroke-linejoin="bevel" stroke-linecap="butt" stroke-dasharray="5.5 5.2" stroke-dashoffset="0"/>
<path d="M1198.5,752.6 L1198.47,753.21 L1198.45,753.82 L1198.42,754.43 L1198.4,755.05 L1198.37,755.68 L1198.35,756.3 L1198.32,756.94 L1198.29,757.57 L1198.27,758.21 L1198.24,758.86 L1198.22,759.5 L1198.19,760.15 L1198.17,760.81 L1198.14,761.46 L1198.12,762.12 L1198.09,762.78 L1198.07,763.45 L1198.05,764.11 L1198.02,764.78 L1198,765.45 L1197.97,766.12 L1197.95,766.79 L1197.92,767.46 L1197.9,768.14 L1197.87,768.81 L1197.85,769.49 L1197.83,770.17 L1197.8,770.84 L1197.78,771.52 L1197.75,772.2 L1197.73,772.87 L1197.7,773.55 L1197.68,774.23 L1197.66,774.9 L1197.63,775.58 L1197.61,776.25 L1197.58,776.92 L1197.56,777.6 L1197.53,778.27 L1197.51,778.93 L1197.48,779.6 L1197.46,780.27 L1197.44,780.93 L1197.41,781.59 L1197.39,782.25 L1197.36,782.9 L1197.34,783.55 L1197.31,784.2 L1197.29,784.85 L1197.26,785.49 L1197.24,786.13 L1197.21,786.76 L1197.18,787.4 L1197.16,788.02 L1197.13,788.65 L1197.11,789.26 L1197.08,789.88 L1197.06,790.49 L1197.03,791.09 L1197,791.69 L1196.98,792.28 L1196.95,792.87 L1196.92,793.46 L1196.9,794.03 L1196.87,794.6 L1196.84,795.17 L1196.82,795.73 L1196.79,796.28 L1196.76,796.82 L1196.73,797.36 L1196.71,797.9 L1196.68,798.42 L1196.65,798.94 L1196.62,799.45 L1196.59,799.95 L1196.56,800.44 L1196.53,800.93 L1196.5,801.41 L1196.48,801.88 L1196.45,802.34 L1196.42,802.79 L1196.39,803.23 L1196.36,803.67 L1196.32,804.09 L1196.29,804.51 L1196.26,804.92 L1196.23,805.31 L1196.2,805.7 L1196.13,806.49 L1196.06,807.24 L1195.98,807.93 L1195.91,808.59 L1195.83,809.21 L1195.75,809.8 L1195.68,810.36 L1195.6,810.91 L1195.52,811.44 L1195.44,811.96 L1195.36,812.48 L1195.28,813 L1195.21,813.52 L1195.13,814.06 L1195.06,814.61 L1194.99,815.19 L1194.92,815.79 L1194.86,816.43 L1194.8,817.1 L1194.76,817.62 L1194.72,818.15 L1194.68,818.69 L1194.64,819.24 L1194.61,819.8 L1194.58,820.37 L1194.55,820.95 L1194.52,821.53 L1194.49,822.13 L1194.46,822.72 L1194.44,823.33 L1194.41,823.94 L1194.39,824.56 L1194.37,825.18 L1194.34,825.8 L1194.32,826.43 L1194.3,827.06 L1194.28,827.7 L1194.26,828.34 L1194.24,828.98 L1194.21,829.62 L1194.19,830.26 L1194.17,830.91 L1194.14,831.55 L1194.12,832.19 L1194.09,832.83 L1194.07,833.47 L1194.04,834.11 L1194.01,834.75 L1193.98,835.39 L1193.95,836.02 L1193.91,836.64 L1193.88,837.27 L1193.84,837.89 L1193.8,838.5 L1193.76,839.11 L1193.71,839.72 L1193.67,840.34 L1193.62,840.95 L1193.58,841.56 L1193.53,842.17 L1193.48,842.78 L1193.43,843.39 L1193.38,844.01 L1193.33,844.62 L1193.28,845.23 L1193.22,845.84 L1193.17,846.45 L1193.11,847.06 L1193.06,847.67 L1193,848.29 L1192.95,848.9 L1192.89,849.51 L1192.83,850.12 L1192.78,850.73 L1192.72,851.34 L1192.66,851.95 L1192.6,852.56 L1192.54,853.18 L1192.48,853.79 L1192.42,854.4 L1192.37,855.01 L1192.31,855.62 L1192.25,856.23 L1192.19,856.84 L1192.13,857.45 L1192.07,858.07 L1192.02,858.68 L1191.96,859.29 L1191.9,859.9 L1191.84,860.51 L1191.79,861.12 L1191.73,861.73 L1191.67,862.35 L1191.62,862.96 L1191.56,863.57 L1191.51,864.18 L1191.45,864.79 L1191.39,865.4 L1191.34,866.02 L1191.28,866.63 L1191.23,867.24 L1191.17,867.85 L1191.11,868.46 L1191.06,869.07 L1191,869.69 L1190.94,870.3 L1190.88,870.91 L1190.82,871.52 L1190.77,872.13 L1190.71,872.74 L1190.65,873.36 L1190.59,873.97 L1190.53,874.58 L1190.46,875.19 L1190.4,875.8 L1190.34,876.41 L1190.27,877.02 L1190.21,877.63 L1190.14,878.25 L1190.08,878.86 L1190.01,879.47 L1189.94,880.08 L1189.87,880.69 L1189.8,881.3 L1189.73,881.91 L1189.66,882.53 L1189.59,883.14 L1189.51,883.75 L1189.44,884.37 L1189.37,884.98 L1189.3,885.6 L1189.22,886.21 L1189.15,886.83 L1189.07,887.44 L1189,888.06 L1188.92,888.67 L1188.85,889.29 L1188.77,889.9 L1188.69,890.52 L1188.62,891.13 L1188.54,891.75 L1188.46,892.36 L1188.37,892.98 L1188.29,893.59 L1188.21,894.2 L1188.12,894.82 L1188.04,895.43 L1187.95,896.04 L1187.86,896.65 L1187.77,897.26 L1187.68,897.87 L1187.59,898.48 L1187.5,899.08 L1187.4,899.69 L1187.31,900.29 L1187.21,900.9 L1187.11,901.5 L1187,902.1 L1186.9,902.7 L1186.79,903.3 L1186.69,903.9 L1186.58,904.49 L1186.47,905.09 L1186.36,905.68 L1186.24,906.27 L1186.13,906.86 L1186.01,907.45 L1185.9,908.04 L1185.78,908.63 L1185.66,909.21 L1185.54,909.8 L1185.41,910.38 L1185.29,910.97 L1185.17,911.55 L1185.04,912.13 L1184.91,912.72 L1184.79,913.3 L1184.66,913.88 L1184.53,914.47 L1184.39,915.05 L1184.26,915.63 L1184.13,916.22 L1183.99,916.8 L1183.86,917.39 L1183.72,917.97 L1183.58,918.56 L1183.45,919.15 L1183.31,919.74 L1183.17,920.33 L1183.03,920.92 L1182.89,921.51 L1182.74,922.1 L1182.6,922.7 L1182.46,923.29 L1182.31,923.87 L1182.17,924.46 L1182.02,925.05 L1181.87,925.65 L1181.72,926.24 L1181.57,926.83 L1181.42,927.43 L1181.27,928.02 L1181.11,928.62 L1180.96,929.22 L1180.8,929.81 L1180.64,930.41 L1180.48,931.01 L1180.32,931.61 L1180.16,932.21 L1180,932.8 L1179.84,933.4 L1179.68,934 L1179.51,934.6 L1179.35,935.2 L1179.19,935.8 L1179.02,936.4 L1178.86,936.99 L1178.69,937.59 L1178.53,938.19 L1178.37,938.78 L1178.2,939.38 L1178.04,939.97 L1177.87,940.56 L1177.71,941.16 L1177.55,941.75 L1177.38,942.34 L1177.22,942.93 L1177.06,943.51 L1176.9,944.1 L1176.73,944.71 L1176.57,945.32 L1176.4,945.93 L1176.24,946.55 L1176.07,947.17 L1175.91,947.8 L1175.74,948.42 L1175.58,949.05 L1175.41,949.68 L1175.24,950.31 L1175.08,950.94 L1174.91,951.57 L1174.75,952.2 L1174.58,952.83 L1174.41,953.45 L1174.25,954.08 L1174.08,954.7 L1173.91,955.31 L1173.74,955.93 L1173.58,956.54 L1173.41,957.14 L1173.24,957.74 L1173.07,958.33 L1172.9,958.92 L1172.74,959.49 L1172.57,960.07 L1172.4,960.63 L1172.23,961.18 L1172.06,961.73 L1171.89,962.26 L1171.72,962.79 L1171.54,963.3 L1171.37,963.81 L1171.2,964.3 L1170.97,964.95 L1170.73,965.58 L1170.5,966.19 L1170.27,966.78 L1170.03,967.36 L1169.8,967.92 L1169.56,968.47 L1169.33,969.01 L1169.09,969.54 L1168.86,970.07 L1168.62,970.6 L1168.38,971.12 L1168.14,971.64 L1167.9,972.16 L1167.65,972.68 L1167.4,973.21 L1167.15,973.75 L1166.9,974.3 L1166.64,974.86 L1166.38,975.42 L1166.12,975.98 L1165.85,976.54 L1165.59,977.1 L1165.32,977.66 L1165.05,978.22 L1164.77,978.78 L1164.5,979.34 L1164.23,979.9 L1163.95,980.45 L1163.67,981.01 L1163.4,981.56 L1163.12,982.11 L1162.84,982.66 L1162.56,983.21 L1162.28,983.76 L1162,984.3 L1161.71,984.85 L1161.43,985.41 L1161.14,985.95 L1160.85,986.5 L1160.57,987.04 L1160.28,987.59 L1159.99,988.13 L1159.7,988.67 L1159.41,989.21 L1159.11,989.74 L1158.82,990.28 L1158.52,990.82 L1158.22,991.35 L1157.92,991.89 L1157.62,992.42 L1157.31,992.96 L1157,993.5 L1156.7,994.02 L1156.39,994.54 L1156.09,995.06 L1155.78,995.58 L1155.47,996.1 L1155.15,996.62 L1154.84,997.15 L1154.52,997.67 L1154.2,998.19 L1153.88,998.71 L1153.56,999.22 L1153.24,999.74 L1152.92,1000.25 L1152.6,1000.77 L1152.27,1001.28 L1151.95,1001.79 L1151.62,1002.3 L1151.3,1002.8 L1150.97,1003.32 L1150.63,1003.83 L1150.3,1004.35 L1149.96,1004.86 L1149.63,1005.37 L1149.29,1005.88 L1148.95,1006.38 L1148.62,1006.89 L1148.28,1007.39 L1147.94,1007.9 L1147.59,1008.4 L1147.25,1008.9 L1146.91,1009.4 L1146.56,1009.9 L1146.21,1010.4 L1145.86,1010.9 L1145.5,1011.4 L1145.14,1011.91 L1144.77,1012.41 L1144.4,1012.91 L1144.03,1013.41 L1143.66,1013.91 L1143.28,1014.41 L1142.9,1014.91 L1142.52,1015.41 L1142.14,1015.91 L1141.76,1016.41 L1141.38,1016.9 L1141,1017.4 L1140.62,1017.9 L1140.23,1018.4 L1139.86,1018.9 L1139.48,1019.4 L1139.1,1019.9 L1138.72,1020.4 L1138.35,1020.91 L1137.98,1021.42 L1137.6,1021.92 L1137.23,1022.43 L1136.86,1022.94 L1136.49,1023.45 L1136.12,1023.96 L1135.75,1024.46 L1135.38,1024.97 L1135,1025.48 L1134.62,1025.99 L1134.25,1026.49 L1133.86,1027 L1133.48,1027.5 L1133.09,1028 L1132.7,1028.5 L1132.32,1028.98 L1131.94,1029.46 L1131.55,1029.93 L1131.17,1030.41 L1130.77,1030.88 L1130.38,1031.36 L1129.99,1031.83 L1129.59,1032.3 L1129.2,1032.78 L1128.8,1033.25 L1128.4,1033.72 L1128,1034.19 L1127.6,1034.66 L1127.2,1035.13 L1126.8,1035.6 L1126.4,1036.06 L1126,1036.53 L1125.6,1037 L1125.2,1037.47 L1124.81,1037.93 L1124.41,1038.4 L1124.01,1038.87 L1123.61,1039.34 L1123.22,1039.8 L1122.82,1040.27 L1122.42,1040.74 L1122.02,1041.2 L1121.62,1041.66 L1121.22,1042.13 L1120.82,1042.59 L1120.41,1043.05 L1120.01,1043.5 L1119.61,1043.96 L1119.21,1044.41 L1118.8,1044.86 L1118.4,1045.3 L1117.99,1045.75 L1117.58,1046.2 L1117.17,1046.65 L1116.76,1047.09 L1116.35,1047.54 L1115.95,1047.98 L1115.54,1048.41 L1115.13,1048.85 L1114.72,1049.29 L1114.3,1049.72 L1113.89,1050.15 L1113.47,1050.58 L1113.04,1051 L1112.62,1051.43 L1112.18,1051.86 L1111.74,1052.28 L1111.3,1052.7 L1110.86,1053.11 L1110.41,1053.53 L1109.96,1053.94 L1109.5,1054.35 L1109.04,1054.76 L1108.58,1055.17 L1108.11,1055.58 L1107.64,1055.98 L1107.17,1056.39 L1106.69,1056.79 L1106.21,1057.19 L1105.73,1057.58 L1105.25,1057.98 L1104.76,1058.37 L1104.27,1058.75 L1103.78,1059.14 L1103.29,1059.52 L1102.8,1059.9 L1102.3,1060.28 L1101.81,1060.66 L1101.31,1061.05 L1100.8,1061.43 L1100.3,1061.82 L1099.79,1062.2 L1099.29,1062.58 L1098.77,1062.96 L1098.26,1063.33 L1097.75,1063.7 L1097.23,1064.06 L1096.7,1064.41 L1096.18,1064.75 L1095.65,1065.08 L1095.12,1065.41 L1094.58,1065.72 L1094.04,1066.02 L1093.5,1066.3 L1092.94,1066.59 L1092.37,1066.88 L1091.8,1067.17 L1091.22,1067.46 L1090.64,1067.75 L1090.05,1068.03 L1089.47,1068.3 L1088.87,1068.55 L1088.28,1068.8 L1087.69,1069.02 L1087.09,1069.22 L1086.49,1069.39 L1085.89,1069.54 L1085.29,1069.66 L1084.69,1069.74 L1084.1,1069.79 L1083.5,1069.8" fill="none" stroke="#4DBEEE" stroke-width="6" stroke-linejoin="bevel" stroke-linecap="butt" stroke-dasharray="5.5 5.2" stroke-dashoffset="0"/>
<path d="M1198.5,752.6 L1198.54,753.21 L1198.59,753.81 L1198.64,754.43 L1198.68,755.05 L1198.73,755.67 L1198.77,756.3 L1198.82,756.93 L1198.86,757.56 L1198.91,758.2 L1198.96,758.84 L1199,759.48 L1199.05,760.13 L1199.09,760.78 L1199.14,761.43 L1199.19,762.09 L1199.23,762.75 L1199.28,763.41 L1199.33,764.07 L1199.37,764.74 L1199.42,765.4 L1199.47,766.07 L1199.52,766.75 L1199.56,767.42 L1199.61,768.1 L1199.66,768.77 L1199.71,769.45 L1199.75,770.13 L1199.8,770.81 L1199.85,771.49 L1199.9,772.17 L1199.94,772.86 L1199.99,773.54 L1200.04,774.23 L1200.09,774.91 L1200.13,775.6 L1200.18,776.28 L1200.23,776.97 L1200.28,777.65 L1200.32,778.33 L1200.37,779.02 L1200.42,779.7 L1200.47,780.38 L1200.51,781.07 L1200.56,781.75 L1200.61,782.43 L1200.66,783.11 L1200.7,783.78 L1200.75,784.46 L1200.8,785.13 L1200.84,785.81 L1200.89,786.48 L1200.94,787.14 L1200.99,787.81 L1201.03,788.48 L1201.08,789.14 L1201.13,789.8 L1201.17,790.45 L1201.22,791.11 L1201.27,791.76 L1201.31,792.41 L1201.36,793.05 L1201.4,793.69 L1201.45,794.33 L1201.5,794.97 L1201.54,795.6 L1201.59,796.23 L1201.63,796.85 L1201.68,797.47 L1201.72,798.09 L1201.77,798.7 L1201.81,799.3 L1201.86,799.9 L1201.9,800.5 L1201.95,801.09 L1201.99,801.68 L1202.04,802.26 L1202.08,802.84 L1202.12,803.41 L1202.17,803.98 L1202.21,804.54 L1202.26,805.1 L1202.3,805.65 L1202.34,806.19 L1202.38,806.73 L1202.43,807.26 L1202.47,807.78 L1202.51,808.3 L1202.55,808.81 L1202.59,809.32 L1202.64,809.81 L1202.68,810.31 L1202.72,810.79 L1202.76,811.27 L1202.8,811.73 L1202.84,812.2 L1202.88,812.65 L1202.92,813.1 L1202.96,813.53 L1203,813.96 L1203.04,814.39 L1203.07,814.8 L1203.11,815.2 L1203.15,815.6 L1203.19,815.99 L1203.23,816.37 L1203.26,816.74 L1203.3,817.1 L1203.39,817.92 L1203.47,818.7 L1203.55,819.43 L1203.62,820.13 L1203.7,820.79 L1203.77,821.42 L1203.84,822.02 L1203.92,822.6 L1203.99,823.16 L1204.06,823.71 L1204.13,824.24 L1204.21,824.76 L1204.28,825.28 L1204.36,825.8 L1204.44,826.32 L1204.52,826.84 L1204.61,827.38 L1204.7,827.93 L1204.8,828.5 L1204.9,829.11 L1205.01,829.71 L1205.11,830.31 L1205.22,830.91 L1205.33,831.5 L1205.43,832.09 L1205.55,832.68 L1205.66,833.26 L1205.78,833.85 L1205.9,834.43 L1206.03,835.01 L1206.16,835.6 L1206.29,836.18 L1206.44,836.76 L1206.58,837.34 L1206.74,837.92 L1206.9,838.5 L1207.07,839.1 L1207.23,839.7 L1207.4,840.3 L1207.57,840.91 L1207.74,841.52 L1207.92,842.13 L1208.1,842.74 L1208.29,843.35 L1208.49,843.95 L1208.69,844.55 L1208.91,845.14 L1209.14,845.72 L1209.38,846.3 L1209.63,846.87 L1209.91,847.42 L1210.19,847.97 L1210.5,848.5 L1210.82,849.02 L1211.16,849.55 L1211.5,850.08 L1211.86,850.6 L1212.24,851.12 L1212.62,851.64 L1213.02,852.15 L1213.43,852.64 L1213.85,853.13 L1214.28,853.6 L1214.73,854.05 L1215.18,854.48 L1215.64,854.9 L1216.12,855.29 L1216.6,855.65 L1217.1,855.99 L1217.6,856.3 L1218.11,856.58 L1218.64,856.83 L1219.18,857.07 L1219.74,857.28 L1220.31,857.48 L1220.89,857.65 L1221.49,857.81 L1222.09,857.94 L1222.7,858.06 L1223.31,858.17 L1223.92,858.26 L1224.54,858.33 L1225.16,858.39 L1225.78,858.44 L1226.39,858.47 L1227,858.49 L1227.6,858.5" fill="none" stroke="#4DBEEE" stroke-width="6" stroke-linejoin="bevel" stroke-linecap="butt" stroke-dasharray="5.5 5.2" stroke-dashoffset="0"/>
<path d="M1352.9,526.8 L1352.85,527.41 L1352.81,528.01 L1352.76,528.62 L1352.71,529.23 L1352.67,529.84 L1352.62,530.45 L1352.57,531.06 L1352.52,531.67 L1352.47,532.29 L1352.42,532.9 L1352.37,533.51 L1352.33,534.12 L1352.28,534.74 L1352.23,535.35 L1352.18,535.96 L1352.13,536.57 L1352.08,537.19 L1352.03,537.8 L1351.99,538.41 L1351.94,539.02 L1351.89,539.63 L1351.84,540.24 L1351.8,540.85 L1351.75,541.45 L1351.7,542.06 L1351.66,542.66 L1351.61,543.26 L1351.57,543.87 L1351.52,544.47 L1351.48,545.06 L1351.44,545.66 L1351.4,546.26 L1351.36,546.85 L1351.32,547.44 L1351.28,548.03 L1351.24,548.62 L1351.2,549.2 L1351.16,549.82 L1351.12,550.44 L1351.09,551.06 L1351.05,551.67 L1351.02,552.28 L1350.98,552.89 L1350.95,553.5 L1350.92,554.1 L1350.89,554.7 L1350.86,555.3 L1350.83,555.9 L1350.8,556.5 L1350.77,557.09 L1350.75,557.69 L1350.72,558.28 L1350.69,558.88 L1350.66,559.47 L1350.64,560.06 L1350.61,560.66 L1350.58,561.25 L1350.55,561.85 L1350.52,562.44 L1350.5,563.04 L1350.47,563.64 L1350.44,564.24 L1350.41,564.84 L1350.37,565.44 L1350.34,566.05 L1350.31,566.66 L1350.27,567.27 L1350.24,567.88 L1350.2,568.5 L1350.16,569.1 L1350.13,569.7 L1350.09,570.3 L1350.05,570.9 L1350.01,571.5 L1349.97,572.1 L1349.93,572.71 L1349.89,573.32 L1349.85,573.93 L1349.81,574.53 L1349.77,575.15 L1349.73,575.76 L1349.69,576.37 L1349.65,576.98 L1349.6,577.6 L1349.56,578.21 L1349.52,578.82 L1349.48,579.44 L1349.43,580.06 L1349.39,580.67 L1349.34,581.29 L1349.3,581.9 L1349.25,582.52 L1349.21,583.14 L1349.16,583.75 L1349.12,584.37 L1349.07,584.99 L1349.03,585.6 L1348.98,586.22 L1348.93,586.83 L1348.89,587.45 L1348.84,588.06 L1348.79,588.68 L1348.75,589.29 L1348.7,589.9 L1348.65,590.51 L1348.61,591.12 L1348.56,591.73 L1348.51,592.35 L1348.46,592.96 L1348.41,593.57 L1348.36,594.18 L1348.31,594.79 L1348.27,595.4 L1348.22,596.02 L1348.17,596.63 L1348.12,597.24 L1348.07,597.85 L1348.02,598.46 L1347.97,599.07 L1347.91,599.68 L1347.86,600.3 L1347.81,600.91 L1347.76,601.52 L1347.71,602.13 L1347.66,602.74 L1347.6,603.35 L1347.55,603.96 L1347.5,604.58 L1347.44,605.19 L1347.39,605.8 L1347.34,606.41 L1347.28,607.02 L1347.23,607.63 L1347.18,608.24 L1347.12,608.85 L1347.07,609.47 L1347.01,610.08 L1346.96,610.69 L1346.9,611.3 L1346.84,611.91 L1346.79,612.52 L1346.73,613.13 L1346.68,613.75 L1346.62,614.36 L1346.56,614.97 L1346.51,615.58 L1346.45,616.19 L1346.39,616.8 L1346.34,617.42 L1346.28,618.03 L1346.22,618.64 L1346.16,619.25 L1346.11,619.86 L1346.05,620.47 L1345.99,621.09 L1345.93,621.7 L1345.87,622.31 L1345.81,622.92 L1345.75,623.53 L1345.69,624.14 L1345.63,624.75 L1345.57,625.37 L1345.51,625.98 L1345.44,626.59 L1345.38,627.2 L1345.32,627.81 L1345.26,628.42 L1345.19,629.03 L1345.13,629.64 L1345.06,630.26 L1345,630.87 L1344.93,631.48 L1344.87,632.09 L1344.8,632.7 L1344.73,633.31 L1344.66,633.92 L1344.6,634.54 L1344.53,635.15 L1344.46,635.76 L1344.38,636.37 L1344.31,636.98 L1344.24,637.59 L1344.17,638.2 L1344.1,638.82 L1344.02,639.43 L1343.95,640.04 L1343.88,640.65 L1343.8,641.26 L1343.73,641.87 L1343.65,642.49 L1343.58,643.1 L1343.5,643.71 L1343.42,644.32 L1343.35,644.93 L1343.27,645.54 L1343.19,646.15 L1343.12,646.76 L1343.04,647.38 L1342.96,647.99 L1342.89,648.6 L1342.81,649.21 L1342.73,649.82 L1342.66,650.43 L1342.58,651.04 L1342.5,651.65 L1342.43,652.27 L1342.35,652.88 L1342.28,653.49 L1342.2,654.1 L1342.12,654.71 L1342.05,655.32 L1341.98,655.94 L1341.91,656.55 L1341.83,657.16 L1341.76,657.78 L1341.69,658.39 L1341.62,659.01 L1341.55,659.62 L1341.49,660.24 L1341.42,660.85 L1341.35,661.47 L1341.28,662.08 L1341.21,662.69 L1341.14,663.31 L1341.07,663.92 L1341,664.54 L1340.93,665.15 L1340.85,665.77 L1340.78,666.38 L1340.71,666.99 L1340.63,667.6 L1340.56,668.22 L1340.48,668.83 L1340.4,669.44 L1340.32,670.05 L1340.23,670.66 L1340.15,671.27 L1340.06,671.87 L1339.98,672.48 L1339.89,673.09 L1339.79,673.69 L1339.7,674.3 L1339.6,674.9 L1339.5,675.5 L1339.4,676.11 L1339.29,676.71 L1339.19,677.31 L1339.08,677.91 L1338.97,678.51 L1338.86,679.11 L1338.75,679.71 L1338.64,680.31 L1338.52,680.9 L1338.41,681.49 L1338.29,682.09 L1338.17,682.68 L1338.05,683.27 L1337.93,683.86 L1337.81,684.46 L1337.68,685.05 L1337.56,685.64 L1337.43,686.23 L1337.3,686.82 L1337.17,687.41 L1337.04,688.01 L1336.91,688.6 L1336.77,689.19 L1336.64,689.79 L1336.5,690.38 L1336.36,690.98 L1336.22,691.58 L1336.08,692.17 L1335.94,692.77 L1335.79,693.38 L1335.65,693.98 L1335.5,694.58 L1335.35,695.19 L1335.2,695.8 L1335.06,696.38 L1334.91,696.96 L1334.76,697.53 L1334.61,698.11 L1334.47,698.69 L1334.31,699.27 L1334.16,699.84 L1334.01,700.42 L1333.85,701 L1333.7,701.57 L1333.54,702.15 L1333.38,702.73 L1333.22,703.31 L1333.06,703.89 L1332.9,704.47 L1332.73,705.05 L1332.57,705.63 L1332.4,706.21 L1332.23,706.8 L1332.06,707.38 L1331.89,707.97 L1331.72,708.56 L1331.55,709.15 L1331.37,709.74 L1331.2,710.34 L1331.02,710.93 L1330.84,711.53 L1330.66,712.13 L1330.48,712.74 L1330.3,713.34 L1330.12,713.95 L1329.93,714.56 L1329.75,715.18 L1329.56,715.8 L1329.37,716.42 L1329.18,717.04 L1328.99,717.67 L1328.8,718.3 L1328.64,718.84 L1328.47,719.38 L1328.3,719.92 L1328.14,720.47 L1327.97,721.02 L1327.8,721.57 L1327.62,722.13 L1327.45,722.69 L1327.28,723.25 L1327.1,723.81 L1326.93,724.37 L1326.75,724.94 L1326.57,725.51 L1326.39,726.08 L1326.21,726.65 L1326.03,727.23 L1325.84,727.8 L1325.66,728.38 L1325.48,728.96 L1325.29,729.54 L1325.1,730.12 L1324.92,730.71 L1324.73,731.29 L1324.54,731.88 L1324.35,732.46 L1324.16,733.05 L1323.97,733.64 L1323.78,734.22 L1323.59,734.81 L1323.4,735.4 L1323.2,735.99 L1323.01,736.58 L1322.82,737.17 L1322.62,737.76 L1322.43,738.35 L1322.23,738.94 L1322.04,739.53 L1321.84,740.12 L1321.65,740.71 L1321.45,741.3 L1321.26,741.89 L1321.06,742.48 L1320.86,743.07 L1320.67,743.65 L1320.47,744.24 L1320.28,744.82 L1320.08,745.4 L1319.88,745.99 L1319.69,746.57 L1319.49,747.15 L1319.3,747.72 L1319.1,748.3 L1318.91,748.87 L1318.71,749.44 L1318.52,750.01 L1318.33,750.58 L1318.13,751.16 L1317.94,751.73 L1317.74,752.31 L1317.54,752.89 L1317.35,753.47 L1317.15,754.05 L1316.95,754.63 L1316.76,755.21 L1316.56,755.79 L1316.36,756.37 L1316.16,756.95 L1315.97,757.54 L1315.77,758.12 L1315.57,758.7 L1315.37,759.28 L1315.17,759.87 L1314.97,760.45 L1314.77,761.03 L1314.57,761.61 L1314.36,762.19 L1314.16,762.77 L1313.96,763.35 L1313.76,763.93 L1313.56,764.51 L1313.35,765.08 L1313.15,765.66 L1312.95,766.23 L1312.74,766.8 L1312.54,767.37 L1312.33,767.94 L1312.13,768.51 L1311.92,769.07 L1311.72,769.64 L1311.51,770.2 L1311.31,770.76 L1311.1,771.31 L1310.9,771.87 L1310.69,772.42 L1310.48,772.97 L1310.27,773.52 L1310.07,774.06 L1309.86,774.6 L1309.65,775.14 L1309.44,775.67 L1309.24,776.21 L1309.03,776.74 L1308.82,777.26 L1308.61,777.78 L1308.4,778.3 L1308.15,778.91 L1307.9,779.52 L1307.65,780.14 L1307.4,780.75 L1307.15,781.37 L1306.89,781.99 L1306.64,782.61 L1306.38,783.23 L1306.12,783.86 L1305.86,784.48 L1305.6,785.09 L1305.34,785.71 L1305.08,786.33 L1304.82,786.94 L1304.56,787.55 L1304.3,788.16 L1304.04,788.76 L1303.77,789.36 L1303.51,789.95 L1303.25,790.54 L1302.99,791.12 L1302.73,791.69 L1302.47,792.26 L1302.21,792.82 L1301.95,793.37 L1301.7,793.92 L1301.44,794.45 L1301.19,794.98 L1300.93,795.49 L1300.68,796 L1300.43,796.49 L1300.18,796.98 L1299.94,797.45 L1299.69,797.91 L1299.45,798.35 L1299.21,798.79 L1298.97,799.2 L1298.73,799.61 L1298.5,800 L1298.1,800.64 L1297.7,801.23 L1297.32,801.77 L1296.94,802.28 L1296.56,802.75 L1296.18,803.2 L1295.81,803.64 L1295.44,804.07 L1295.06,804.51 L1294.68,804.95 L1294.29,805.41 L1293.9,805.89 L1293.5,806.4 L1293.14,806.87 L1292.78,807.35 L1292.42,807.84 L1292.06,808.34 L1291.69,808.84 L1291.32,809.35 L1290.95,809.86 L1290.57,810.37 L1290.2,810.89 L1289.82,811.41 L1289.44,811.93 L1289.05,812.45 L1288.67,812.97 L1288.28,813.48 L1287.89,813.99 L1287.49,814.5 L1287.1,815 L1286.72,815.48 L1286.33,815.96 L1285.94,816.44 L1285.55,816.91 L1285.15,817.39 L1284.75,817.87 L1284.35,818.34 L1283.95,818.82 L1283.55,819.29 L1283.14,819.77 L1282.74,820.24 L1282.33,820.71 L1281.92,821.18 L1281.52,821.64 L1281.11,822.11 L1280.71,822.58 L1280.3,823.04 L1279.9,823.5 L1279.48,823.98 L1279.07,824.45 L1278.66,824.93 L1278.24,825.4 L1277.83,825.87 L1277.42,826.34 L1277,826.82 L1276.59,827.28 L1276.17,827.75 L1275.76,828.22 L1275.34,828.68 L1274.92,829.14 L1274.5,829.6 L1274.08,830.05 L1273.66,830.5 L1273.23,830.95 L1272.8,831.4 L1272.38,831.84 L1271.95,832.27 L1271.53,832.7 L1271.11,833.12 L1270.68,833.55 L1270.25,833.97 L1269.82,834.38 L1269.39,834.8 L1268.96,835.22 L1268.53,835.63 L1268.09,836.04 L1267.65,836.45 L1267.21,836.86 L1266.76,837.27 L1266.31,837.68 L1265.86,838.09 L1265.4,838.5 L1264.95,838.9 L1264.49,839.31 L1264.03,839.72 L1263.56,840.12 L1263.1,840.53 L1262.63,840.94 L1262.16,841.34 L1261.68,841.75 L1261.21,842.15 L1260.73,842.55 L1260.24,842.94 L1259.76,843.34 L1259.27,843.73 L1258.78,844.11 L1258.29,844.49 L1257.79,844.87 L1257.3,845.24 L1256.8,845.6 L1256.3,845.95 L1255.8,846.3 L1255.3,846.65 L1254.79,846.99 L1254.28,847.32 L1253.76,847.65 L1253.25,847.98 L1252.73,848.31 L1252.21,848.63 L1251.68,848.94 L1251.16,849.26 L1250.64,849.57 L1250.11,849.88 L1249.59,850.19 L1249.07,850.49 L1248.54,850.8 L1248.02,851.1 L1247.5,851.4 L1246.96,851.71 L1246.43,852.03 L1245.9,852.34 L1245.37,852.66 L1244.84,852.98 L1244.31,853.29 L1243.78,853.61 L1243.25,853.91 L1242.72,854.22 L1242.18,854.51 L1241.64,854.8 L1241.1,855.08 L1240.55,855.35 L1240,855.61 L1239.44,855.85 L1238.87,856.08 L1238.3,856.3 L1237.74,856.5 L1237.17,856.69 L1236.59,856.88 L1236,857.07 L1235.41,857.24 L1234.82,857.41 L1234.22,857.57 L1233.61,857.72 L1233.01,857.86 L1232.4,857.99 L1231.79,858.11 L1231.19,858.21 L1230.58,858.3 L1229.98,858.37 L1229.38,858.43 L1228.78,858.47 L1228.19,858.49 L1227.6,858.5" fill="none" stroke="#4DBEEE" stroke-width="6" stroke-linejoin="bevel" stroke-linecap="butt" stroke-dasharray="5.5 5.2" stroke-dashoffset="0"/>
<path d="M1352.9,526.8 L1352.94,527.4 L1352.98,528 L1353.02,528.59 L1353.05,529.18 L1353.09,529.77 L1353.13,530.35 L1353.17,530.93 L1353.21,531.52 L1353.25,532.1 L1353.28,532.68 L1353.32,533.27 L1353.36,533.86 L1353.4,534.45 L1353.44,535.04 L1353.48,535.64 L1353.52,536.25 L1353.56,536.86 L1353.6,537.48 L1353.64,538.11 L1353.68,538.74 L1353.72,539.38 L1353.76,540.04 L1353.8,540.7 L1353.83,541.25 L1353.87,541.81 L1353.9,542.37 L1353.94,542.94 L1353.97,543.52 L1354.01,544.1 L1354.04,544.69 L1354.08,545.28 L1354.11,545.88 L1354.15,546.48 L1354.19,547.09 L1354.22,547.7 L1354.26,548.31 L1354.3,548.93 L1354.33,549.55 L1354.37,550.17 L1354.41,550.8 L1354.44,551.43 L1354.48,552.06 L1354.52,552.69 L1354.56,553.32 L1354.59,553.95 L1354.63,554.59 L1354.67,555.22 L1354.71,555.85 L1354.75,556.48 L1354.79,557.12 L1354.82,557.75 L1354.86,558.38 L1354.9,559 L1354.94,559.63 L1354.98,560.25 L1355.02,560.87 L1355.06,561.49 L1355.1,562.1 L1355.14,562.71 L1355.18,563.32 L1355.22,563.94 L1355.26,564.55 L1355.3,565.17 L1355.34,565.78 L1355.38,566.4 L1355.41,567.02 L1355.45,567.63 L1355.49,568.25 L1355.53,568.87 L1355.57,569.48 L1355.61,570.1 L1355.65,570.72 L1355.69,571.33 L1355.73,571.95 L1355.77,572.57 L1355.81,573.18 L1355.85,573.8 L1355.9,574.41 L1355.94,575.03 L1355.98,575.64 L1356.02,576.25 L1356.07,576.86 L1356.11,577.47 L1356.16,578.08 L1356.2,578.69 L1356.25,579.3 L1356.3,579.9 L1356.35,580.51 L1356.39,581.11 L1356.44,581.71 L1356.5,582.31 L1356.55,582.9 L1356.6,583.5 L1356.66,584.12 L1356.71,584.74 L1356.76,585.35 L1356.82,585.97 L1356.87,586.59 L1356.93,587.21 L1356.98,587.83 L1357.04,588.45 L1357.09,589.07 L1357.15,589.69 L1357.21,590.3 L1357.26,590.92 L1357.32,591.53 L1357.38,592.15 L1357.44,592.76 L1357.5,593.37 L1357.56,593.97 L1357.63,594.58 L1357.69,595.18 L1357.76,595.78 L1357.82,596.38 L1357.89,596.97 L1357.96,597.56 L1358.04,598.15 L1358.11,598.73 L1358.19,599.31 L1358.27,599.89 L1358.35,600.46 L1358.43,601.03 L1358.52,601.59 L1358.61,602.15 L1358.7,602.7 L1358.81,603.36 L1358.93,604.01 L1359.04,604.65 L1359.16,605.29 L1359.28,605.93 L1359.41,606.56 L1359.53,607.18 L1359.66,607.8 L1359.79,608.42 L1359.92,609.03 L1360.06,609.64 L1360.2,610.24 L1360.34,610.84 L1360.48,611.44 L1360.63,612.03 L1360.78,612.63 L1360.93,613.21 L1361.08,613.8 L1361.24,614.38 L1361.4,614.97 L1361.56,615.54 L1361.73,616.12 L1361.9,616.7 L1362.08,617.32 L1362.27,617.93 L1362.45,618.55 L1362.64,619.16 L1362.82,619.78 L1363.01,620.38 L1363.2,620.99 L1363.4,621.59 L1363.6,622.19 L1363.8,622.79 L1364.01,623.38 L1364.22,623.96 L1364.44,624.54 L1364.67,625.12 L1364.91,625.68 L1365.15,626.24 L1365.4,626.79 L1365.65,627.34 L1365.92,627.87 L1366.2,628.4 L1366.51,628.97 L1366.83,629.54 L1367.15,630.11 L1367.49,630.67 L1367.82,631.23 L1368.17,631.78 L1368.53,632.33 L1368.89,632.86 L1369.26,633.39 L1369.64,633.9 L1370.04,634.4 L1370.44,634.88 L1370.85,635.35 L1371.27,635.79 L1371.7,636.22 L1372.14,636.62 L1372.6,637 L1373.1,637.38 L1373.61,637.75 L1374.14,638.09 L1374.69,638.42 L1375.25,638.73 L1375.82,639.03 L1376.39,639.3 L1376.98,639.56 L1377.58,639.79 L1378.17,640.01 L1378.78,640.21 L1379.38,640.39 L1379.99,640.54 L1380.6,640.68 L1381.2,640.8 L1381.78,640.89 L1382.36,640.97 L1382.94,641.02 L1383.54,641.06 L1384.13,641.08 L1384.73,641.08" fill="none" stroke="#4DBEEE" stroke-width="6" stroke-linejoin="bevel" stroke-linecap="butt" stroke-dasharray="5.5 5.2" stroke-dashoffset="0"/>
<path d="M1507.9,337.9 L1507.84,338.51 L1507.78,339.11 L1507.73,339.72 L1507.67,340.33 L1507.61,340.95 L1507.55,341.56 L1507.49,342.17 L1507.43,342.78 L1507.37,343.4 L1507.31,344.01 L1507.25,344.62 L1507.19,345.23 L1507.13,345.84 L1507.07,346.44 L1507.02,347.05 L1506.96,347.65 L1506.91,348.24 L1506.85,348.84 L1506.8,349.43 L1506.75,350.02 L1506.7,350.6 L1506.65,351.22 L1506.6,351.84 L1506.56,352.45 L1506.51,353.06 L1506.47,353.66 L1506.43,354.27 L1506.4,354.87 L1506.36,355.46 L1506.32,356.06 L1506.28,356.65 L1506.24,357.25 L1506.2,357.84 L1506.16,358.43 L1506.11,359.02 L1506.06,359.61 L1506.01,360.21 L1505.96,360.8 L1505.9,361.4 L1505.83,362.03 L1505.76,362.66 L1505.68,363.3 L1505.6,363.93 L1505.51,364.56 L1505.43,365.2 L1505.34,365.83 L1505.25,366.46 L1505.16,367.09 L1505.07,367.72 L1504.98,368.35 L1504.89,368.98 L1504.8,369.61 L1504.72,370.23 L1504.64,370.86 L1504.57,371.48 L1504.5,372.1 L1504.44,372.73 L1504.38,373.36 L1504.32,373.99 L1504.27,374.61 L1504.22,375.24 L1504.17,375.86 L1504.13,376.48 L1504.08,377.1 L1504.04,377.72 L1504,378.34 L1503.95,378.96 L1503.91,379.58 L1503.86,380.21 L1503.81,380.84 L1503.76,381.47 L1503.7,382.1 L1503.64,382.72 L1503.59,383.34 L1503.53,383.97 L1503.47,384.59 L1503.41,385.22 L1503.34,385.85 L1503.28,386.48 L1503.22,387.11 L1503.15,387.74 L1503.09,388.37 L1503.02,389.01 L1502.95,389.64 L1502.88,390.27 L1502.82,390.91 L1502.74,391.54 L1502.67,392.17 L1502.6,392.8 L1502.53,393.4 L1502.46,394 L1502.39,394.6 L1502.31,395.2 L1502.24,395.8 L1502.16,396.4 L1502.09,397 L1502.01,397.6 L1501.93,398.2 L1501.85,398.8 L1501.77,399.4 L1501.69,400 L1501.61,400.6 L1501.53,401.2 L1501.45,401.8 L1501.37,402.4 L1501.28,403 L1501.2,403.6 L1501.12,404.2 L1501.04,404.79 L1500.95,405.38 L1500.87,405.98 L1500.79,406.57 L1500.71,407.16 L1500.63,407.75 L1500.55,408.34 L1500.46,408.93 L1500.38,409.52 L1500.29,410.12 L1500.2,410.71 L1500.11,411.3 L1500.01,411.9 L1499.91,412.5 L1499.81,413.1 L1499.71,413.7 L1499.6,414.3 L1499.49,414.9 L1499.37,415.49 L1499.26,416.07 L1499.14,416.66 L1499.01,417.24 L1498.89,417.82 L1498.76,418.4 L1498.63,418.98 L1498.5,419.57 L1498.37,420.16 L1498.23,420.76 L1498.09,421.36 L1497.95,421.97 L1497.81,422.6 L1497.67,423.23 L1497.53,423.88 L1497.39,424.54 L1497.24,425.21 L1497.1,425.9 L1497,426.41 L1496.89,426.93 L1496.79,427.46 L1496.68,428 L1496.57,428.55 L1496.47,429.1 L1496.36,429.66 L1496.26,430.23 L1496.15,430.8 L1496.04,431.38 L1495.93,431.97 L1495.82,432.56 L1495.71,433.16 L1495.6,433.76 L1495.49,434.36 L1495.38,434.97 L1495.26,435.58 L1495.15,436.2 L1495.03,436.81 L1494.92,437.43 L1494.8,438.05 L1494.68,438.67 L1494.56,439.29 L1494.44,439.91 L1494.32,440.53 L1494.19,441.14 L1494.07,441.76 L1493.94,442.38 L1493.81,442.99 L1493.68,443.6 L1493.55,444.21 L1493.41,444.81 L1493.28,445.41 L1493.14,446.01 L1493,446.6 L1492.86,447.19 L1492.71,447.79 L1492.57,448.38 L1492.42,448.98 L1492.27,449.57 L1492.11,450.16 L1491.96,450.75 L1491.81,451.35 L1491.65,451.94 L1491.49,452.53 L1491.33,453.12 L1491.17,453.72 L1491.01,454.31 L1490.84,454.9 L1490.68,455.49 L1490.51,456.08 L1490.34,456.67 L1490.17,457.27 L1490,457.86 L1489.83,458.45 L1489.66,459.04 L1489.49,459.63 L1489.32,460.22 L1489.14,460.81 L1488.97,461.4 L1488.79,461.99 L1488.62,462.58 L1488.44,463.17 L1488.27,463.76 L1488.09,464.35 L1487.91,464.94 L1487.73,465.53 L1487.56,466.12 L1487.38,466.71 L1487.2,467.3 L1487.03,467.88 L1486.85,468.45 L1486.67,469.03 L1486.49,469.61 L1486.31,470.19 L1486.13,470.76 L1485.95,471.34 L1485.77,471.92 L1485.59,472.5 L1485.4,473.07 L1485.22,473.65 L1485.03,474.23 L1484.85,474.8 L1484.66,475.38 L1484.47,475.96 L1484.28,476.54 L1484.1,477.11 L1483.91,477.69 L1483.72,478.26 L1483.53,478.84 L1483.34,479.42 L1483.15,479.99 L1482.96,480.57 L1482.77,481.14 L1482.58,481.72 L1482.39,482.29 L1482.2,482.86 L1482.01,483.44 L1481.82,484.01 L1481.63,484.58 L1481.44,485.15 L1481.25,485.72 L1481.06,486.29 L1480.87,486.86 L1480.69,487.43 L1480.5,488 L1480.31,488.59 L1480.11,489.18 L1479.92,489.76 L1479.73,490.35 L1479.54,490.93 L1479.35,491.52 L1479.15,492.1 L1478.96,492.68 L1478.77,493.27 L1478.58,493.85 L1478.39,494.43 L1478.2,495.01 L1478.01,495.59 L1477.82,496.17 L1477.62,496.75 L1477.43,497.33 L1477.24,497.91 L1477.05,498.49 L1476.86,499.07 L1476.66,499.64 L1476.47,500.22 L1476.28,500.8 L1476.08,501.38 L1475.89,501.96 L1475.69,502.54 L1475.5,503.13 L1475.3,503.71 L1475.1,504.29 L1474.9,504.87 L1474.7,505.46 L1474.5,506.04 L1474.3,506.63 L1474.1,507.21 L1473.9,507.8 L1473.7,508.37 L1473.5,508.94 L1473.31,509.51 L1473.11,510.09 L1472.9,510.66 L1472.7,511.23 L1472.5,511.81 L1472.3,512.38 L1472.09,512.96 L1471.89,513.54 L1471.68,514.11 L1471.48,514.69 L1471.27,515.27 L1471.07,515.85 L1470.86,516.43 L1470.65,517 L1470.45,517.58 L1470.24,518.16 L1470.03,518.74 L1469.82,519.32 L1469.61,519.89 L1469.4,520.47 L1469.2,521.05 L1468.99,521.63 L1468.78,522.2 L1468.57,522.78 L1468.36,523.35 L1468.15,523.93 L1467.95,524.5 L1467.74,525.08 L1467.53,525.65 L1467.32,526.22 L1467.12,526.79 L1466.91,527.36 L1466.71,527.93 L1466.5,528.5 L1466.29,529.09 L1466.07,529.68 L1465.85,530.28 L1465.63,530.88 L1465.41,531.49 L1465.19,532.1 L1464.96,532.71 L1464.74,533.32 L1464.51,533.93 L1464.29,534.54 L1464.06,535.16 L1463.83,535.77 L1463.61,536.38 L1463.38,536.99 L1463.16,537.6 L1462.93,538.21 L1462.71,538.82 L1462.48,539.42 L1462.26,540.01 L1462.05,540.61 L1461.83,541.2 L1461.61,541.78 L1461.4,542.36 L1461.19,542.93 L1460.99,543.5 L1460.78,544.05 L1460.58,544.6 L1460.39,545.15 L1460.19,545.68 L1460.01,546.2 L1459.82,546.72 L1459.64,547.22 L1459.47,547.72 L1459.3,548.2 L1459.06,548.89 L1458.83,549.56 L1458.62,550.2 L1458.41,550.83 L1458.22,551.43 L1458.03,552.03 L1457.84,552.61 L1457.66,553.18 L1457.48,553.75 L1457.29,554.32 L1457.11,554.88 L1456.92,555.45 L1456.73,556.02 L1456.53,556.6 L1456.32,557.19 L1456.1,557.8 L1455.9,558.35 L1455.69,558.91 L1455.47,559.47 L1455.26,560.03 L1455.04,560.6 L1454.81,561.17 L1454.59,561.74 L1454.36,562.31 L1454.13,562.88 L1453.9,563.45 L1453.67,564.02 L1453.43,564.59 L1453.2,565.15 L1452.96,565.72 L1452.73,566.28 L1452.49,566.84 L1452.26,567.4 L1452.03,567.95 L1451.8,568.5 L1451.56,569.08 L1451.31,569.66 L1451.07,570.23 L1450.82,570.8 L1450.57,571.37 L1450.33,571.93 L1450.08,572.49 L1449.83,573.05 L1449.59,573.61 L1449.34,574.17 L1449.09,574.73 L1448.84,575.29 L1448.6,575.85 L1448.35,576.41 L1448.1,576.97 L1447.85,577.54 L1447.6,578.1 L1447.35,578.67 L1447.1,579.24 L1446.86,579.81 L1446.61,580.39 L1446.37,580.96 L1446.13,581.53 L1445.88,582.1 L1445.64,582.68 L1445.39,583.25 L1445.14,583.82 L1444.89,584.4 L1444.64,584.97 L1444.38,585.54 L1444.12,586.1 L1443.85,586.67 L1443.58,587.24 L1443.3,587.8 L1443.03,588.34 L1442.75,588.88 L1442.46,589.42 L1442.17,589.96 L1441.88,590.51 L1441.58,591.04 L1441.28,591.58 L1440.98,592.12 L1440.67,592.66 L1440.37,593.19 L1440.06,593.73 L1439.75,594.26 L1439.44,594.79 L1439.13,595.31 L1438.82,595.84 L1438.51,596.36 L1438.2,596.88 L1437.9,597.4 L1437.57,597.95 L1437.25,598.51 L1436.93,599.05 L1436.61,599.6 L1436.29,600.14 L1435.97,600.68 L1435.64,601.22 L1435.32,601.76 L1434.99,602.29 L1434.67,602.83 L1434.33,603.36 L1434,603.89 L1433.66,604.42 L1433.31,604.95 L1432.96,605.47 L1432.6,606 L1432.25,606.51 L1431.89,607.03 L1431.52,607.54 L1431.15,608.06 L1430.78,608.58 L1430.4,609.09 L1430.02,609.61 L1429.64,610.12 L1429.25,610.63 L1428.86,611.13 L1428.47,611.63 L1428.08,612.13 L1427.68,612.62 L1427.29,613.1 L1426.89,613.58 L1426.5,614.04 L1426.1,614.5 L1425.69,614.97 L1425.28,615.42 L1424.86,615.86 L1424.45,616.3 L1424.04,616.72 L1423.62,617.14 L1423.21,617.56 L1422.79,617.97 L1422.36,618.38 L1421.93,618.8 L1421.5,619.21 L1421.06,619.62 L1420.61,620.04 L1420.16,620.47 L1419.7,620.9 L1419.26,621.31 L1418.82,621.72 L1418.38,622.14 L1417.93,622.57 L1417.47,622.99 L1417.01,623.42 L1416.55,623.84 L1416.08,624.27 L1415.61,624.7 L1415.13,625.13 L1414.65,625.55 L1414.17,625.97 L1413.68,626.39 L1413.19,626.81 L1412.7,627.21 L1412.2,627.62 L1411.7,628.01 L1411.2,628.4 L1410.72,628.77 L1410.23,629.13 L1409.74,629.49 L1409.24,629.84 L1408.75,630.2 L1408.25,630.55 L1407.74,630.89 L1407.24,631.23 L1406.73,631.57 L1406.21,631.91 L1405.7,632.24 L1405.18,632.57 L1404.66,632.9 L1404.14,633.22 L1403.62,633.54 L1403.09,633.86 L1402.56,634.18 L1402.03,634.49 L1401.5,634.8 L1400.96,635.12 L1400.41,635.44 L1399.86,635.77 L1399.3,636.1 L1398.75,636.43 L1398.18,636.76 L1397.62,637.08 L1397.06,637.41 L1396.49,637.73 L1395.92,638.03 L1395.35,638.34 L1394.78,638.62 L1394.21,638.9 L1393.64,639.16 L1393.07,639.41 L1392.5,639.64 L1391.93,639.85 L1391.36,640.04 L1390.8,640.2 L1390.2,640.36 L1389.59,640.5 L1388.99,640.62 L1388.38,640.74 L1387.77,640.83 L1387.16,640.91 L1386.55,640.98 L1385.94,641.03 L1385.34,641.06 L1384.73,641.08" fill="none" stroke="#4DBEEE" stroke-width="6" stroke-linejoin="bevel" stroke-linecap="butt" stroke-dasharray="5.5 5.2" stroke-dashoffset="0"/>
<path d="M1507.9,337.9 L1507.99,338.52 L1508.08,339.13 L1508.17,339.75 L1508.26,340.37 L1508.35,340.99 L1508.44,341.61 L1508.54,342.23 L1508.63,342.84 L1508.72,343.46 L1508.81,344.08 L1508.9,344.7 L1508.99,345.31 L1509.08,345.93 L1509.16,346.55 L1509.25,347.16 L1509.33,347.77 L1509.42,348.39 L1509.5,349 L1509.58,349.63 L1509.67,350.27 L1509.75,350.9 L1509.83,351.54 L1509.9,352.17 L1509.98,352.8 L1510.06,353.44 L1510.13,354.07 L1510.21,354.7 L1510.28,355.33 L1510.36,355.96 L1510.43,356.58 L1510.5,357.21 L1510.58,357.84 L1510.65,358.46 L1510.73,359.08 L1510.8,359.7 L1510.88,360.33 L1510.95,360.96 L1511.02,361.59 L1511.09,362.22 L1511.16,362.84 L1511.24,363.46 L1511.31,364.08 L1511.38,364.7 L1511.45,365.32 L1511.52,365.94 L1511.6,366.56 L1511.67,367.19 L1511.75,367.81 L1511.83,368.44 L1511.91,369.07 L1512,369.7 L1512.08,370.29 L1512.17,370.87 L1512.26,371.46 L1512.35,372.05 L1512.44,372.65 L1512.54,373.24 L1512.63,373.83 L1512.73,374.43 L1512.83,375.03 L1512.93,375.62 L1513.03,376.22 L1513.12,376.82 L1513.22,377.41 L1513.32,378.01 L1513.42,378.61 L1513.51,379.21 L1513.61,379.8 L1513.7,380.4 L1513.79,381 L1513.88,381.6 L1513.96,382.2 L1514.04,382.81 L1514.12,383.41 L1514.19,384.02 L1514.27,384.62 L1514.35,385.23 L1514.43,385.83 L1514.51,386.44 L1514.59,387.04 L1514.67,387.64 L1514.76,388.24 L1514.86,388.84 L1514.96,389.43 L1515.07,390.03 L1515.18,390.62 L1515.3,391.2 L1515.43,391.8 L1515.56,392.39 L1515.7,392.99 L1515.84,393.58 L1515.98,394.16 L1516.13,394.75 L1516.28,395.33 L1516.44,395.91 L1516.6,396.49 L1516.76,397.07 L1516.93,397.65 L1517.11,398.23 L1517.3,398.8 L1517.49,399.38 L1517.68,399.95 L1517.89,400.53 L1518.1,401.1 L1518.31,401.66 L1518.53,402.23 L1518.74,402.79 L1518.97,403.37 L1519.19,403.94 L1519.42,404.51 L1519.66,405.08 L1519.91,405.65 L1520.16,406.21 L1520.41,406.77 L1520.68,407.33 L1520.95,407.88 L1521.23,408.42 L1521.53,408.96 L1521.83,409.49 L1522.14,410 L1522.46,410.51 L1522.8,411 L1523.16,411.5 L1523.53,412.01 L1523.91,412.51 L1524.31,413 L1524.71,413.49 L1525.12,413.98 L1525.54,414.45 L1525.97,414.92 L1526.41,415.37 L1526.86,415.82 L1527.32,416.25 L1527.78,416.66 L1528.25,417.07 L1528.73,417.45 L1529.21,417.82 L1529.7,418.17 L1530.2,418.5 L1530.71,418.82 L1531.24,419.13 L1531.77,419.43 L1532.31,419.72 L1532.87,420 L1533.43,420.26 L1533.99,420.5 L1534.57,420.73 L1535.15,420.94 L1535.73,421.13 L1536.32,421.3 L1536.91,421.45 L1537.51,421.57 L1538.1,421.67 L1538.7,421.75 L1539.3,421.8 L1539.88,421.82" fill="none" stroke="#4DBEEE" stroke-width="6" stroke-linejoin="bevel" stroke-linecap="butt" stroke-dasharray="5.5 5.2" stroke-dashoffset="0"/>
<path d="M1662.6,139.5 L1662.42,140.08 L1662.24,140.64 L1662.05,141.19 L1661.87,141.75 L1661.69,142.31 L1661.51,142.89 L1661.33,143.49 L1661.16,144.12 L1661,144.8 L1660.89,145.3 L1660.78,145.83 L1660.67,146.37 L1660.57,146.94 L1660.47,147.52 L1660.37,148.11 L1660.27,148.72 L1660.17,149.33 L1660.08,149.96 L1659.99,150.59 L1659.9,151.22 L1659.81,151.86 L1659.72,152.49 L1659.63,153.13 L1659.55,153.76 L1659.46,154.38 L1659.38,154.99 L1659.3,155.6 L1659.22,156.23 L1659.14,156.86 L1659.06,157.49 L1658.99,158.12 L1658.91,158.75 L1658.84,159.38 L1658.78,160 L1658.71,160.63 L1658.64,161.26 L1658.58,161.89 L1658.51,162.52 L1658.44,163.15 L1658.38,163.78 L1658.31,164.41 L1658.24,165.04 L1658.17,165.67 L1658.1,166.3 L1658.03,166.9 L1657.96,167.5 L1657.89,168.1 L1657.82,168.7 L1657.75,169.3 L1657.68,169.9 L1657.61,170.5 L1657.54,171.1 L1657.47,171.7 L1657.4,172.3 L1657.33,172.9 L1657.26,173.5 L1657.19,174.1 L1657.11,174.7 L1657.03,175.3 L1656.96,175.9 L1656.88,176.5 L1656.8,177.1 L1656.72,177.7 L1656.64,178.3 L1656.55,178.91 L1656.47,179.51 L1656.38,180.12 L1656.3,180.72 L1656.21,181.32 L1656.12,181.93 L1656.03,182.53 L1655.94,183.13 L1655.85,183.74 L1655.76,184.34 L1655.67,184.94 L1655.57,185.53 L1655.48,186.13 L1655.39,186.72 L1655.29,187.31 L1655.2,187.9 L1655.1,188.53 L1655,189.15 L1654.9,189.77 L1654.8,190.39 L1654.7,191 L1654.6,191.61 L1654.5,192.22 L1654.4,192.83 L1654.29,193.44 L1654.19,194.05 L1654.08,194.67 L1653.97,195.28 L1653.86,195.9 L1653.74,196.53 L1653.62,197.16 L1653.5,197.8 L1653.38,198.39 L1653.26,198.99 L1653.14,199.59 L1653.01,200.2 L1652.88,200.81 L1652.75,201.43 L1652.62,202.05 L1652.48,202.67 L1652.35,203.29 L1652.21,203.91 L1652.07,204.54 L1651.93,205.16 L1651.8,205.77 L1651.66,206.39 L1651.52,207 L1651.39,207.61 L1651.26,208.21 L1651.13,208.81 L1651,209.4 L1650.86,210.04 L1650.73,210.67 L1650.6,211.3 L1650.47,211.92 L1650.35,212.54 L1650.22,213.15 L1650.1,213.76 L1649.97,214.38 L1649.85,214.98 L1649.72,215.59 L1649.59,216.2 L1649.46,216.82 L1649.33,217.43 L1649.19,218.05 L1649.05,218.67 L1648.9,219.3 L1648.76,219.89 L1648.62,220.48 L1648.48,221.08 L1648.34,221.68 L1648.2,222.28 L1648.06,222.88 L1647.92,223.48 L1647.77,224.09 L1647.62,224.69 L1647.47,225.29 L1647.31,225.9 L1647.15,226.5 L1646.99,227.11 L1646.82,227.71 L1646.65,228.31 L1646.47,228.91 L1646.29,229.51 L1646.1,230.1 L1645.91,230.66 L1645.72,231.22 L1645.52,231.77 L1645.32,232.31 L1645.11,232.85 L1644.89,233.38 L1644.68,233.91 L1644.46,234.45 L1644.23,234.98 L1644.01,235.52 L1643.78,236.07 L1643.55,236.62 L1643.32,237.18 L1643.08,237.75 L1642.85,238.33 L1642.61,238.92 L1642.37,239.53 L1642.14,240.16 L1641.9,240.8 L1641.72,241.3 L1641.54,241.81 L1641.36,242.33 L1641.18,242.86 L1640.99,243.4 L1640.81,243.95 L1640.63,244.5 L1640.44,245.07 L1640.25,245.64 L1640.06,246.21 L1639.88,246.8 L1639.69,247.39 L1639.5,247.98 L1639.3,248.58 L1639.11,249.18 L1638.92,249.79 L1638.72,250.4 L1638.53,251.01 L1638.33,251.62 L1638.14,252.24 L1637.94,252.85 L1637.74,253.47 L1637.54,254.09 L1637.34,254.7 L1637.14,255.32 L1636.94,255.93 L1636.74,256.54 L1636.53,257.15 L1636.33,257.75 L1636.12,258.35 L1635.92,258.95 L1635.71,259.54 L1635.51,260.12 L1635.3,260.7 L1635.09,261.29 L1634.87,261.88 L1634.66,262.47 L1634.44,263.07 L1634.22,263.67 L1634,264.27 L1633.77,264.87 L1633.55,265.47 L1633.32,266.08 L1633.09,266.68 L1632.86,267.28 L1632.63,267.89 L1632.4,268.49 L1632.17,269.09 L1631.94,269.69 L1631.71,270.29 L1631.48,270.88 L1631.25,271.47 L1631.02,272.06 L1630.79,272.64 L1630.56,273.22 L1630.33,273.8 L1630.1,274.37 L1629.87,274.93 L1629.65,275.49 L1629.42,276.04 L1629.2,276.59 L1628.98,277.13 L1628.76,277.66 L1628.54,278.18 L1628.32,278.7 L1628.11,279.2 L1627.9,279.7 L1627.62,280.34 L1627.35,280.96 L1627.09,281.55 L1626.83,282.13 L1626.57,282.69 L1626.31,283.23 L1626.06,283.77 L1625.81,284.3 L1625.55,284.83 L1625.3,285.35 L1625.05,285.88 L1624.79,286.41 L1624.53,286.95 L1624.27,287.5 L1624.01,288.06 L1623.74,288.64 L1623.47,289.24 L1623.19,289.86 L1622.9,290.5 L1622.69,290.98 L1622.47,291.48 L1622.26,291.98 L1622.04,292.49 L1621.82,293.01 L1621.59,293.54 L1621.37,294.07 L1621.14,294.62 L1620.91,295.17 L1620.68,295.72 L1620.45,296.28 L1620.22,296.85 L1619.98,297.42 L1619.75,297.99 L1619.51,298.57 L1619.27,299.15 L1619.03,299.74 L1618.79,300.33 L1618.55,300.92 L1618.3,301.51 L1618.06,302.1 L1617.82,302.7 L1617.57,303.29 L1617.33,303.89 L1617.08,304.48 L1616.83,305.07 L1616.58,305.67 L1616.34,306.26 L1616.09,306.84 L1615.84,307.43 L1615.59,308.01 L1615.34,308.59 L1615.1,309.16 L1614.85,309.73 L1614.6,310.3 L1614.36,310.85 L1614.11,311.41 L1613.86,311.97 L1613.6,312.54 L1613.35,313.11 L1613.09,313.68 L1612.82,314.26 L1612.56,314.84 L1612.29,315.42 L1612.03,316 L1611.76,316.58 L1611.49,317.16 L1611.22,317.75 L1610.95,318.33 L1610.68,318.91 L1610.41,319.49 L1610.14,320.06 L1609.87,320.64 L1609.6,321.21 L1609.34,321.78 L1609.07,322.34 L1608.81,322.9 L1608.55,323.46 L1608.29,324 L1608.04,324.55 L1607.79,325.08 L1607.54,325.61 L1607.29,326.14 L1607.05,326.65 L1606.82,327.16 L1606.58,327.66 L1606.36,328.15 L1606.13,328.63 L1605.92,329.09 L1605.71,329.55 L1605.5,330 L1605.2,330.66 L1604.91,331.28 L1604.63,331.89 L1604.36,332.47 L1604.09,333.03 L1603.84,333.58 L1603.59,334.12 L1603.34,334.65 L1603.1,335.18 L1602.86,335.7 L1602.62,336.23 L1602.38,336.76 L1602.14,337.3 L1601.9,337.85 L1601.65,338.42 L1601.4,339 L1601.17,339.55 L1600.94,340.11 L1600.71,340.68 L1600.48,341.26 L1600.25,341.84 L1600.03,342.43 L1599.8,343.02 L1599.58,343.62 L1599.35,344.21 L1599.13,344.81 L1598.9,345.41 L1598.67,346 L1598.44,346.59 L1598.21,347.17 L1597.97,347.75 L1597.73,348.33 L1597.49,348.9 L1597.25,349.45 L1597,350 L1596.72,350.59 L1596.44,351.16 L1596.15,351.73 L1595.85,352.29 L1595.56,352.85 L1595.26,353.4 L1594.95,353.94 L1594.65,354.48 L1594.35,355.02 L1594.04,355.57 L1593.74,356.11 L1593.45,356.66 L1593.15,357.21 L1592.86,357.76 L1592.58,358.33 L1592.3,358.9 L1592.04,359.46 L1591.78,360.03 L1591.52,360.61 L1591.27,361.19 L1591.02,361.77 L1590.77,362.36 L1590.53,362.95 L1590.28,363.54 L1590.04,364.13 L1589.8,364.72 L1589.56,365.31 L1589.32,365.9 L1589.08,366.49 L1588.84,367.07 L1588.59,367.65 L1588.35,368.23 L1588.1,368.8 L1587.85,369.38 L1587.59,369.96 L1587.34,370.53 L1587.09,371.1 L1586.84,371.66 L1586.59,372.23 L1586.34,372.79 L1586.09,373.36 L1585.84,373.92 L1585.58,374.48 L1585.33,375.05 L1585.07,375.61 L1584.81,376.18 L1584.54,376.75 L1584.27,377.32 L1584,377.9 L1583.74,378.45 L1583.48,379 L1583.22,379.55 L1582.95,380.11 L1582.69,380.67 L1582.42,381.23 L1582.15,381.8 L1581.87,382.36 L1581.6,382.92 L1581.32,383.49 L1581.04,384.05 L1580.76,384.61 L1580.47,385.17 L1580.19,385.72 L1579.89,386.27 L1579.6,386.82 L1579.3,387.36 L1579,387.9 L1578.68,388.45 L1578.36,389 L1578.04,389.55 L1577.71,390.09 L1577.38,390.63 L1577.04,391.17 L1576.71,391.71 L1576.37,392.24 L1576.02,392.77 L1575.68,393.3 L1575.33,393.83 L1574.98,394.36 L1574.63,394.89 L1574.27,395.41 L1573.92,395.94 L1573.56,396.47 L1573.2,397 L1572.85,397.51 L1572.5,398.03 L1572.15,398.54 L1571.8,399.06 L1571.45,399.58 L1571.09,400.1 L1570.73,400.62 L1570.37,401.14 L1570.01,401.65 L1569.65,402.17 L1569.28,402.68 L1568.91,403.18 L1568.53,403.68 L1568.15,404.18 L1567.77,404.67 L1567.38,405.15 L1566.99,405.63 L1566.6,406.1 L1566.19,406.57 L1565.79,407.04 L1565.37,407.51 L1564.96,407.97 L1564.55,408.43 L1564.13,408.88 L1563.7,409.33 L1563.28,409.77 L1562.84,410.21 L1562.41,410.64 L1561.97,411.07 L1561.52,411.49 L1561.07,411.9 L1560.61,412.31 L1560.15,412.71 L1559.68,413.11 L1559.2,413.5 L1558.71,413.89 L1558.21,414.28 L1557.71,414.67 L1557.2,415.05 L1556.69,415.43 L1556.17,415.81 L1555.64,416.18 L1555.11,416.54 L1554.58,416.89 L1554.04,417.23 L1553.49,417.57 L1552.94,417.89 L1552.38,418.2 L1551.82,418.5 L1551.25,418.78 L1550.68,419.05 L1550.1,419.3 L1549.54,419.53 L1548.96,419.76 L1548.38,419.99 L1547.79,420.2 L1547.18,420.41 L1546.58,420.62 L1545.96,420.81 L1545.35,420.99 L1544.73,421.15 L1544.11,421.3 L1543.49,421.44 L1542.88,421.55 L1542.26,421.65 L1541.66,421.73 L1541.05,421.78 L1540.46,421.81 L1539.88,421.82" fill="none" stroke="#4DBEEE" stroke-width="6" stroke-linejoin="bevel" stroke-linecap="butt" stroke-dasharray="5.5 5.2" stroke-dashoffset="0"/>
<path d="M1662.6,139.5 L1662.72,140.1 L1662.85,140.69 L1662.97,141.29 L1663.1,141.88 L1663.22,142.48 L1663.35,143.07 L1663.47,143.67 L1663.6,144.27 L1663.72,144.86 L1663.85,145.46 L1663.97,146.06 L1664.1,146.65 L1664.22,147.25 L1664.35,147.84 L1664.47,148.44 L1664.6,149.03 L1664.72,149.62 L1664.85,150.22 L1664.97,150.81 L1665.1,151.4 L1665.23,152.02 L1665.36,152.63 L1665.49,153.25 L1665.62,153.87 L1665.75,154.49 L1665.88,155.11 L1666.01,155.72 L1666.14,156.34 L1666.27,156.96 L1666.4,157.57 L1666.53,158.19 L1666.66,158.8 L1666.8,159.41 L1666.93,160.02 L1667.06,160.62 L1667.19,161.22 L1667.33,161.82 L1667.46,162.41 L1667.6,163 L1667.74,163.61 L1667.88,164.21 L1668.02,164.81 L1668.16,165.4 L1668.3,165.99 L1668.44,166.58 L1668.59,167.16 L1668.73,167.74 L1668.87,168.32 L1669.02,168.9 L1669.16,169.48 L1669.31,170.06 L1669.46,170.65 L1669.62,171.23 L1669.78,171.82 L1669.94,172.41 L1670.1,173 L1670.26,173.59 L1670.43,174.18 L1670.59,174.78 L1670.75,175.38 L1670.91,175.99 L1671.08,176.59 L1671.25,177.2 L1671.42,177.8 L1671.59,178.41 L1671.77,179.01 L1671.95,179.62 L1672.14,180.22 L1672.33,180.81 L1672.53,181.4 L1672.74,181.99 L1672.95,182.56 L1673.17,183.14 L1673.4,183.7 L1673.64,184.27 L1673.88,184.84 L1674.13,185.41 L1674.38,185.97 L1674.63,186.53 L1674.89,187.09 L1675.16,187.65 L1675.43,188.2 L1675.71,188.74 L1676,189.28 L1676.3,189.81 L1676.61,190.34 L1676.92,190.85 L1677.25,191.35 L1677.59,191.85 L1677.94,192.33 L1678.3,192.8 L1678.7,193.29 L1679.11,193.78 L1679.54,194.27 L1679.99,194.76 L1680.44,195.24 L1680.91,195.72 L1681.39,196.18 L1681.88,196.63 L1682.37,197.06 L1682.87,197.48 L1683.36,197.87 L1683.86,198.24 L1684.35,198.58 L1684.84,198.88 L1685.32,199.16 L1685.8,199.4 L1686.44,199.68 L1687.09,199.9 L1687.74,200.09 L1688.39,200.23 L1689.03,200.32 L1689.68,200.37 L1690.32,200.39 L1690.96,200.36 L1691.6,200.3 L1692.19,200.2 L1692.76,200.05 L1693.34,199.87 L1693.91,199.64 L1694.47,199.38 L1695.05,199.1 L1695.62,198.8 L1696.2,198.47 L1696.8,198.14 L1697.4,197.8 L1697.89,197.52 L1698.38,197.23 L1698.89,196.92 L1699.4,196.61 L1699.92,196.27 L1700.44,195.93 L1700.97,195.58 L1701.49,195.21 L1702.02,194.84 L1702.55,194.46 L1703.07,194.06 L1703.59,193.66 L1704.1,193.26 L1704.61,192.84 L1705.11,192.42 L1705.6,192 L1706.03,191.61 L1706.46,191.2 L1706.89,190.79 L1707.31,190.37 L1707.73,189.93 L1708.14,189.49 L1708.55,189.04 L1708.96,188.59 L1709.36,188.13 L1709.77,187.67 L1710.17,187.2 L1710.57,186.73 L1710.97,186.26 L1711.37,185.8 L1711.78,185.33 L1712.18,184.87 L1712.58,184.41 L1712.99,183.95 L1713.4,183.5" fill="none" stroke="#4DBEEE" stroke-width="6" stroke-linejoin="bevel" stroke-linecap="butt" stroke-dasharray="5.5 5.2" stroke-dashoffset="0"/>
<rect x="204.6" y="101.9" width="214.3" height="435" fill="#fff" stroke="#262626" stroke-width="2"/>
<circle cx="268.8" cy="142.2" r="10.7" fill="none" stroke="#0072BD" stroke-width="2.1"/>
<path d="M261.5,205.9 l14.6,14.6 M261.5,220.5 l14.6,-14.6" stroke="#D95319" stroke-width="2.1" fill="none"/>
<path d="M215.2,284.1 H322.7" stroke="#EDB120" stroke-width="6" stroke-dasharray="21.5 21.5" fill="none"/>
<path d="M215.2,354.9 H322.7" stroke="#7E2F8E" stroke-width="6" stroke-dasharray="21.4 5.35 10.9 5.35" fill="none"/>
<path d="M215.2,425.8 H322.7" stroke="#77AC30" stroke-width="6" fill="none"/>
<path d="M215.2,496.6 H317.7" stroke="#4DBEEE" stroke-width="6" stroke-dasharray="5.6 5.1" fill="none"/>
<text class="it k" transform="translate(332.6,156.3) scale(1.1339,1)" font-size="59.71">N</text>
<text class="rm k" transform="translate(375.66,164.8) scale(1.0535,1)" font-size="40.44">1</text>
<text class="it k" transform="translate(332.6,227.3) scale(1.1339,1)" font-size="59.71">N</text>
<text class="rm k" transform="translate(376.78,235.8) scale(1.0269,1)" font-size="40.33">2</text>
<text class="it k" transform="translate(329.44,298.29) scale(1.1014,1)" font-size="60.01">W</text>
<text class="rm k" transform="translate(384.66,306.7) scale(1.0535,1)" font-size="40.44">1</text>
<text class="it k" transform="translate(329.44,369.09) scale(1.1014,1)" font-size="60.01">W</text>
<text class="rm k" transform="translate(385.78,377.5) scale(1.0269,1)" font-size="40.33">2</text>
<text class="it k" transform="translate(332.97,441.09) scale(1.1236,1)" font-size="62.96">S</text>
<text class="rm k" transform="translate(364.96,448.4) scale(1.0535,1)" font-size="40.44">1</text>
<text class="it k" transform="translate(332.97,511.89) scale(1.1236,1)" font-size="62.96">S</text>
<text class="rm k" transform="translate(366.08,519.2) scale(1.0269,1)" font-size="40.33">2</text>
<rect x="1084.9" y="101.9" width="214.3" height="435" fill="#fff" stroke="#262626" stroke-width="2"/>
<circle cx="1149.1" cy="142.2" r="10.7" fill="none" stroke="#0072BD" stroke-width="2.1"/>
<path d="M1141.8,205.9 l14.6,14.6 M1141.8,220.5 l14.6,-14.6" stroke="#D95319" stroke-width="2.1" fill="none"/>
<path d="M1095.5,284.1 H1203" stroke="#EDB120" stroke-width="6" stroke-dasharray="21.5 21.5" fill="none"/>
<path d="M1095.5,354.9 H1203" stroke="#7E2F8E" stroke-width="6" stroke-dasharray="21.4 5.35 10.9 5.35" fill="none"/>
<path d="M1095.5,425.8 H1203" stroke="#77AC30" stroke-width="6" fill="none"/>
<path d="M1095.5,496.6 H1198" stroke="#4DBEEE" stroke-width="6" stroke-dasharray="5.6 5.1" fill="none"/>
<text class="it k" transform="translate(1212.9,156.3) scale(1.1339,1)" font-size="59.71">N</text>
<text class="rm k" transform="translate(1255.96,164.8) scale(1.0535,1)" font-size="40.44">1</text>
<text class="it k" transform="translate(1212.9,227.3) scale(1.1339,1)" font-size="59.71">N</text>
<text class="rm k" transform="translate(1257.08,235.8) scale(1.0269,1)" font-size="40.33">2</text>
<text class="it k" transform="translate(1209.74,298.29) scale(1.1014,1)" font-size="60.01">W</text>
<text class="rm k" transform="translate(1264.96,306.7) scale(1.0535,1)" font-size="40.44">1</text>
<text class="it k" transform="translate(1209.74,369.09) scale(1.1014,1)" font-size="60.01">W</text>
<text class="rm k" transform="translate(1266.08,377.5) scale(1.0269,1)" font-size="40.33">2</text>
<text class="it k" transform="translate(1213.27,441.09) scale(1.1236,1)" font-size="62.96">S</text>
<text class="rm k" transform="translate(1245.26,448.4) scale(1.0535,1)" font-size="40.44">1</text>
<text class="it k" transform="translate(1213.27,511.89) scale(1.1236,1)" font-size="62.96">S</text>
<text class="rm k" transform="translate(1246.38,519.2) scale(1.0269,1)" font-size="40.33">2</text>
<text class="rm" x="143" y="1183.5" font-size="64" text-anchor="end">0</text>
<text class="rm" x="143" y="955.38" font-size="64" text-anchor="end">4</text>
<text class="rm" x="143" y="727.26" font-size="64" text-anchor="end">8</text>
<text class="rm" x="143" y="499.14" font-size="64" text-anchor="end">12</text>
<text class="rm" x="143" y="271.02" font-size="64" text-anchor="end">16</text>
<text class="rm" x="143" y="42.9" font-size="64" text-anchor="end">20</text>
<text class="rm" x="1023.3" y="1176.8" font-size="64" text-anchor="end">0</text>
<text class="rm" x="1023.3" y="1050.88" font-size="64" text-anchor="end">2</text>
<text class="rm" x="1023.3" y="799.04" font-size="64" text-anchor="end">6</text>
<text class="rm" x="1023.3" y="547.2" font-size="64" text-anchor="end">10</text>
<text class="rm" x="1023.3" y="295.36" font-size="64" text-anchor="end">14</text>
<text class="rm" x="1023.3" y="43.52" font-size="64" text-anchor="end">18</text>
<text class="rm" x="163.5" y="1306" font-size="64" text-anchor="middle">0</text>
<text class="rm" x="1043.8" y="1306" font-size="64" text-anchor="middle">0</text>
<text class="rm" x="431.34" y="1306" font-size="64" text-anchor="middle">2</text>
<text class="rm" x="1311.64" y="1306" font-size="64" text-anchor="middle">2</text>
<text class="rm" x="699.18" y="1306" font-size="64" text-anchor="middle">4</text>
<text class="rm" x="1579.48" y="1306" font-size="64" text-anchor="middle">4</text>
<text class="sf" x="494" y="77.8" font-size="58" text-anchor="middle">(a)</text>
<text class="sf" x="1369.5" y="77.8" font-size="58" text-anchor="middle">(b)</text>
<text class="it" transform="translate(446.62,1386.43) scale(1.1322,1)" font-size="68.92">J</text>
<text class="dl" transform="translate(484.7,1395.5) skewX(-7.442) scale(0.6934,1)" font-size="80.8">/</text>
<text class="it" transform="translate(515.34,1385.91) scale(1.1045,1)" font-size="60.59">π</text>
<text class="rm" transform="translate(1315.56,1385.9) scale(1.2113,1)" font-size="70.13">Δ</text>
<text class="dl" transform="translate(1373.08,1395.5) skewX(-7.272) scale(0.6934,1)" font-size="80.8">/</text>
<text class="it" transform="translate(1403.14,1385.91) scale(1.1077,1)" font-size="60.59">π</text>
<g transform="translate(0,831.3) rotate(-90)">
<text class="it" transform="translate(0.57,46) scale(1.1271,1)" font-size="68.57">N</text>
<text class="rm" transform="translate(49.61,55.1) scale(0.9751,1)" font-size="45.44">1</text>
<text class="rm" transform="translate(74.36,55.5) scale(0.7773,1)" font-size="55.29">,</text>
<text class="rm" transform="translate(85.32,55.1) scale(0.9965,1)" font-size="45.31">2</text>
<text class="rm" transform="translate(114.1,45.94) scale(0.7142,1)" font-size="77.09">,</text>
<text class="it" transform="translate(148.33,45.87) scale(1.1247,1)" font-size="68.37">W</text>
<text class="rm" transform="translate(210.86,55.1) scale(0.9626,1)" font-size="45.44">1</text>
<text class="rm" transform="translate(235.89,55.5) scale(0.7166,1)" font-size="55.29">,</text>
<text class="rm" transform="translate(246.77,55.1) scale(0.9690,1)" font-size="45.31">2</text>
<text class="rm" transform="translate(275.35,45.94) scale(0.6968,1)" font-size="77.09">,</text>
<text class="it" transform="translate(313.54,46.22) scale(1.1772,1)" font-size="69.8">S</text>
<text class="rm" transform="translate(350.53,55.1) scale(0.9688,1)" font-size="45.44">1</text>
<text class="rm" transform="translate(375.39,55.5) scale(0.7166,1)" font-size="55.29">,</text>
<text class="rm" transform="translate(385.88,55.1) scale(1.0130,1)" font-size="45.31">2</text>
</g>
</svg>
</body></html>
